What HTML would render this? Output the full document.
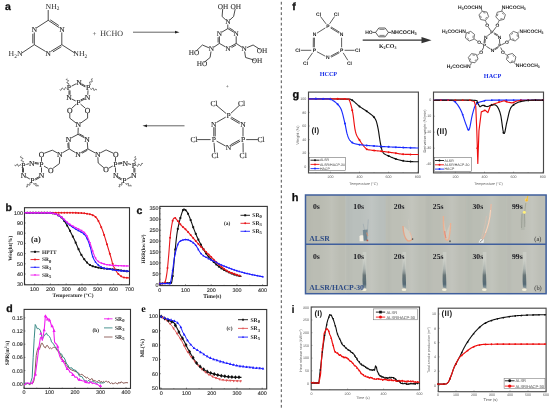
<!DOCTYPE html>
<html><head><meta charset="utf-8"><title>Figure</title><style>html,body{margin:0;padding:0;background:#fff;width:550px;height:410px;overflow:hidden}svg{display:block}text{text-rendering:geometricPrecision}</style></head><body>
<svg width="550" height="410" viewBox="0 0 550 410">
<defs><filter id="gb" x="0" y="0" width="100%" height="100%" filterUnits="userSpaceOnUse"><feGaussianBlur stdDeviation="0.3"/></filter></defs><g filter="url(#gb)">
<rect width="550" height="410" fill="#fff"/>
<text x="5.50" y="211.00" font-family="'Liberation Sans', Arial, sans-serif" font-size="10.5" font-weight="bold" fill="#111" text-anchor="start" stroke="#111" stroke-width="0.3">b</text>
<rect x="24.5" y="207.7" width="105.0" height="77.10000000000002" fill="none" stroke="#333" stroke-width="1.1"/>
<line x1="34.60" y1="284.80" x2="34.60" y2="283.50" stroke="#333" stroke-width="0.6"/>
<text x="34.60" y="290.80" font-family="'Liberation Sans', Arial, sans-serif" font-size="5.4" font-weight="normal" fill="#2a2a2a" text-anchor="middle" stroke="#2a2a2a" stroke-width="0.12">100</text>
<line x1="50.40" y1="284.80" x2="50.40" y2="283.50" stroke="#333" stroke-width="0.6"/>
<text x="50.40" y="290.80" font-family="'Liberation Sans', Arial, sans-serif" font-size="5.4" font-weight="normal" fill="#2a2a2a" text-anchor="middle" stroke="#2a2a2a" stroke-width="0.12">200</text>
<line x1="66.20" y1="284.80" x2="66.20" y2="283.50" stroke="#333" stroke-width="0.6"/>
<text x="66.20" y="290.80" font-family="'Liberation Sans', Arial, sans-serif" font-size="5.4" font-weight="normal" fill="#2a2a2a" text-anchor="middle" stroke="#2a2a2a" stroke-width="0.12">300</text>
<line x1="82.00" y1="284.80" x2="82.00" y2="283.50" stroke="#333" stroke-width="0.6"/>
<text x="82.00" y="290.80" font-family="'Liberation Sans', Arial, sans-serif" font-size="5.4" font-weight="normal" fill="#2a2a2a" text-anchor="middle" stroke="#2a2a2a" stroke-width="0.12">400</text>
<line x1="97.80" y1="284.80" x2="97.80" y2="283.50" stroke="#333" stroke-width="0.6"/>
<text x="97.80" y="290.80" font-family="'Liberation Sans', Arial, sans-serif" font-size="5.4" font-weight="normal" fill="#2a2a2a" text-anchor="middle" stroke="#2a2a2a" stroke-width="0.12">500</text>
<line x1="113.60" y1="284.80" x2="113.60" y2="283.50" stroke="#333" stroke-width="0.6"/>
<text x="113.60" y="290.80" font-family="'Liberation Sans', Arial, sans-serif" font-size="5.4" font-weight="normal" fill="#2a2a2a" text-anchor="middle" stroke="#2a2a2a" stroke-width="0.12">600</text>
<line x1="129.40" y1="284.80" x2="129.40" y2="283.50" stroke="#333" stroke-width="0.6"/>
<text x="129.40" y="290.80" font-family="'Liberation Sans', Arial, sans-serif" font-size="5.4" font-weight="normal" fill="#2a2a2a" text-anchor="middle" stroke="#2a2a2a" stroke-width="0.12">700</text>
<line x1="42.50" y1="284.80" x2="42.50" y2="284.02" stroke="#333" stroke-width="0.5"/>
<line x1="58.30" y1="284.80" x2="58.30" y2="284.02" stroke="#333" stroke-width="0.5"/>
<line x1="74.10" y1="284.80" x2="74.10" y2="284.02" stroke="#333" stroke-width="0.5"/>
<line x1="89.90" y1="284.80" x2="89.90" y2="284.02" stroke="#333" stroke-width="0.5"/>
<line x1="105.70" y1="284.80" x2="105.70" y2="284.02" stroke="#333" stroke-width="0.5"/>
<line x1="121.50" y1="284.80" x2="121.50" y2="284.02" stroke="#333" stroke-width="0.5"/>
<line x1="24.50" y1="284.20" x2="25.80" y2="284.20" stroke="#333" stroke-width="0.6"/>
<text x="23.10" y="286.10" font-family="'Liberation Sans', Arial, sans-serif" font-size="5.4" font-weight="normal" fill="#2a2a2a" text-anchor="end" stroke="#2a2a2a" stroke-width="0.12">30</text>
<line x1="24.50" y1="274.00" x2="25.80" y2="274.00" stroke="#333" stroke-width="0.6"/>
<text x="23.10" y="275.90" font-family="'Liberation Sans', Arial, sans-serif" font-size="5.4" font-weight="normal" fill="#2a2a2a" text-anchor="end" stroke="#2a2a2a" stroke-width="0.12">40</text>
<line x1="24.50" y1="263.80" x2="25.80" y2="263.80" stroke="#333" stroke-width="0.6"/>
<text x="23.10" y="265.70" font-family="'Liberation Sans', Arial, sans-serif" font-size="5.4" font-weight="normal" fill="#2a2a2a" text-anchor="end" stroke="#2a2a2a" stroke-width="0.12">50</text>
<line x1="24.50" y1="253.60" x2="25.80" y2="253.60" stroke="#333" stroke-width="0.6"/>
<text x="23.10" y="255.50" font-family="'Liberation Sans', Arial, sans-serif" font-size="5.4" font-weight="normal" fill="#2a2a2a" text-anchor="end" stroke="#2a2a2a" stroke-width="0.12">60</text>
<line x1="24.50" y1="243.40" x2="25.80" y2="243.40" stroke="#333" stroke-width="0.6"/>
<text x="23.10" y="245.30" font-family="'Liberation Sans', Arial, sans-serif" font-size="5.4" font-weight="normal" fill="#2a2a2a" text-anchor="end" stroke="#2a2a2a" stroke-width="0.12">70</text>
<line x1="24.50" y1="233.20" x2="25.80" y2="233.20" stroke="#333" stroke-width="0.6"/>
<text x="23.10" y="235.10" font-family="'Liberation Sans', Arial, sans-serif" font-size="5.4" font-weight="normal" fill="#2a2a2a" text-anchor="end" stroke="#2a2a2a" stroke-width="0.12">80</text>
<line x1="24.50" y1="223.00" x2="25.80" y2="223.00" stroke="#333" stroke-width="0.6"/>
<text x="23.10" y="224.90" font-family="'Liberation Sans', Arial, sans-serif" font-size="5.4" font-weight="normal" fill="#2a2a2a" text-anchor="end" stroke="#2a2a2a" stroke-width="0.12">90</text>
<line x1="24.50" y1="212.80" x2="25.80" y2="212.80" stroke="#333" stroke-width="0.6"/>
<text x="23.10" y="214.70" font-family="'Liberation Sans', Arial, sans-serif" font-size="5.4" font-weight="normal" fill="#2a2a2a" text-anchor="end" stroke="#2a2a2a" stroke-width="0.12">100</text>
<line x1="24.50" y1="279.10" x2="25.28" y2="279.10" stroke="#333" stroke-width="0.5"/>
<line x1="24.50" y1="268.90" x2="25.28" y2="268.90" stroke="#333" stroke-width="0.5"/>
<line x1="24.50" y1="258.70" x2="25.28" y2="258.70" stroke="#333" stroke-width="0.5"/>
<line x1="24.50" y1="248.50" x2="25.28" y2="248.50" stroke="#333" stroke-width="0.5"/>
<line x1="24.50" y1="238.30" x2="25.28" y2="238.30" stroke="#333" stroke-width="0.5"/>
<line x1="24.50" y1="228.10" x2="25.28" y2="228.10" stroke="#333" stroke-width="0.5"/>
<line x1="24.50" y1="217.90" x2="25.28" y2="217.90" stroke="#333" stroke-width="0.5"/>
<text x="73.00" y="297.40" font-family="'Liberation Serif', 'Times New Roman', serif" font-size="5.4" font-weight="bold" fill="#222" text-anchor="middle">Temperature (°C)</text>
<text x="12.30" y="248.20" font-family="'Liberation Serif', 'Times New Roman', serif" font-size="5.3" font-weight="bold" fill="#222" text-anchor="middle" transform="rotate(-90 12.3 248.2)">Weight(%)</text>
<polyline points="24.50,212.80 24.75,212.80 25.03,212.80 25.35,212.80 25.69,212.80 26.05,212.80 26.44,212.80 26.85,212.80 27.28,212.80 27.72,212.79 28.19,212.79 28.68,212.79 29.18,212.79 29.69,212.79 30.22,212.79 30.76,212.79 31.32,212.78 31.88,212.78 32.45,212.78 33.03,212.78 33.62,212.78 34.21,212.78 34.81,212.78 35.41,212.78 36.01,212.77 36.62,212.77 37.22,212.77 37.82,212.77 38.42,212.77 39.01,212.77 39.60,212.77 40.19,212.77 40.76,212.77 41.33,212.77 41.89,212.77 42.44,212.77 42.97,212.77 43.49,212.77 44.00,212.77 44.49,212.77 44.97,212.78 45.43,212.78 45.86,212.78 46.28,212.78 46.68,212.79 47.05,212.79 47.40,212.79 47.73,212.80 48.03,212.80 49.46,212.83 50.39,212.86 50.93,212.90 51.21,212.94 51.34,212.99 51.43,213.05 51.61,213.12 51.98,213.21 52.44,213.29 52.90,213.37 53.37,213.45 53.85,213.54 54.32,213.64 54.80,213.76 55.28,213.89 55.76,214.05 56.25,214.23 56.74,214.43 57.24,214.65 57.76,214.89 58.27,215.15 58.78,215.43 59.28,215.72 59.77,216.02 60.23,216.34 60.67,216.68 61.19,217.12 61.66,217.59 62.10,218.08 62.53,218.60 62.95,219.15 63.38,219.73 63.83,220.35 64.29,220.99 64.75,221.67 65.22,222.37 65.68,223.10 66.16,223.88 66.65,224.69 67.15,225.55 67.60,226.34 68.06,227.17 68.53,228.04 69.00,228.94 69.49,229.85 69.97,230.79 70.46,231.74 70.94,232.69 71.43,233.66 71.93,234.67 72.44,235.70 72.94,236.74 73.45,237.78 73.94,238.82 74.43,239.85 74.89,240.85 75.40,241.98 75.88,243.10 76.36,244.22 76.82,245.32 77.28,246.40 77.74,247.47 78.21,248.50 78.67,249.51 79.13,250.49 79.58,251.44 80.04,252.38 80.51,253.31 81.00,254.22 81.53,255.13 81.96,255.84 82.41,256.55 82.87,257.26 83.35,257.96 83.83,258.65 84.32,259.32 84.82,259.96 85.31,260.57 85.79,261.15 86.27,261.69 86.74,262.21 87.21,262.70 87.69,263.17 88.17,263.61 88.65,264.03 89.16,264.42 89.68,264.78 90.22,265.13 90.63,265.36 91.05,265.57 91.47,265.77 91.90,265.95 92.34,266.11 92.78,266.26 93.24,266.40 93.71,266.54 94.19,266.67 94.69,266.80 95.21,266.93 95.75,267.06 96.16,267.16 96.57,267.26 96.99,267.35 97.42,267.44 97.85,267.53 98.29,267.62 98.73,267.70 99.19,267.78 99.66,267.86 100.14,267.93 100.63,268.01 101.14,268.09 101.66,268.16 102.20,268.24 102.76,268.31 103.33,268.39 103.74,268.44 104.15,268.49 104.57,268.54 105.00,268.58 105.43,268.63 105.87,268.67 106.31,268.71 106.76,268.76 107.22,268.80 107.69,268.84 108.16,268.88 108.64,268.92 109.12,268.96 109.61,269.01 110.11,269.05 110.62,269.10 111.14,269.15 111.66,269.20 112.19,269.26 112.73,269.32 113.27,269.38 113.83,269.44 114.39,269.51 114.82,269.57 115.28,269.63 115.75,269.69 116.24,269.75 116.75,269.82 117.27,269.89 117.81,269.97 118.35,270.05 118.91,270.12 119.47,270.20 120.03,270.28 120.60,270.37 121.17,270.45 121.74,270.53 122.31,270.61 122.87,270.69 123.42,270.78 123.96,270.86 124.50,270.93 125.02,271.01 125.53,271.09 126.02,271.16 126.49,271.23 126.95,271.30 127.38,271.36 127.79,271.42 128.17,271.48 128.52,271.53 128.85,271.57 129.14,271.62 129.40,271.65" fill="none" stroke="#111" stroke-width="1.1" stroke-linejoin="round"/>
<rect x="26.38" y="211.85" width="1.90" height="1.90" fill="#111"/>
<rect x="29.23" y="211.84" width="1.90" height="1.90" fill="#111"/>
<rect x="32.07" y="211.83" width="1.90" height="1.90" fill="#111"/>
<rect x="34.91" y="211.82" width="1.90" height="1.90" fill="#111"/>
<rect x="37.76" y="211.82" width="1.90" height="1.90" fill="#111"/>
<rect x="40.60" y="211.82" width="1.90" height="1.90" fill="#111"/>
<rect x="43.45" y="211.82" width="1.90" height="1.90" fill="#111"/>
<rect x="46.29" y="211.84" width="1.90" height="1.90" fill="#111"/>
<rect x="49.13" y="211.90" width="1.90" height="1.90" fill="#111"/>
<rect x="51.98" y="212.42" width="1.90" height="1.90" fill="#111"/>
<rect x="54.82" y="213.10" width="1.90" height="1.90" fill="#111"/>
<rect x="57.67" y="214.39" width="1.90" height="1.90" fill="#111"/>
<rect x="60.51" y="216.44" width="1.90" height="1.90" fill="#111"/>
<rect x="63.35" y="220.06" width="1.90" height="1.90" fill="#111"/>
<rect x="66.20" y="224.60" width="1.90" height="1.90" fill="#111"/>
<rect x="69.04" y="229.88" width="1.90" height="1.90" fill="#111"/>
<rect x="71.89" y="235.57" width="1.90" height="1.90" fill="#111"/>
<rect x="74.73" y="241.68" width="1.90" height="1.90" fill="#111"/>
<rect x="77.57" y="248.23" width="1.90" height="1.90" fill="#111"/>
<rect x="80.42" y="253.91" width="1.90" height="1.90" fill="#111"/>
<rect x="83.26" y="258.21" width="1.90" height="1.90" fill="#111"/>
<rect x="86.11" y="261.59" width="1.90" height="1.90" fill="#111"/>
<rect x="88.95" y="263.98" width="1.90" height="1.90" fill="#111"/>
<rect x="91.79" y="265.30" width="1.90" height="1.90" fill="#111"/>
<rect x="94.64" y="266.07" width="1.90" height="1.90" fill="#111"/>
<rect x="97.48" y="266.69" width="1.90" height="1.90" fill="#111"/>
<rect x="100.33" y="267.16" width="1.90" height="1.90" fill="#111"/>
<rect x="103.17" y="267.54" width="1.90" height="1.90" fill="#111"/>
<rect x="106.01" y="267.82" width="1.90" height="1.90" fill="#111"/>
<rect x="108.86" y="268.08" width="1.90" height="1.90" fill="#111"/>
<rect x="111.70" y="268.36" width="1.90" height="1.90" fill="#111"/>
<rect x="114.55" y="268.70" width="1.90" height="1.90" fill="#111"/>
<rect x="117.39" y="269.09" width="1.90" height="1.90" fill="#111"/>
<rect x="120.23" y="269.50" width="1.90" height="1.90" fill="#111"/>
<rect x="123.08" y="269.91" width="1.90" height="1.90" fill="#111"/>
<rect x="125.92" y="270.33" width="1.90" height="1.90" fill="#111"/>
<polyline points="24.50,212.80 24.74,212.80 25.02,212.80 25.30,212.80 25.61,212.80 25.92,212.80 26.26,212.80 26.60,212.80 26.96,212.80 27.33,212.80 27.72,212.80 28.12,212.80 28.53,212.80 28.95,212.80 29.38,212.80 29.83,212.80 30.28,212.80 30.75,212.80 31.22,212.80 31.71,212.80 32.20,212.80 32.71,212.80 33.22,212.80 33.74,212.80 34.26,212.80 34.80,212.80 35.34,212.80 35.89,212.80 36.44,212.80 37.00,212.80 37.57,212.80 38.14,212.80 38.72,212.80 39.30,212.80 39.88,212.80 40.47,212.79 41.06,212.79 41.66,212.79 42.25,212.79 42.85,212.79 43.46,212.79 44.06,212.79 44.66,212.79 45.27,212.79 45.87,212.79 46.48,212.79 47.08,212.79 47.69,212.79 48.29,212.79 48.89,212.79 49.49,212.79 50.09,212.79 50.68,212.79 51.28,212.79 51.87,212.79 52.45,212.79 53.03,212.79 53.61,212.79 54.18,212.79 54.75,212.79 55.31,212.79 55.87,212.79 56.42,212.79 56.96,212.79 57.50,212.79 58.03,212.79 58.55,212.79 59.06,212.79 59.57,212.79 60.06,212.79 60.55,212.79 61.03,212.79 61.49,212.79 61.95,212.79 62.40,212.80 62.83,212.80 63.26,212.80 63.67,212.80 64.07,212.80 64.46,212.80 64.83,212.80 65.20,212.80 65.54,212.80 65.88,212.80 66.20,212.80 67.34,212.80 68.36,212.80 69.27,212.80 70.09,212.81 70.81,212.81 71.46,212.81 72.02,212.81 72.53,212.81 72.97,212.81 73.36,212.81 73.71,212.81 74.03,212.82 74.32,212.82 74.60,212.82 74.86,212.83 75.12,212.83 75.39,212.84 75.67,212.85 75.98,212.86 76.31,212.87 76.68,212.89 77.10,212.90 77.64,212.92 78.18,212.94 78.70,212.96 79.22,212.99 79.73,213.01 80.24,213.03 80.74,213.06 81.23,213.09 81.71,213.12 82.19,213.15 82.66,213.19 83.13,213.22 83.59,213.26 84.04,213.31 84.49,213.35 84.93,213.40 85.36,213.46 85.79,213.51 86.33,213.59 86.87,213.67 87.39,213.75 87.90,213.83 88.40,213.92 88.90,214.01 89.38,214.11 89.85,214.21 90.31,214.32 90.75,214.45 91.19,214.58 91.61,214.72 92.03,214.88 92.43,215.04 93.02,215.31 93.56,215.56 94.07,215.83 94.55,216.12 95.01,216.44 95.46,216.82 95.91,217.26 96.37,217.79 96.85,218.41 97.35,219.15 97.86,220.00 98.37,220.93 98.89,221.94 99.40,222.99 99.89,224.06 100.38,225.13 100.84,226.18 101.28,227.18 101.79,228.42 102.27,229.63 102.71,230.83 103.14,232.04 103.56,233.29 103.99,234.59 104.44,235.95 104.90,237.40 105.37,238.91 105.85,240.48 106.32,242.07 106.80,243.68 107.28,245.28 107.75,246.87 108.24,248.47 108.73,250.11 109.23,251.76 109.73,253.39 110.20,254.98 110.66,256.49 111.07,257.88 111.55,259.63 111.93,261.19 112.29,262.64 112.72,264.06 113.28,265.53 113.67,266.40 114.10,267.30 114.56,268.22 115.05,269.14 115.56,270.04 116.08,270.91 116.62,271.73 117.16,272.50 117.71,273.18 118.16,273.70 118.61,274.17 119.08,274.62 119.55,275.04 120.03,275.42 120.52,275.78 121.02,276.11 121.52,276.41 122.03,276.69 122.55,276.94 123.08,277.16 123.55,277.33 124.06,277.46 124.60,277.56 125.16,277.65 125.73,277.71 126.30,277.75 126.85,277.78 127.39,277.80 127.89,277.82 128.35,277.83 128.77,277.84 129.12,277.85 129.40,277.88" fill="none" stroke="#e8161b" stroke-width="1.1" stroke-linejoin="round"/>
<circle cx="27.33" cy="212.80" r="1.00" fill="#e8161b"/>
<circle cx="30.18" cy="212.80" r="1.00" fill="#e8161b"/>
<circle cx="33.02" cy="212.80" r="1.00" fill="#e8161b"/>
<circle cx="35.86" cy="212.80" r="1.00" fill="#e8161b"/>
<circle cx="38.71" cy="212.80" r="1.00" fill="#e8161b"/>
<circle cx="41.55" cy="212.79" r="1.00" fill="#e8161b"/>
<circle cx="44.40" cy="212.79" r="1.00" fill="#e8161b"/>
<circle cx="47.24" cy="212.79" r="1.00" fill="#e8161b"/>
<circle cx="50.08" cy="212.79" r="1.00" fill="#e8161b"/>
<circle cx="52.93" cy="212.79" r="1.00" fill="#e8161b"/>
<circle cx="55.77" cy="212.79" r="1.00" fill="#e8161b"/>
<circle cx="58.62" cy="212.79" r="1.00" fill="#e8161b"/>
<circle cx="61.46" cy="212.79" r="1.00" fill="#e8161b"/>
<circle cx="64.30" cy="212.80" r="1.00" fill="#e8161b"/>
<circle cx="67.15" cy="212.80" r="1.00" fill="#e8161b"/>
<circle cx="69.99" cy="212.81" r="1.00" fill="#e8161b"/>
<circle cx="72.84" cy="212.81" r="1.00" fill="#e8161b"/>
<circle cx="75.68" cy="212.85" r="1.00" fill="#e8161b"/>
<circle cx="78.52" cy="212.96" r="1.00" fill="#e8161b"/>
<circle cx="81.37" cy="213.10" r="1.00" fill="#e8161b"/>
<circle cx="84.21" cy="213.32" r="1.00" fill="#e8161b"/>
<circle cx="87.06" cy="213.70" r="1.00" fill="#e8161b"/>
<circle cx="89.90" cy="214.22" r="1.00" fill="#e8161b"/>
<circle cx="92.74" cy="215.19" r="1.00" fill="#e8161b"/>
<circle cx="95.59" cy="216.95" r="1.00" fill="#e8161b"/>
<circle cx="98.43" cy="221.05" r="1.00" fill="#e8161b"/>
<circle cx="101.28" cy="227.18" r="1.00" fill="#e8161b"/>
<circle cx="104.12" cy="234.99" r="1.00" fill="#e8161b"/>
<circle cx="106.96" cy="244.23" r="1.00" fill="#e8161b"/>
<circle cx="109.81" cy="253.66" r="1.00" fill="#e8161b"/>
<circle cx="112.65" cy="263.84" r="1.00" fill="#e8161b"/>
<circle cx="115.50" cy="269.93" r="1.00" fill="#e8161b"/>
<circle cx="118.34" cy="273.89" r="1.00" fill="#e8161b"/>
<circle cx="121.18" cy="276.21" r="1.00" fill="#e8161b"/>
<circle cx="124.03" cy="277.45" r="1.00" fill="#e8161b"/>
<circle cx="126.87" cy="277.78" r="1.00" fill="#e8161b"/>
<polyline points="24.50,212.80 24.75,212.80 25.03,212.80 25.35,212.80 25.69,212.80 26.05,212.80 26.44,212.80 26.85,212.80 27.28,212.80 27.72,212.79 28.19,212.79 28.68,212.79 29.18,212.79 29.69,212.79 30.22,212.79 30.76,212.79 31.32,212.78 31.88,212.78 32.45,212.78 33.03,212.78 33.62,212.78 34.21,212.78 34.81,212.78 35.41,212.78 36.01,212.77 36.62,212.77 37.22,212.77 37.82,212.77 38.42,212.77 39.01,212.77 39.60,212.77 40.19,212.77 40.76,212.77 41.33,212.77 41.89,212.77 42.44,212.77 42.97,212.77 43.49,212.77 44.00,212.77 44.49,212.77 44.97,212.78 45.43,212.78 45.86,212.78 46.28,212.78 46.68,212.79 47.05,212.79 47.40,212.79 47.73,212.80 48.03,212.80 49.46,212.83 50.39,212.86 50.93,212.90 51.21,212.94 51.34,212.99 51.43,213.05 51.61,213.12 51.98,213.21 52.43,213.28 52.88,213.35 53.33,213.42 53.78,213.50 54.25,213.59 54.72,213.70 55.21,213.84 55.71,214.01 56.25,214.23 56.66,214.41 57.10,214.62 57.54,214.84 58.00,215.07 58.47,215.33 58.94,215.59 59.42,215.87 59.90,216.17 60.37,216.48 60.85,216.80 61.32,217.14 61.78,217.49 62.27,217.90 62.76,218.34 63.25,218.82 63.73,219.31 64.22,219.82 64.70,220.33 65.19,220.85 65.68,221.36 66.16,221.86 66.65,222.34 67.15,222.80 67.60,223.20 68.06,223.59 68.52,223.98 68.98,224.37 69.44,224.75 69.90,225.12 70.37,225.48 70.83,225.84 71.29,226.19 71.75,226.53 72.22,226.86 72.68,227.18 73.14,227.49 73.60,227.79 74.06,228.08 74.53,228.35 74.99,228.62 75.45,228.88 75.92,229.14 76.38,229.40 76.84,229.66 77.30,229.91 77.75,230.18 78.21,230.45 78.71,230.74 79.22,231.02 79.74,231.31 80.26,231.59 80.78,231.87 81.29,232.15 81.78,232.44 82.27,232.74 82.73,233.05 83.17,233.37 83.58,233.71 84.16,234.24 84.68,234.75 85.15,235.28 85.58,235.85 86.01,236.49 86.44,237.23 86.90,238.10 87.38,239.12 87.88,240.28 88.38,241.55 88.87,242.88 89.35,244.23 89.80,245.58 90.22,246.87 90.71,248.66 91.13,250.48 91.52,252.29 91.93,254.02 92.43,255.64 92.82,256.72 93.23,257.74 93.66,258.73 94.11,259.67 94.60,260.57 95.15,261.44 95.75,262.27 96.13,262.74 96.53,263.21 96.95,263.67 97.39,264.12 97.85,264.55 98.31,264.97 98.79,265.38 99.28,265.76 99.78,266.12 100.27,266.46 100.77,266.78 101.28,267.06 101.73,267.30 102.17,267.50 102.61,267.67 103.05,267.82 103.49,267.95 103.94,268.06 104.40,268.17 104.89,268.26 105.39,268.36 105.93,268.45 106.50,268.56 107.10,268.67 107.75,268.80 108.14,268.88 108.55,268.96 108.97,269.04 109.41,269.13 109.86,269.21 110.32,269.30 110.80,269.39 111.28,269.48 111.77,269.57 112.27,269.66 112.77,269.75 113.28,269.84 113.79,269.92 114.31,270.01 114.82,270.09 115.34,270.17 115.85,270.25 116.36,270.32 116.86,270.39 117.36,270.46 117.85,270.52 118.34,270.58 118.81,270.63 119.32,270.69 119.83,270.73 120.37,270.78 120.91,270.81 121.46,270.85 122.02,270.88 122.58,270.91 123.14,270.94 123.70,270.96 124.25,270.98 124.80,271.00 125.33,271.02 125.85,271.04 126.35,271.05 126.83,271.07 127.29,271.08 127.72,271.09 128.13,271.10 128.50,271.11 128.84,271.12 129.14,271.13 129.40,271.14" fill="none" stroke="#1f1fff" stroke-width="1.1" stroke-linejoin="round"/>
<polygon points="27.33,211.54 26.28,213.53 28.38,213.53" fill="#1f1fff"/>
<polygon points="30.18,211.53 29.13,213.52 31.23,213.52" fill="#1f1fff"/>
<polygon points="33.02,211.52 31.97,213.52 34.07,213.52" fill="#1f1fff"/>
<polygon points="35.86,211.51 34.81,213.51 36.91,213.51" fill="#1f1fff"/>
<polygon points="38.71,211.51 37.66,213.51 39.76,213.51" fill="#1f1fff"/>
<polygon points="41.55,211.51 40.50,213.50 42.60,213.50" fill="#1f1fff"/>
<polygon points="44.40,211.51 43.35,213.51 45.45,213.51" fill="#1f1fff"/>
<polygon points="47.24,211.53 46.19,213.53 48.29,213.53" fill="#1f1fff"/>
<polygon points="50.08,211.59 49.03,213.58 51.13,213.58" fill="#1f1fff"/>
<polygon points="52.93,212.10 51.88,214.09 53.98,214.09" fill="#1f1fff"/>
<polygon points="55.77,212.78 54.72,214.77 56.82,214.77" fill="#1f1fff"/>
<polygon points="58.62,214.15 57.57,216.14 59.67,216.14" fill="#1f1fff"/>
<polygon points="61.46,215.99 60.41,217.99 62.51,217.99" fill="#1f1fff"/>
<polygon points="64.30,218.65 63.25,220.64 65.35,220.64" fill="#1f1fff"/>
<polygon points="67.15,221.54 66.10,223.53 68.20,223.53" fill="#1f1fff"/>
<polygon points="69.99,223.93 68.94,225.92 71.04,225.92" fill="#1f1fff"/>
<polygon points="72.84,226.03 71.79,228.02 73.89,228.02" fill="#1f1fff"/>
<polygon points="75.68,227.75 74.63,229.75 76.73,229.75" fill="#1f1fff"/>
<polygon points="78.52,229.37 77.47,231.37 79.57,231.37" fill="#1f1fff"/>
<polygon points="81.37,230.94 80.32,232.93 82.42,232.93" fill="#1f1fff"/>
<polygon points="84.21,233.03 83.16,235.02 85.26,235.02" fill="#1f1fff"/>
<polygon points="87.06,237.17 86.01,239.17 88.11,239.17" fill="#1f1fff"/>
<polygon points="89.90,244.63 88.85,246.62 90.95,246.62" fill="#1f1fff"/>
<polygon points="92.74,255.24 91.69,257.23 93.79,257.23" fill="#1f1fff"/>
<polygon points="95.59,260.79 94.54,262.79 96.64,262.79" fill="#1f1fff"/>
<polygon points="98.43,263.81 97.38,265.81 99.48,265.81" fill="#1f1fff"/>
<polygon points="101.28,265.80 100.23,267.80 102.33,267.80" fill="#1f1fff"/>
<polygon points="104.12,266.84 103.07,268.84 105.17,268.84" fill="#1f1fff"/>
<polygon points="106.96,267.38 105.91,269.38 108.01,269.38" fill="#1f1fff"/>
<polygon points="109.81,267.94 108.76,269.94 110.86,269.94" fill="#1f1fff"/>
<polygon points="112.65,268.47 111.60,270.46 113.70,270.46" fill="#1f1fff"/>
<polygon points="115.50,268.93 114.45,270.93 116.55,270.93" fill="#1f1fff"/>
<polygon points="118.34,269.32 117.29,271.32 119.39,271.32" fill="#1f1fff"/>
<polygon points="121.18,269.57 120.13,271.57 122.23,271.57" fill="#1f1fff"/>
<polygon points="124.03,269.72 122.98,271.71 125.08,271.71" fill="#1f1fff"/>
<polygon points="126.87,269.81 125.82,271.80 127.92,271.80" fill="#1f1fff"/>
<polyline points="24.50,212.80 24.75,212.80 25.03,212.80 25.35,212.80 25.69,212.80 26.05,212.80 26.44,212.80 26.85,212.80 27.28,212.80 27.72,212.79 28.19,212.79 28.68,212.79 29.18,212.79 29.69,212.79 30.22,212.79 30.76,212.79 31.32,212.78 31.88,212.78 32.45,212.78 33.03,212.78 33.62,212.78 34.21,212.78 34.81,212.78 35.41,212.78 36.01,212.77 36.62,212.77 37.22,212.77 37.82,212.77 38.42,212.77 39.01,212.77 39.60,212.77 40.19,212.77 40.76,212.77 41.33,212.77 41.89,212.77 42.44,212.77 42.97,212.77 43.49,212.77 44.00,212.77 44.49,212.77 44.97,212.78 45.43,212.78 45.86,212.78 46.28,212.78 46.68,212.79 47.05,212.79 47.40,212.79 47.73,212.80 48.03,212.80 49.46,212.83 50.39,212.86 50.93,212.90 51.21,212.94 51.34,212.99 51.43,213.05 51.61,213.12 51.98,213.21 52.43,213.28 52.88,213.35 53.33,213.43 53.78,213.51 54.25,213.60 54.72,213.71 55.21,213.85 55.71,214.02 56.25,214.23 56.66,214.41 57.10,214.60 57.54,214.80 58.00,215.03 58.47,215.26 58.94,215.51 59.42,215.77 59.90,216.05 60.37,216.34 60.85,216.64 61.32,216.96 61.78,217.29 62.27,217.67 62.76,218.10 63.25,218.54 63.73,219.01 64.22,219.50 64.70,219.99 65.19,220.48 65.68,220.96 66.16,221.43 66.65,221.87 67.15,222.29 67.60,222.65 68.06,223.00 68.52,223.34 68.98,223.67 69.44,223.99 69.90,224.31 70.37,224.61 70.83,224.92 71.29,225.21 71.75,225.50 72.22,225.78 72.68,226.06 73.14,226.33 73.60,226.59 74.06,226.83 74.53,227.07 74.99,227.30 75.45,227.53 75.92,227.76 76.38,227.98 76.84,228.21 77.30,228.44 77.75,228.67 78.21,228.92 78.71,229.18 79.22,229.45 79.74,229.71 80.26,229.98 80.78,230.24 81.29,230.51 81.78,230.79 82.27,231.07 82.73,231.36 83.17,231.66 83.58,231.98 84.16,232.46 84.68,232.94 85.15,233.42 85.58,233.94 86.01,234.52 86.44,235.18 86.90,235.95 87.37,236.83 87.85,237.81 88.32,238.86 88.79,239.98 89.27,241.15 89.74,242.36 90.22,243.60 90.69,244.93 91.16,246.37 91.64,247.86 92.11,249.38 92.59,250.85 93.06,252.24 93.53,253.50 93.99,254.63 94.42,255.70 94.85,256.70 95.29,257.63 95.75,258.49 96.27,259.29 96.85,260.03 97.25,260.46 97.64,260.85 98.05,261.21 98.46,261.54 98.90,261.85 99.36,262.14 99.85,262.41 100.37,262.66 100.94,262.91 101.56,263.15 102.22,263.39 102.61,263.52 103.00,263.65 103.40,263.77 103.81,263.89 104.22,264.01 104.64,264.12 105.08,264.22 105.53,264.33 105.99,264.43 106.46,264.53 106.95,264.62 107.45,264.71 107.97,264.80 108.51,264.88 109.07,264.97 109.65,265.04 110.25,265.12 110.87,265.19 111.51,265.26 112.18,265.33 112.58,265.37 113.00,265.40 113.45,265.44 113.92,265.47 114.41,265.50 114.91,265.53 115.43,265.56 115.97,265.59 116.51,265.62 117.07,265.64 117.64,265.67 118.21,265.69 118.79,265.72 119.37,265.74 119.95,265.76 120.54,265.78 121.12,265.80 121.70,265.82 122.27,265.84 122.84,265.85 123.40,265.87 123.95,265.88 124.49,265.90 125.01,265.91 125.52,265.93 126.01,265.94 126.49,265.95 126.94,265.97 127.37,265.98 127.78,265.99 128.16,266.00 128.52,266.01 128.84,266.02 129.14,266.03 129.40,266.04" fill="none" stroke="#f01cf0" stroke-width="1.1" stroke-linejoin="round"/>
<polygon points="27.33,214.06 26.28,212.06 28.38,212.06" fill="#f01cf0"/>
<polygon points="30.18,214.05 29.13,212.05 31.23,212.05" fill="#f01cf0"/>
<polygon points="33.02,214.04 31.97,212.05 34.07,212.05" fill="#f01cf0"/>
<polygon points="35.86,214.03 34.81,212.04 36.91,212.04" fill="#f01cf0"/>
<polygon points="38.71,214.03 37.66,212.04 39.76,212.04" fill="#f01cf0"/>
<polygon points="41.55,214.03 40.50,212.03 42.60,212.03" fill="#f01cf0"/>
<polygon points="44.40,214.03 43.35,212.04 45.45,212.04" fill="#f01cf0"/>
<polygon points="47.24,214.05 46.19,212.06 48.29,212.06" fill="#f01cf0"/>
<polygon points="50.08,214.11 49.03,212.11 51.13,212.11" fill="#f01cf0"/>
<polygon points="52.93,214.62 51.88,212.63 53.98,212.63" fill="#f01cf0"/>
<polygon points="55.77,215.30 54.72,213.31 56.82,213.31" fill="#f01cf0"/>
<polygon points="58.62,216.60 57.57,214.60 59.67,214.60" fill="#f01cf0"/>
<polygon points="61.46,218.32 60.41,216.33 62.51,216.33" fill="#f01cf0"/>
<polygon points="64.30,220.84 63.25,218.85 65.35,218.85" fill="#f01cf0"/>
<polygon points="67.15,223.55 66.10,221.55 68.20,221.55" fill="#f01cf0"/>
<polygon points="69.99,225.63 68.94,223.63 71.04,223.63" fill="#f01cf0"/>
<polygon points="72.84,227.41 71.79,225.42 73.89,225.42" fill="#f01cf0"/>
<polygon points="75.68,228.90 74.63,226.91 76.73,226.91" fill="#f01cf0"/>
<polygon points="78.52,230.34 77.47,228.35 79.57,228.35" fill="#f01cf0"/>
<polygon points="81.37,231.82 80.32,229.82 82.42,229.82" fill="#f01cf0"/>
<polygon points="84.21,233.77 83.16,231.78 85.26,231.78" fill="#f01cf0"/>
<polygon points="87.06,237.51 86.01,235.51 88.11,235.51" fill="#f01cf0"/>
<polygon points="89.90,244.04 88.85,242.04 90.95,242.04" fill="#f01cf0"/>
<polygon points="92.74,252.57 91.69,250.58 93.79,250.58" fill="#f01cf0"/>
<polygon points="95.59,259.44 94.54,257.45 96.64,257.45" fill="#f01cf0"/>
<polygon points="98.43,262.78 97.38,260.78 99.48,260.78" fill="#f01cf0"/>
<polygon points="101.28,264.30 100.23,262.31 102.33,262.31" fill="#f01cf0"/>
<polygon points="104.12,265.24 103.07,263.24 105.17,263.24" fill="#f01cf0"/>
<polygon points="106.96,265.88 105.91,263.89 108.01,263.89" fill="#f01cf0"/>
<polygon points="109.81,266.32 108.76,264.33 110.86,264.33" fill="#f01cf0"/>
<polygon points="112.65,266.63 111.60,264.64 113.70,264.64" fill="#f01cf0"/>
<polygon points="115.50,266.83 114.45,264.83 116.55,264.83" fill="#f01cf0"/>
<polygon points="118.34,266.96 117.29,264.96 119.39,264.96" fill="#f01cf0"/>
<polygon points="121.18,267.06 120.13,265.07 122.23,265.07" fill="#f01cf0"/>
<polygon points="124.03,267.15 122.98,265.15 125.08,265.15" fill="#f01cf0"/>
<polygon points="126.87,267.22 125.82,265.23 127.92,265.23" fill="#f01cf0"/>
<text x="31.00" y="241.60" font-family="'Liberation Serif', 'Times New Roman', serif" font-size="8.4" font-weight="bold" fill="#222" text-anchor="start">(a)</text>
<line x1="30.50" y1="251.80" x2="39.50" y2="251.80" stroke="#111" stroke-width="0.9"/>
<rect x="34.00" y="250.80" width="2.00" height="2.00" fill="#111"/>
<text x="42.00" y="253.70" font-family="'Liberation Serif', 'Times New Roman', serif" font-size="5.4" font-weight="bold" fill="#222" text-anchor="start">HPTT</text>
<line x1="30.50" y1="259.55" x2="39.50" y2="259.55" stroke="#e8161b" stroke-width="0.9"/>
<circle cx="35.00" cy="259.55" r="1.00" fill="#e8161b"/>
<text x="42.00" y="261.45" font-family="'Liberation Serif', 'Times New Roman', serif" font-size="5.4" font-weight="bold" fill="#222" text-anchor="start">SR<tspan font-size="4.6" dy="1.2">0</tspan></text>
<line x1="30.50" y1="267.30" x2="39.50" y2="267.30" stroke="#1f1fff" stroke-width="0.9"/>
<polygon points="35.00,266.10 34.00,268.00 36.00,268.00" fill="#1f1fff"/>
<text x="42.00" y="269.20" font-family="'Liberation Serif', 'Times New Roman', serif" font-size="5.4" font-weight="bold" fill="#222" text-anchor="start">SR<tspan font-size="4.6" dy="1.2">3</tspan></text>
<line x1="30.50" y1="275.05" x2="39.50" y2="275.05" stroke="#f01cf0" stroke-width="0.9"/>
<polygon points="35.00,276.25 34.00,274.35 36.00,274.35" fill="#f01cf0"/>
<text x="42.00" y="276.95" font-family="'Liberation Serif', 'Times New Roman', serif" font-size="5.4" font-weight="bold" fill="#222" text-anchor="start">SR<tspan font-size="4.6" dy="1.2">5</tspan></text>
<text x="136.50" y="214.00" font-family="'Liberation Sans', Arial, sans-serif" font-size="10.5" font-weight="bold" fill="#111" text-anchor="start" stroke="#111" stroke-width="0.3">c</text>
<rect x="159.8" y="206.4" width="107.5" height="79.20000000000002" fill="none" stroke="#333" stroke-width="1.1"/>
<line x1="159.80" y1="285.60" x2="159.80" y2="284.30" stroke="#333" stroke-width="0.6"/>
<text x="159.80" y="291.60" font-family="'Liberation Sans', Arial, sans-serif" font-size="5.4" font-weight="normal" fill="#2a2a2a" text-anchor="middle" stroke="#2a2a2a" stroke-width="0.12">0</text>
<line x1="185.50" y1="285.60" x2="185.50" y2="284.30" stroke="#333" stroke-width="0.6"/>
<text x="185.50" y="291.60" font-family="'Liberation Sans', Arial, sans-serif" font-size="5.4" font-weight="normal" fill="#2a2a2a" text-anchor="middle" stroke="#2a2a2a" stroke-width="0.12">100</text>
<line x1="211.20" y1="285.60" x2="211.20" y2="284.30" stroke="#333" stroke-width="0.6"/>
<text x="211.20" y="291.60" font-family="'Liberation Sans', Arial, sans-serif" font-size="5.4" font-weight="normal" fill="#2a2a2a" text-anchor="middle" stroke="#2a2a2a" stroke-width="0.12">200</text>
<line x1="236.90" y1="285.60" x2="236.90" y2="284.30" stroke="#333" stroke-width="0.6"/>
<text x="236.90" y="291.60" font-family="'Liberation Sans', Arial, sans-serif" font-size="5.4" font-weight="normal" fill="#2a2a2a" text-anchor="middle" stroke="#2a2a2a" stroke-width="0.12">300</text>
<line x1="262.60" y1="285.60" x2="262.60" y2="284.30" stroke="#333" stroke-width="0.6"/>
<text x="262.60" y="291.60" font-family="'Liberation Sans', Arial, sans-serif" font-size="5.4" font-weight="normal" fill="#2a2a2a" text-anchor="middle" stroke="#2a2a2a" stroke-width="0.12">400</text>
<line x1="172.65" y1="285.60" x2="172.65" y2="284.82" stroke="#333" stroke-width="0.5"/>
<line x1="198.35" y1="285.60" x2="198.35" y2="284.82" stroke="#333" stroke-width="0.5"/>
<line x1="224.05" y1="285.60" x2="224.05" y2="284.82" stroke="#333" stroke-width="0.5"/>
<line x1="249.75" y1="285.60" x2="249.75" y2="284.82" stroke="#333" stroke-width="0.5"/>
<line x1="159.80" y1="284.70" x2="161.10" y2="284.70" stroke="#333" stroke-width="0.6"/>
<text x="158.40" y="286.60" font-family="'Liberation Sans', Arial, sans-serif" font-size="5.4" font-weight="normal" fill="#2a2a2a" text-anchor="end" stroke="#2a2a2a" stroke-width="0.12">0</text>
<line x1="159.80" y1="273.80" x2="161.10" y2="273.80" stroke="#333" stroke-width="0.6"/>
<text x="158.40" y="275.70" font-family="'Liberation Sans', Arial, sans-serif" font-size="5.4" font-weight="normal" fill="#2a2a2a" text-anchor="end" stroke="#2a2a2a" stroke-width="0.12">50</text>
<line x1="159.80" y1="262.90" x2="161.10" y2="262.90" stroke="#333" stroke-width="0.6"/>
<text x="158.40" y="264.80" font-family="'Liberation Sans', Arial, sans-serif" font-size="5.4" font-weight="normal" fill="#2a2a2a" text-anchor="end" stroke="#2a2a2a" stroke-width="0.12">100</text>
<line x1="159.80" y1="252.00" x2="161.10" y2="252.00" stroke="#333" stroke-width="0.6"/>
<text x="158.40" y="253.90" font-family="'Liberation Sans', Arial, sans-serif" font-size="5.4" font-weight="normal" fill="#2a2a2a" text-anchor="end" stroke="#2a2a2a" stroke-width="0.12">150</text>
<line x1="159.80" y1="241.10" x2="161.10" y2="241.10" stroke="#333" stroke-width="0.6"/>
<text x="158.40" y="243.00" font-family="'Liberation Sans', Arial, sans-serif" font-size="5.4" font-weight="normal" fill="#2a2a2a" text-anchor="end" stroke="#2a2a2a" stroke-width="0.12">200</text>
<line x1="159.80" y1="230.20" x2="161.10" y2="230.20" stroke="#333" stroke-width="0.6"/>
<text x="158.40" y="232.10" font-family="'Liberation Sans', Arial, sans-serif" font-size="5.4" font-weight="normal" fill="#2a2a2a" text-anchor="end" stroke="#2a2a2a" stroke-width="0.12">250</text>
<line x1="159.80" y1="219.30" x2="161.10" y2="219.30" stroke="#333" stroke-width="0.6"/>
<text x="158.40" y="221.20" font-family="'Liberation Sans', Arial, sans-serif" font-size="5.4" font-weight="normal" fill="#2a2a2a" text-anchor="end" stroke="#2a2a2a" stroke-width="0.12">300</text>
<line x1="159.80" y1="208.40" x2="161.10" y2="208.40" stroke="#333" stroke-width="0.6"/>
<text x="158.40" y="210.30" font-family="'Liberation Sans', Arial, sans-serif" font-size="5.4" font-weight="normal" fill="#2a2a2a" text-anchor="end" stroke="#2a2a2a" stroke-width="0.12">350</text>
<line x1="159.80" y1="279.25" x2="160.58" y2="279.25" stroke="#333" stroke-width="0.5"/>
<line x1="159.80" y1="268.35" x2="160.58" y2="268.35" stroke="#333" stroke-width="0.5"/>
<line x1="159.80" y1="257.45" x2="160.58" y2="257.45" stroke="#333" stroke-width="0.5"/>
<line x1="159.80" y1="246.55" x2="160.58" y2="246.55" stroke="#333" stroke-width="0.5"/>
<line x1="159.80" y1="235.65" x2="160.58" y2="235.65" stroke="#333" stroke-width="0.5"/>
<line x1="159.80" y1="224.75" x2="160.58" y2="224.75" stroke="#333" stroke-width="0.5"/>
<line x1="159.80" y1="213.85" x2="160.58" y2="213.85" stroke="#333" stroke-width="0.5"/>
<text x="212.30" y="297.50" font-family="'Liberation Serif', 'Times New Roman', serif" font-size="5.6" font-weight="bold" fill="#222" text-anchor="middle">Time(s)</text>
<text x="145.30" y="249.00" font-family="'Liberation Serif', 'Times New Roman', serif" font-size="5.2" font-weight="bold" fill="#222" text-anchor="middle" transform="rotate(-90 145.3 249)">HRR(kw/m<tspan font-size="3.6" dy="-1.5">2</tspan><tspan dy="1.5">)</tspan></text>
<polyline points="159.80,283.61 160.07,283.59 160.42,283.55 160.83,283.52 161.29,283.47 161.79,283.43 162.31,283.38 162.85,283.33 163.40,283.29 163.94,283.25 164.45,283.21 164.94,283.17 165.42,283.15 165.92,283.12 166.44,283.10 166.96,283.09 167.48,283.07 167.99,283.06 168.48,283.04 168.94,283.03 169.36,283.01 169.75,282.98 170.08,282.96 170.72,283.11 171.08,283.41 171.32,283.37 171.62,282.52 172.01,280.67 172.39,278.09 172.78,275.00 173.16,271.62 173.54,267.90 173.90,263.77 174.28,259.37 174.71,254.83 175.08,250.96 175.49,246.78 175.91,242.59 176.34,238.64 176.76,235.21 177.17,232.41 177.57,230.04 177.98,227.96 178.39,226.03 178.82,224.10 179.26,222.16 179.72,220.31 180.19,218.56 180.66,216.91 181.13,215.38 181.60,213.88 182.07,212.41 182.54,211.09 183.00,210.00 183.44,209.27 183.87,208.97 184.28,209.03 184.69,209.33 185.09,209.75 185.50,210.14 185.90,210.50 186.30,210.91 186.70,211.39 187.11,212.00 187.56,212.76 187.93,213.48 188.31,214.25 188.70,215.12 189.12,216.11 189.59,217.27 190.13,218.65 190.53,219.72 190.98,220.94 191.45,222.26 191.94,223.66 192.45,225.11 192.97,226.56 193.49,227.99 194.00,229.36 194.50,230.64 194.97,231.83 195.42,232.96 195.87,234.05 196.31,235.12 196.76,236.18 197.24,237.25 197.74,238.34 198.28,239.47 198.86,240.66 199.27,241.47 199.70,242.31 200.15,243.18 200.61,244.07 201.09,244.98 201.58,245.89 202.08,246.81 202.58,247.72 203.08,248.61 203.59,249.49 204.09,250.34 204.58,251.15 205.07,251.93 205.55,252.65 206.04,253.38 206.53,254.07 207.00,254.71 207.47,255.32 207.93,255.91 208.40,256.47 208.87,257.01 209.34,257.55 209.83,258.08 210.34,258.61 210.86,259.15 211.40,259.71 211.97,260.28 212.40,260.71 212.83,261.14 213.27,261.58 213.71,262.02 214.17,262.46 214.63,262.90 215.09,263.34 215.57,263.78 216.05,264.22 216.54,264.66 217.04,265.09 217.54,265.52 218.05,265.94 218.57,266.35 219.09,266.76 219.62,267.15 220.16,267.54 220.71,267.91 221.15,268.20 221.60,268.49 222.07,268.78 222.55,269.06 223.04,269.34 223.54,269.62 224.04,269.90 224.55,270.17 225.07,270.44 225.59,270.70 226.10,270.96 226.62,271.22 227.14,271.46 227.64,271.71 228.15,271.95 228.64,272.18 229.13,272.40 229.61,272.62 230.07,272.83 230.52,273.03 230.95,273.22 231.36,273.41 231.76,273.58 232.38,273.85 232.98,274.09 233.55,274.31 234.09,274.50 234.62,274.68 235.12,274.84 235.60,274.99 236.06,275.12 236.50,275.24 236.92,275.35 237.33,275.46 237.71,275.56 238.09,275.66 238.44,275.76 239.10,275.94 239.68,276.08 240.18,276.18 240.61,276.26 240.97,276.32 241.28,276.37 241.53,276.42" fill="none" stroke="#111" stroke-width="1.1" stroke-linejoin="round"/>
<rect x="158.85" y="282.66" width="1.90" height="1.90" fill="#111"/>
<rect x="161.42" y="282.43" width="1.90" height="1.90" fill="#111"/>
<rect x="163.99" y="282.22" width="1.90" height="1.90" fill="#111"/>
<rect x="166.56" y="282.12" width="1.90" height="1.90" fill="#111"/>
<rect x="169.13" y="282.01" width="1.90" height="1.90" fill="#111"/>
<rect x="171.70" y="275.08" width="1.90" height="1.90" fill="#111"/>
<rect x="174.27" y="248.61" width="1.90" height="1.90" fill="#111"/>
<rect x="176.84" y="227.97" width="1.90" height="1.90" fill="#111"/>
<rect x="179.41" y="217.03" width="1.90" height="1.90" fill="#111"/>
<rect x="181.98" y="209.21" width="1.90" height="1.90" fill="#111"/>
<rect x="184.55" y="209.19" width="1.90" height="1.90" fill="#111"/>
<rect x="187.12" y="212.81" width="1.90" height="1.90" fill="#111"/>
<rect x="189.69" y="219.07" width="1.90" height="1.90" fill="#111"/>
<rect x="192.26" y="226.27" width="1.90" height="1.90" fill="#111"/>
<rect x="194.83" y="232.89" width="1.90" height="1.90" fill="#111"/>
<rect x="197.40" y="238.67" width="1.90" height="1.90" fill="#111"/>
<rect x="199.97" y="243.71" width="1.90" height="1.90" fill="#111"/>
<rect x="202.54" y="248.37" width="1.90" height="1.90" fill="#111"/>
<rect x="205.11" y="252.46" width="1.90" height="1.90" fill="#111"/>
<rect x="207.68" y="255.79" width="1.90" height="1.90" fill="#111"/>
<rect x="210.25" y="258.55" width="1.90" height="1.90" fill="#111"/>
<rect x="212.82" y="261.12" width="1.90" height="1.90" fill="#111"/>
<rect x="215.39" y="263.53" width="1.90" height="1.90" fill="#111"/>
<rect x="217.96" y="265.67" width="1.90" height="1.90" fill="#111"/>
<rect x="220.53" y="267.46" width="1.90" height="1.90" fill="#111"/>
<rect x="223.10" y="268.95" width="1.90" height="1.90" fill="#111"/>
<rect x="225.67" y="270.26" width="1.90" height="1.90" fill="#111"/>
<rect x="228.24" y="271.48" width="1.90" height="1.90" fill="#111"/>
<rect x="230.81" y="272.63" width="1.90" height="1.90" fill="#111"/>
<rect x="233.38" y="273.63" width="1.90" height="1.90" fill="#111"/>
<rect x="235.95" y="274.40" width="1.90" height="1.90" fill="#111"/>
<rect x="238.52" y="275.08" width="1.90" height="1.90" fill="#111"/>
<polyline points="159.80,283.61 160.09,283.60 160.49,283.58 160.96,283.57 161.47,283.54 161.99,283.51 162.47,283.46 162.88,283.39 163.36,283.41 163.78,283.53 164.17,283.56 164.55,283.29 164.94,282.52 165.36,281.23 165.77,279.57 166.19,277.54 166.60,275.17 167.00,272.49 167.47,268.51 167.93,263.89 168.37,259.00 168.80,254.18 169.18,249.38 169.53,244.45 169.90,239.65 170.34,235.21 170.75,231.86 171.22,228.57 171.71,225.53 172.19,222.89 172.65,220.83 173.08,219.45 173.49,218.64 173.90,218.24 174.30,218.08 174.71,217.99 175.08,217.99 175.42,218.18 175.77,218.55 176.20,219.08 176.76,219.74 177.14,220.18 177.55,220.70 178.00,221.28 178.47,221.90 178.97,222.56 179.49,223.23 180.03,223.90 180.58,224.56 181.13,225.19 181.55,225.63 181.99,226.07 182.43,226.50 182.88,226.92 183.34,227.35 183.81,227.77 184.29,228.21 184.78,228.66 185.27,229.12 185.77,229.60 186.27,230.11 186.79,230.64 187.23,231.11 187.68,231.60 188.13,232.11 188.59,232.63 189.05,233.16 189.52,233.70 190.00,234.25 190.48,234.81 190.96,235.37 191.45,235.94 191.95,236.52 192.45,237.10 192.96,237.68 193.47,238.27 193.92,238.78 194.37,239.30 194.83,239.83 195.30,240.37 195.77,240.91 196.24,241.46 196.71,242.01 197.19,242.56 197.68,243.11 198.17,243.67 198.66,244.22 199.15,244.78 199.65,245.34 200.16,245.89 200.67,246.44 201.18,246.99 201.64,247.47 202.10,247.95 202.57,248.44 203.05,248.92 203.53,249.41 204.01,249.89 204.50,250.38 204.99,250.86 205.48,251.35 205.98,251.83 206.47,252.31 206.96,252.80 207.46,253.28 207.95,253.77 208.45,254.25 208.94,254.74 209.43,255.22 209.92,255.71 210.40,256.19 210.89,256.69 211.37,257.18 211.86,257.69 212.34,258.19 212.83,258.69 213.31,259.20 213.80,259.70 214.28,260.20 214.77,260.70 215.25,261.19 215.74,261.68 216.23,262.16 216.71,262.63 217.20,263.10 217.68,263.55 218.17,264.00 218.65,264.43 219.14,264.85 219.63,265.27 220.13,265.69 220.63,266.10 221.13,266.50 221.63,266.90 222.13,267.30 222.64,267.69 223.13,268.06 223.63,268.43 224.12,268.79 224.61,269.14 225.09,269.48 225.57,269.80 226.04,270.12 226.50,270.41 226.95,270.70 227.39,270.97 227.94,271.28 228.48,271.57 229.01,271.83 229.53,272.06 230.03,272.28 230.53,272.47 231.02,272.66 231.50,272.83 231.98,272.99 232.46,273.15 232.93,273.30 233.39,273.46 233.86,273.63 234.33,273.80 234.85,274.00 235.38,274.19 235.93,274.39 236.49,274.59 237.04,274.79 237.58,274.97 238.11,275.16 238.61,275.33 239.08,275.49 239.51,275.64 239.90,275.77 240.23,275.89 240.50,275.98" fill="none" stroke="#e8161b" stroke-width="1.1" stroke-linejoin="round"/>
<circle cx="159.80" cy="283.61" r="1.00" fill="#e8161b"/>
<circle cx="162.37" cy="283.47" r="1.00" fill="#e8161b"/>
<circle cx="164.94" cy="282.52" r="1.00" fill="#e8161b"/>
<circle cx="167.51" cy="268.11" r="1.00" fill="#e8161b"/>
<circle cx="170.08" cy="237.84" r="1.00" fill="#e8161b"/>
<circle cx="172.65" cy="220.83" r="1.00" fill="#e8161b"/>
<circle cx="175.22" cy="218.07" r="1.00" fill="#e8161b"/>
<circle cx="177.79" cy="221.01" r="1.00" fill="#e8161b"/>
<circle cx="180.36" cy="224.30" r="1.00" fill="#e8161b"/>
<circle cx="182.93" cy="226.97" r="1.00" fill="#e8161b"/>
<circle cx="185.50" cy="229.34" r="1.00" fill="#e8161b"/>
<circle cx="188.07" cy="232.04" r="1.00" fill="#e8161b"/>
<circle cx="190.64" cy="234.99" r="1.00" fill="#e8161b"/>
<circle cx="193.21" cy="237.97" r="1.00" fill="#e8161b"/>
<circle cx="195.78" cy="240.93" r="1.00" fill="#e8161b"/>
<circle cx="198.35" cy="243.88" r="1.00" fill="#e8161b"/>
<circle cx="200.92" cy="246.71" r="1.00" fill="#e8161b"/>
<circle cx="203.49" cy="249.37" r="1.00" fill="#e8161b"/>
<circle cx="206.06" cy="251.91" r="1.00" fill="#e8161b"/>
<circle cx="208.63" cy="254.43" r="1.00" fill="#e8161b"/>
<circle cx="211.20" cy="257.01" r="1.00" fill="#e8161b"/>
<circle cx="213.77" cy="259.67" r="1.00" fill="#e8161b"/>
<circle cx="216.34" cy="262.27" r="1.00" fill="#e8161b"/>
<circle cx="218.91" cy="264.65" r="1.00" fill="#e8161b"/>
<circle cx="221.48" cy="266.78" r="1.00" fill="#e8161b"/>
<circle cx="224.05" cy="268.74" r="1.00" fill="#e8161b"/>
<circle cx="226.62" cy="270.49" r="1.00" fill="#e8161b"/>
<circle cx="229.19" cy="271.91" r="1.00" fill="#e8161b"/>
<circle cx="231.76" cy="272.91" r="1.00" fill="#e8161b"/>
<circle cx="234.33" cy="273.80" r="1.00" fill="#e8161b"/>
<circle cx="236.90" cy="274.74" r="1.00" fill="#e8161b"/>
<circle cx="239.47" cy="275.62" r="1.00" fill="#e8161b"/>
<polyline points="159.80,283.61 160.08,283.60 160.43,283.59 160.84,283.59 161.30,283.58 161.80,283.57 162.34,283.55 162.90,283.54 163.48,283.53 164.06,283.51 164.64,283.50 165.20,283.48 165.75,283.47 166.26,283.45 166.73,283.43 167.15,283.41 167.51,283.39 168.27,283.47 168.83,283.71 169.26,283.95 169.61,284.01 169.95,283.74 170.34,282.96 170.84,281.24 171.31,278.86 171.77,276.08 172.21,273.15 172.65,270.31 173.06,267.51 173.43,264.57 173.80,261.59 174.22,258.68 174.71,255.92 175.12,254.01 175.57,252.07 176.06,250.16 176.57,248.34 177.07,246.65 177.57,245.17 178.05,243.93 178.49,242.99 178.91,242.30 179.32,241.81 179.73,241.46 180.16,241.19 180.63,240.94 181.13,240.66 181.56,240.44 182.01,240.23 182.48,240.06 182.97,239.91 183.47,239.79 183.98,239.70 184.49,239.63 185.00,239.59 185.50,239.57 185.95,239.58 186.40,239.60 186.84,239.64 187.29,239.70 187.75,239.78 188.21,239.89 188.67,240.03 189.15,240.20 189.63,240.41 190.13,240.66 190.59,240.92 191.06,241.20 191.54,241.50 192.02,241.83 192.51,242.18 193.01,242.56 193.51,242.98 194.01,243.43 194.52,243.92 195.02,244.45 195.52,245.02 195.98,245.61 196.44,246.28 196.90,247.00 197.36,247.77 197.82,248.57 198.29,249.38 198.75,250.20 199.23,251.00 199.70,251.77 200.19,252.49 200.68,253.16 201.18,253.74 201.65,254.23 202.12,254.67 202.60,255.07 203.09,255.44 203.58,255.79 204.08,256.11 204.58,256.41 205.08,256.70 205.58,256.99 206.09,257.26 206.59,257.54 207.10,257.82 207.60,258.10 208.07,258.37 208.55,258.63 209.02,258.88 209.50,259.12 209.98,259.35 210.46,259.58 210.94,259.81 211.42,260.03 211.91,260.25 212.39,260.47 212.86,260.69 213.34,260.92 213.81,261.14 214.28,261.37 214.77,261.62 215.24,261.87 215.69,262.11 216.13,262.34 216.56,262.58 217.00,262.82 217.45,263.06 217.91,263.31 218.40,263.56 218.92,263.81 219.47,264.08 220.06,264.36 220.71,264.64 221.10,264.81 221.50,264.99 221.92,265.17 222.36,265.35 222.80,265.54 223.26,265.73 223.73,265.92 224.21,266.11 224.70,266.31 225.19,266.51 225.69,266.71 226.20,266.91 226.71,267.11 227.22,267.31 227.73,267.51 228.25,267.71 228.76,267.90 229.27,268.09 229.78,268.28 230.28,268.47 230.78,268.65 231.28,268.83 231.76,269.00 232.24,269.17 232.72,269.34 233.20,269.51 233.68,269.67 234.16,269.84 234.64,270.00 235.12,270.16 235.60,270.32 236.08,270.48 236.56,270.63 237.05,270.79 237.53,270.94 238.01,271.09 238.49,271.24 238.97,271.39 239.45,271.53 239.93,271.67 240.41,271.82 240.89,271.95 241.37,272.09 241.85,272.23 242.33,272.36 242.81,272.49 243.29,272.62 243.78,272.75 244.26,272.87 244.75,272.99 245.24,273.11 245.73,273.23 246.22,273.35 246.71,273.46 247.20,273.57 247.68,273.69 248.17,273.79 248.66,273.90 249.15,274.01 249.63,274.11 250.11,274.21 250.59,274.32 251.07,274.42 251.55,274.52 252.02,274.61 252.48,274.71 252.95,274.81 253.41,274.90 253.86,275.00 254.39,275.11 254.93,275.22 255.49,275.33 256.05,275.44 256.62,275.55 257.19,275.66 257.76,275.77 258.33,275.88 258.89,275.98 259.44,276.08 259.97,276.18 260.49,276.28 260.98,276.37 261.46,276.45 261.90,276.53 262.32,276.61 262.70,276.68 263.05,276.74 263.36,276.80 263.63,276.85" fill="none" stroke="#1f1fff" stroke-width="1.1" stroke-linejoin="round"/>
<polygon points="159.80,282.35 158.75,284.35 160.85,284.35" fill="#1f1fff"/>
<polygon points="162.37,282.29 161.32,284.29 163.42,284.29" fill="#1f1fff"/>
<polygon points="164.94,282.23 163.89,284.23 165.99,284.23" fill="#1f1fff"/>
<polygon points="167.51,282.13 166.46,284.13 168.56,284.13" fill="#1f1fff"/>
<polygon points="170.08,282.22 169.03,284.21 171.13,284.21" fill="#1f1fff"/>
<polygon points="172.65,269.05 171.60,271.05 173.70,271.05" fill="#1f1fff"/>
<polygon points="175.22,252.32 174.17,254.31 176.27,254.31" fill="#1f1fff"/>
<polygon points="177.79,243.34 176.74,245.34 178.84,245.34" fill="#1f1fff"/>
<polygon points="180.36,239.82 179.31,241.82 181.41,241.82" fill="#1f1fff"/>
<polygon points="182.93,238.66 181.88,240.66 183.98,240.66" fill="#1f1fff"/>
<polygon points="185.50,238.31 184.45,240.31 186.55,240.31" fill="#1f1fff"/>
<polygon points="188.07,238.60 187.02,240.59 189.12,240.59" fill="#1f1fff"/>
<polygon points="190.64,239.69 189.59,241.69 191.69,241.69" fill="#1f1fff"/>
<polygon points="193.21,241.47 192.16,243.47 194.26,243.47" fill="#1f1fff"/>
<polygon points="195.78,244.09 194.73,246.09 196.83,246.09" fill="#1f1fff"/>
<polygon points="198.35,248.24 197.30,250.23 199.40,250.23" fill="#1f1fff"/>
<polygon points="200.92,252.18 199.87,254.18 201.97,254.18" fill="#1f1fff"/>
<polygon points="203.49,254.46 202.44,256.46 204.54,256.46" fill="#1f1fff"/>
<polygon points="206.06,255.99 205.01,257.98 207.11,257.98" fill="#1f1fff"/>
<polygon points="208.63,257.41 207.58,259.41 209.68,259.41" fill="#1f1fff"/>
<polygon points="211.20,258.67 210.15,260.66 212.25,260.66" fill="#1f1fff"/>
<polygon points="213.77,259.86 212.72,261.86 214.82,261.86" fill="#1f1fff"/>
<polygon points="216.34,261.20 215.29,263.20 217.39,263.20" fill="#1f1fff"/>
<polygon points="218.91,262.55 217.86,264.55 219.96,264.55" fill="#1f1fff"/>
<polygon points="221.48,263.72 220.43,265.71 222.53,265.71" fill="#1f1fff"/>
<polygon points="224.05,264.79 223.00,266.78 225.10,266.78" fill="#1f1fff"/>
<polygon points="226.62,265.82 225.57,267.81 227.67,267.81" fill="#1f1fff"/>
<polygon points="229.19,266.80 228.14,268.80 230.24,268.80" fill="#1f1fff"/>
<polygon points="231.76,267.74 230.71,269.74 232.81,269.74" fill="#1f1fff"/>
<polygon points="234.33,268.64 233.28,270.63 235.38,270.63" fill="#1f1fff"/>
<polygon points="236.90,269.48 235.85,271.48 237.95,271.48" fill="#1f1fff"/>
<polygon points="239.47,270.28 238.42,272.27 240.52,272.27" fill="#1f1fff"/>
<polygon points="242.04,271.02 240.99,273.01 243.09,273.01" fill="#1f1fff"/>
<polygon points="244.61,271.70 243.56,273.69 245.66,273.69" fill="#1f1fff"/>
<polygon points="247.18,272.31 246.13,274.31 248.23,274.31" fill="#1f1fff"/>
<polygon points="249.75,272.88 248.70,274.87 250.80,274.87" fill="#1f1fff"/>
<polygon points="252.32,273.42 251.27,275.41 253.37,275.41" fill="#1f1fff"/>
<polygon points="254.89,273.95 253.84,275.95 255.94,275.95" fill="#1f1fff"/>
<polygon points="257.46,274.45 256.41,276.45 258.51,276.45" fill="#1f1fff"/>
<polygon points="260.03,274.93 258.98,276.93 261.08,276.93" fill="#1f1fff"/>
<polygon points="262.60,275.40 261.55,277.40 263.65,277.40" fill="#1f1fff"/>
<text x="224.00" y="225.30" font-family="'Liberation Serif', 'Times New Roman', serif" font-size="5.4" font-weight="bold" fill="#222" text-anchor="start">(a)</text>
<line x1="240.50" y1="215.30" x2="250.00" y2="215.30" stroke="#111" stroke-width="0.9"/>
<rect x="244.20" y="214.30" width="2.00" height="2.00" fill="#111"/>
<text x="252.30" y="217.20" font-family="'Liberation Serif', 'Times New Roman', serif" font-size="5.6" font-weight="bold" fill="#222" text-anchor="start">SR<tspan font-size="4.6" dy="1.2">0</tspan></text>
<line x1="240.50" y1="223.30" x2="250.00" y2="223.30" stroke="#e8161b" stroke-width="0.9"/>
<circle cx="245.20" cy="223.30" r="1.00" fill="#e8161b"/>
<text x="252.30" y="225.20" font-family="'Liberation Serif', 'Times New Roman', serif" font-size="5.6" font-weight="bold" fill="#222" text-anchor="start">SR<tspan font-size="4.6" dy="1.2">3</tspan></text>
<line x1="240.50" y1="231.30" x2="250.00" y2="231.30" stroke="#1f1fff" stroke-width="0.9"/>
<polygon points="245.20,230.10 244.20,232.00 246.20,232.00" fill="#1f1fff"/>
<text x="252.30" y="233.20" font-family="'Liberation Serif', 'Times New Roman', serif" font-size="5.6" font-weight="bold" fill="#222" text-anchor="start">SR<tspan font-size="4.6" dy="1.2">5</tspan></text>
<text x="6.20" y="311.70" font-family="'Liberation Sans', Arial, sans-serif" font-size="10.5" font-weight="bold" fill="#111" text-anchor="start" stroke="#111" stroke-width="0.3">d</text>
<rect x="24.1" y="309.4" width="106.4" height="79.0" fill="none" stroke="#333" stroke-width="1.1"/>
<line x1="24.00" y1="388.40" x2="24.00" y2="387.10" stroke="#333" stroke-width="0.6"/>
<text x="24.00" y="394.40" font-family="'Liberation Sans', Arial, sans-serif" font-size="5.4" font-weight="normal" fill="#2a2a2a" text-anchor="middle" stroke="#2a2a2a" stroke-width="0.12">0</text>
<line x1="49.50" y1="388.40" x2="49.50" y2="387.10" stroke="#333" stroke-width="0.6"/>
<text x="49.50" y="394.40" font-family="'Liberation Sans', Arial, sans-serif" font-size="5.4" font-weight="normal" fill="#2a2a2a" text-anchor="middle" stroke="#2a2a2a" stroke-width="0.12">100</text>
<line x1="75.00" y1="388.40" x2="75.00" y2="387.10" stroke="#333" stroke-width="0.6"/>
<text x="75.00" y="394.40" font-family="'Liberation Sans', Arial, sans-serif" font-size="5.4" font-weight="normal" fill="#2a2a2a" text-anchor="middle" stroke="#2a2a2a" stroke-width="0.12">200</text>
<line x1="100.50" y1="388.40" x2="100.50" y2="387.10" stroke="#333" stroke-width="0.6"/>
<text x="100.50" y="394.40" font-family="'Liberation Sans', Arial, sans-serif" font-size="5.4" font-weight="normal" fill="#2a2a2a" text-anchor="middle" stroke="#2a2a2a" stroke-width="0.12">300</text>
<line x1="126.00" y1="388.40" x2="126.00" y2="387.10" stroke="#333" stroke-width="0.6"/>
<text x="126.00" y="394.40" font-family="'Liberation Sans', Arial, sans-serif" font-size="5.4" font-weight="normal" fill="#2a2a2a" text-anchor="middle" stroke="#2a2a2a" stroke-width="0.12">400</text>
<line x1="36.75" y1="388.40" x2="36.75" y2="387.62" stroke="#333" stroke-width="0.5"/>
<line x1="62.25" y1="388.40" x2="62.25" y2="387.62" stroke="#333" stroke-width="0.5"/>
<line x1="87.75" y1="388.40" x2="87.75" y2="387.62" stroke="#333" stroke-width="0.5"/>
<line x1="113.25" y1="388.40" x2="113.25" y2="387.62" stroke="#333" stroke-width="0.5"/>
<line x1="24.10" y1="383.80" x2="25.40" y2="383.80" stroke="#333" stroke-width="0.6"/>
<text x="22.70" y="385.70" font-family="'Liberation Sans', Arial, sans-serif" font-size="5.4" font-weight="normal" fill="#2a2a2a" text-anchor="end" stroke="#2a2a2a" stroke-width="0.12">0.00</text>
<line x1="24.10" y1="370.60" x2="25.40" y2="370.60" stroke="#333" stroke-width="0.6"/>
<text x="22.70" y="372.50" font-family="'Liberation Sans', Arial, sans-serif" font-size="5.4" font-weight="normal" fill="#2a2a2a" text-anchor="end" stroke="#2a2a2a" stroke-width="0.12">0.03</text>
<line x1="24.10" y1="357.40" x2="25.40" y2="357.40" stroke="#333" stroke-width="0.6"/>
<text x="22.70" y="359.30" font-family="'Liberation Sans', Arial, sans-serif" font-size="5.4" font-weight="normal" fill="#2a2a2a" text-anchor="end" stroke="#2a2a2a" stroke-width="0.12">0.06</text>
<line x1="24.10" y1="344.20" x2="25.40" y2="344.20" stroke="#333" stroke-width="0.6"/>
<text x="22.70" y="346.10" font-family="'Liberation Sans', Arial, sans-serif" font-size="5.4" font-weight="normal" fill="#2a2a2a" text-anchor="end" stroke="#2a2a2a" stroke-width="0.12">0.09</text>
<line x1="24.10" y1="331.00" x2="25.40" y2="331.00" stroke="#333" stroke-width="0.6"/>
<text x="22.70" y="332.90" font-family="'Liberation Sans', Arial, sans-serif" font-size="5.4" font-weight="normal" fill="#2a2a2a" text-anchor="end" stroke="#2a2a2a" stroke-width="0.12">0.12</text>
<line x1="24.10" y1="317.80" x2="25.40" y2="317.80" stroke="#333" stroke-width="0.6"/>
<text x="22.70" y="319.70" font-family="'Liberation Sans', Arial, sans-serif" font-size="5.4" font-weight="normal" fill="#2a2a2a" text-anchor="end" stroke="#2a2a2a" stroke-width="0.12">0.15</text>
<text x="8.90" y="353.00" font-family="'Liberation Serif', 'Times New Roman', serif" font-size="5.6" font-weight="bold" fill="#222" text-anchor="middle" transform="rotate(-90 8.9 353)">SPR(m<tspan font-size="3.6" dy="-1.5">2</tspan><tspan dy="1.5">/s)</tspan></text>
<polyline points="24.10,384.38 25.02,383.67 26.04,384.03 27.06,383.49 28.08,383.41 29.10,384.62 30.12,384.70 31.14,382.86 32.16,383.98 33.18,382.72 34.20,379.73 35.22,368.97 36.24,355.40 37.26,350.50 38.28,347.68 39.30,349.39 40.32,346.92 41.34,343.34 42.36,343.28 43.38,345.36 44.40,347.26 45.42,347.91 46.44,345.71 47.46,345.43 48.48,347.09 49.50,348.71 50.52,347.90 51.54,348.76 52.56,347.97 53.58,347.36 54.60,347.46 55.62,347.56 56.64,350.07 57.66,350.52 58.68,352.71 59.70,353.16 60.72,354.84 61.74,358.27 62.76,359.89 63.78,361.42 64.80,361.46 65.82,364.32 66.84,365.59 67.86,367.43 68.88,367.79 69.90,368.86 70.92,369.75 71.94,370.05 72.96,370.78 73.98,370.58 75.00,371.58 76.02,371.55 77.04,372.22 78.06,372.44 79.08,373.65 80.10,375.28 81.12,374.26 82.14,374.54 83.16,375.19 84.18,376.44 85.20,376.63 86.22,378.20 87.24,377.22 88.26,378.17 89.28,379.19 90.30,380.06 91.32,378.70 92.34,378.79 93.36,381.16 94.38,379.97 95.40,381.02 96.42,381.71 97.44,381.53 98.46,380.61 99.48,380.51 100.50,382.46 101.52,381.33 102.54,382.71 103.56,381.36 104.58,382.34 105.60,381.26 106.62,381.17 107.64,382.34 108.66,381.38 109.68,383.03 110.70,383.67 111.72,382.64 112.74,383.95 113.76,383.59 114.78,383.12 115.80,382.68 116.82,383.68 117.84,383.93 118.86,382.11 119.88,383.33 120.90,381.91 121.92,382.05 122.94,383.19 123.96,383.01 124.98,382.88 126.00,382.60 127.02,382.71 128.04,382.79" fill="none" stroke="#8a5a55" stroke-width="1.0" stroke-linejoin="round"/>
<polyline points="24.10,383.54 25.02,382.80 26.04,383.72 27.06,383.85 28.08,383.18 29.10,384.21 30.12,384.03 31.14,380.94 32.16,377.56 33.18,357.36 34.20,338.59 35.22,324.49 36.24,326.29 37.26,328.80 38.28,328.51 39.30,328.99 40.32,330.45 41.34,333.96 42.36,339.36 43.38,336.85 44.40,335.78 45.42,334.00 46.44,333.08 47.46,335.14 48.48,335.55 49.50,336.65 50.52,338.58 51.54,341.88 52.56,342.97 53.58,344.09 54.60,346.06 55.62,347.32 56.64,348.76 57.66,349.90 58.68,350.67 59.70,352.59 60.72,353.70 61.74,354.20 62.76,357.20 63.78,357.38 64.80,358.98 65.82,361.95 66.84,364.17 67.86,364.93 68.88,367.33 69.90,367.96 70.92,367.92 71.94,367.86 72.96,369.68 73.98,369.71 75.00,370.29 76.02,370.46 77.04,372.60 78.06,372.95 79.08,375.73 80.10,376.28 81.12,376.45 82.14,376.78 83.16,378.59 84.18,379.94 85.20,381.02 86.22,380.73 87.24,381.66 88.26,380.49 89.28,380.61 90.30,382.24 91.32,382.22 92.34,381.24 93.36,381.79 94.38,381.62 95.40,382.82 96.42,383.34 97.44,383.03 98.46,381.97 99.48,383.17 100.50,383.05 101.52,382.94 102.54,382.98 103.56,383.05 104.58,381.97" fill="none" stroke="#3a8a86" stroke-width="1.0" stroke-linejoin="round"/>
<polyline points="24.10,384.41 25.02,384.64 26.04,382.96 27.06,383.05 28.08,382.83 29.10,383.78 30.12,382.84 31.14,382.85 32.16,383.81 33.18,380.32 34.20,377.59 35.22,375.32 36.24,368.25 37.26,360.50 38.28,352.25 39.30,344.92 40.32,338.06 41.34,336.78 42.36,340.33 43.38,335.22 44.40,327.73 45.42,315.51 46.44,317.41 47.46,318.52 48.48,319.08 49.50,319.58 50.52,322.45 51.54,326.01 52.56,326.53 53.58,329.08 54.60,342.12 55.62,343.52 56.64,344.19 57.66,346.88 58.68,352.31 59.70,356.21 60.72,358.19 61.74,359.86 62.76,360.29 63.78,362.74 64.80,363.98 65.82,366.52 66.84,368.57 67.86,369.34 68.88,369.98 69.90,372.26 70.92,372.30 71.94,373.21 72.96,374.45 73.98,375.17 75.00,377.35 76.02,377.01 77.04,377.35 78.06,379.53 79.08,379.89 80.10,380.31 81.12,380.19 82.14,380.72 83.16,380.97 84.18,380.78 85.20,382.48 86.22,382.67 87.24,382.70 88.26,382.87 89.28,383.13 90.30,381.70 91.32,382.08 92.34,383.60 93.36,383.03 94.38,383.52 95.40,383.69 96.42,384.25 97.44,384.35 98.46,385.08 99.48,385.95 100.50,386.54" fill="none" stroke="#f01cf0" stroke-width="1.1" stroke-linejoin="round"/>
<polygon points="35.48,372.48 33.88,375.52 37.08,375.52" fill="#f01cf0"/>
<polygon points="38.79,346.10 37.19,349.14 40.39,349.14" fill="#f01cf0"/>
<polygon points="40.83,331.81 39.23,334.85 42.43,334.85" fill="#f01cf0"/>
<polygon points="44.14,328.33 42.54,331.37 45.74,331.37" fill="#f01cf0"/>
<polygon points="45.42,314.30 43.82,317.34 47.02,317.34" fill="#f01cf0"/>
<polygon points="47.46,317.34 45.86,320.38 49.06,320.38" fill="#f01cf0"/>
<polygon points="49.50,318.37 47.90,321.41 51.10,321.41" fill="#f01cf0"/>
<polygon points="52.05,324.28 50.45,327.32 53.65,327.32" fill="#f01cf0"/>
<polygon points="54.09,328.88 52.49,331.92 55.69,331.92" fill="#f01cf0"/>
<polygon points="57.66,344.81 56.06,347.85 59.26,347.85" fill="#f01cf0"/>
<polygon points="62.76,359.01 61.16,362.05 64.36,362.05" fill="#f01cf0"/>
<polygon points="67.35,366.91 65.75,369.95 68.95,369.95" fill="#f01cf0"/>
<polygon points="72.70,372.88 71.11,375.92 74.30,375.92" fill="#f01cf0"/>
<polygon points="79.34,377.73 77.74,380.77 80.94,380.77" fill="#f01cf0"/>
<polygon points="85.97,379.92 84.37,382.96 87.56,382.96" fill="#f01cf0"/>
<polygon points="100.50,384.08 98.90,387.12 102.10,387.12" fill="#f01cf0"/>
<text x="92.50" y="332.00" font-family="'Liberation Serif', 'Times New Roman', serif" font-size="5.4" font-weight="bold" fill="#222" text-anchor="start">(b)</text>
<line x1="104.00" y1="318.80" x2="112.50" y2="318.80" stroke="#f01cf0" stroke-width="0.9"/>
<polygon points="108.20,317.48 107.10,319.57 109.30,319.57" fill="#f01cf0"/>
<text x="115.00" y="320.70" font-family="'Liberation Serif', 'Times New Roman', serif" font-size="5.6" font-weight="bold" fill="#222" text-anchor="start">SR<tspan font-size="4.6" dy="1.2">0</tspan></text>
<line x1="104.00" y1="327.90" x2="112.50" y2="327.90" stroke="#3a8a86" stroke-width="0.9"/>
<text x="115.00" y="329.80" font-family="'Liberation Serif', 'Times New Roman', serif" font-size="5.6" font-weight="bold" fill="#222" text-anchor="start">SR<tspan font-size="4.6" dy="1.2">3</tspan></text>
<line x1="104.00" y1="337.00" x2="112.50" y2="337.00" stroke="#8a5a55" stroke-width="0.9"/>
<text x="115.00" y="338.90" font-family="'Liberation Serif', 'Times New Roman', serif" font-size="5.6" font-weight="bold" fill="#222" text-anchor="start">SR<tspan font-size="4.6" dy="1.2">5</tspan></text>
<text x="141.20" y="311.80" font-family="'Liberation Serif', 'Times New Roman', serif" font-size="10.2" font-weight="bold" fill="#111" text-anchor="start">e</text>
<rect x="159.5" y="309.5" width="107.19999999999999" height="79.5" fill="none" stroke="#333" stroke-width="1.1"/>
<line x1="161.20" y1="389.00" x2="161.20" y2="387.70" stroke="#333" stroke-width="0.6"/>
<text x="161.20" y="395.00" font-family="'Liberation Sans', Arial, sans-serif" font-size="5.4" font-weight="normal" fill="#2a2a2a" text-anchor="middle" stroke="#2a2a2a" stroke-width="0.12">0</text>
<line x1="186.45" y1="389.00" x2="186.45" y2="387.70" stroke="#333" stroke-width="0.6"/>
<text x="186.45" y="395.00" font-family="'Liberation Sans', Arial, sans-serif" font-size="5.4" font-weight="normal" fill="#2a2a2a" text-anchor="middle" stroke="#2a2a2a" stroke-width="0.12">100</text>
<line x1="211.70" y1="389.00" x2="211.70" y2="387.70" stroke="#333" stroke-width="0.6"/>
<text x="211.70" y="395.00" font-family="'Liberation Sans', Arial, sans-serif" font-size="5.4" font-weight="normal" fill="#2a2a2a" text-anchor="middle" stroke="#2a2a2a" stroke-width="0.12">200</text>
<line x1="236.95" y1="389.00" x2="236.95" y2="387.70" stroke="#333" stroke-width="0.6"/>
<text x="236.95" y="395.00" font-family="'Liberation Sans', Arial, sans-serif" font-size="5.4" font-weight="normal" fill="#2a2a2a" text-anchor="middle" stroke="#2a2a2a" stroke-width="0.12">300</text>
<line x1="262.20" y1="389.00" x2="262.20" y2="387.70" stroke="#333" stroke-width="0.6"/>
<text x="262.20" y="395.00" font-family="'Liberation Sans', Arial, sans-serif" font-size="5.4" font-weight="normal" fill="#2a2a2a" text-anchor="middle" stroke="#2a2a2a" stroke-width="0.12">400</text>
<line x1="173.82" y1="389.00" x2="173.82" y2="388.22" stroke="#333" stroke-width="0.5"/>
<line x1="199.07" y1="389.00" x2="199.07" y2="388.22" stroke="#333" stroke-width="0.5"/>
<line x1="224.32" y1="389.00" x2="224.32" y2="388.22" stroke="#333" stroke-width="0.5"/>
<line x1="249.57" y1="389.00" x2="249.57" y2="388.22" stroke="#333" stroke-width="0.5"/>
<line x1="159.50" y1="388.00" x2="160.80" y2="388.00" stroke="#333" stroke-width="0.6"/>
<text x="158.10" y="389.90" font-family="'Liberation Sans', Arial, sans-serif" font-size="5.4" font-weight="normal" fill="#2a2a2a" text-anchor="end" stroke="#2a2a2a" stroke-width="0.12">50</text>
<line x1="159.50" y1="373.70" x2="160.80" y2="373.70" stroke="#333" stroke-width="0.6"/>
<text x="158.10" y="375.60" font-family="'Liberation Sans', Arial, sans-serif" font-size="5.4" font-weight="normal" fill="#2a2a2a" text-anchor="end" stroke="#2a2a2a" stroke-width="0.12">60</text>
<line x1="159.50" y1="359.40" x2="160.80" y2="359.40" stroke="#333" stroke-width="0.6"/>
<text x="158.10" y="361.30" font-family="'Liberation Sans', Arial, sans-serif" font-size="5.4" font-weight="normal" fill="#2a2a2a" text-anchor="end" stroke="#2a2a2a" stroke-width="0.12">70</text>
<line x1="159.50" y1="345.10" x2="160.80" y2="345.10" stroke="#333" stroke-width="0.6"/>
<text x="158.10" y="347.00" font-family="'Liberation Sans', Arial, sans-serif" font-size="5.4" font-weight="normal" fill="#2a2a2a" text-anchor="end" stroke="#2a2a2a" stroke-width="0.12">80</text>
<line x1="159.50" y1="330.80" x2="160.80" y2="330.80" stroke="#333" stroke-width="0.6"/>
<text x="158.10" y="332.70" font-family="'Liberation Sans', Arial, sans-serif" font-size="5.4" font-weight="normal" fill="#2a2a2a" text-anchor="end" stroke="#2a2a2a" stroke-width="0.12">90</text>
<line x1="159.50" y1="316.50" x2="160.80" y2="316.50" stroke="#333" stroke-width="0.6"/>
<text x="158.10" y="318.40" font-family="'Liberation Sans', Arial, sans-serif" font-size="5.4" font-weight="normal" fill="#2a2a2a" text-anchor="end" stroke="#2a2a2a" stroke-width="0.12">100</text>
<line x1="159.50" y1="380.85" x2="160.28" y2="380.85" stroke="#333" stroke-width="0.5"/>
<line x1="159.50" y1="366.55" x2="160.28" y2="366.55" stroke="#333" stroke-width="0.5"/>
<line x1="159.50" y1="352.25" x2="160.28" y2="352.25" stroke="#333" stroke-width="0.5"/>
<line x1="159.50" y1="337.95" x2="160.28" y2="337.95" stroke="#333" stroke-width="0.5"/>
<line x1="159.50" y1="323.65" x2="160.28" y2="323.65" stroke="#333" stroke-width="0.5"/>
<text x="144.20" y="348.00" font-family="'Liberation Serif', 'Times New Roman', serif" font-size="5.6" font-weight="bold" fill="#222" text-anchor="middle" transform="rotate(-90 144.2 348)">ML(%)</text>
<polyline points="161.20,316.62 162.46,317.67 163.72,318.26 164.99,319.04 166.25,320.18 167.51,321.30 168.77,322.45 170.04,323.89 171.30,325.30 172.56,326.75 173.82,328.93 175.09,330.52 176.35,332.54 177.61,334.57 178.88,336.51 180.14,338.32 181.40,340.12 182.66,342.84 183.92,345.17 185.19,347.86 186.45,350.17 187.71,351.86 188.97,353.64 190.24,355.95 191.50,357.32 192.76,358.93 194.02,360.23 195.29,361.80 196.55,363.66 197.81,364.70 199.07,366.19 200.34,367.98 201.60,369.10 202.86,370.40 204.12,370.96 205.39,372.12 206.65,373.01 207.91,374.05 209.17,374.77 210.44,375.35 211.70,376.10 212.96,377.06 214.22,377.34 215.49,378.19 216.75,378.51 218.01,378.48 219.27,379.42 220.54,379.81 221.80,380.03 223.06,379.63 224.32,380.29 225.59,380.56 226.85,380.13 228.11,380.80 229.38,380.44 230.64,380.63 231.90,380.56 233.16,380.52 234.42,380.84 235.69,380.72 236.95,381.31 238.21,380.84 239.47,381.06 240.74,380.96" fill="none" stroke="#e05555" stroke-width="1.0" stroke-linejoin="round"/>
<polyline points="161.20,316.84 162.46,316.84 163.72,317.24 164.99,318.54 166.25,318.83 167.51,318.96 168.77,319.07 170.04,319.91 171.30,320.30 172.56,320.58 173.82,320.77 175.09,321.15 176.35,321.97 177.61,322.98 178.88,324.39 180.14,325.87 181.40,328.64 182.66,331.88 183.92,334.24 185.19,336.04 186.45,338.73 187.71,340.65 188.97,342.77 190.24,343.83 191.50,345.28 192.76,346.87 194.02,348.15 195.29,348.94 196.55,349.56 197.81,350.10 199.07,351.51 200.34,352.40 201.60,352.68 202.86,353.38 204.12,354.56 205.39,355.46 206.65,355.88 207.91,356.97 209.17,357.53 210.44,358.22 211.70,358.52 212.96,359.22 214.22,359.70 215.49,359.72 216.75,359.90 218.01,360.88 219.27,360.93 220.54,361.59 221.80,361.55 223.06,362.10 224.32,362.69 225.59,363.05 226.85,363.53 228.11,363.46 229.38,363.86 230.64,364.35 231.90,364.51 233.16,364.85 234.42,364.78 235.69,365.64 236.95,365.23 238.21,365.98 239.47,366.06 240.74,366.33 242.00,366.17 243.26,366.34 244.52,366.73 245.79,366.95 247.05,366.90 248.31,366.91 249.57,367.43 250.84,367.26 252.10,367.19 253.36,367.74 254.62,368.07 255.89,368.18 257.15,367.89 258.41,368.05 259.67,367.93 260.94,368.15 262.20,368.79 263.46,368.96" fill="none" stroke="#1f1fff" stroke-width="1.0" stroke-linejoin="round"/>
<polyline points="161.20,316.50 161.49,316.66 161.84,316.86 162.26,317.10 162.73,317.37 163.24,317.66 163.78,317.97 164.34,318.29 164.92,318.62 165.50,318.95 166.08,319.27 166.65,319.57 167.19,319.86 167.70,320.13 168.17,320.36 168.73,320.61 169.29,320.82 169.83,320.99 170.36,321.15 170.88,321.29 171.39,321.43 171.88,321.59 172.35,321.77 172.80,321.99 173.24,322.25 173.65,322.56 174.23,323.16 174.75,323.86 175.22,324.62 175.65,325.44 176.08,326.30 176.50,327.17 176.96,328.04 177.43,328.93 177.90,329.87 178.36,330.85 178.83,331.83 179.30,332.80 179.77,333.74 180.24,334.63 180.70,335.44 181.14,336.18 181.59,336.88 182.04,337.59 182.50,338.34 182.99,339.16 183.52,340.11 183.96,340.95 184.42,341.86 184.90,342.83 185.40,343.85 185.90,344.88 186.41,345.92 186.92,346.95 187.42,347.94 187.91,348.89 188.40,349.80 188.89,350.69 189.38,351.57 189.87,352.44 190.36,353.29 190.84,354.13 191.33,354.96 191.82,355.77 192.31,356.57 192.80,357.36 193.28,358.15 193.77,358.93 194.26,359.69 194.75,360.44 195.24,361.17 195.73,361.86 196.21,362.53 196.70,363.16 197.18,363.75 197.64,364.28 198.09,364.79 198.54,365.26 198.99,365.72 199.47,366.17 199.97,366.62 200.51,367.08 201.09,367.55 201.50,367.87 201.92,368.20 202.36,368.53 202.81,368.87 203.28,369.21 203.76,369.55 204.24,369.88 204.73,370.21 205.22,370.54 205.72,370.85 206.21,371.15 206.70,371.43 207.19,371.70 207.66,371.94 208.13,372.17 208.60,372.37 209.07,372.57 209.54,372.75 210.01,372.91 210.48,373.07 210.95,373.21 211.42,373.35 211.90,373.49 212.37,373.61 212.84,373.74 213.31,373.87 213.78,374.00 214.25,374.13 214.72,374.26 215.17,374.39 215.62,374.51 216.07,374.62 216.51,374.74 216.96,374.85 217.41,374.96 217.86,375.06 218.32,375.17 218.80,375.27 219.28,375.37 219.78,375.47 220.30,375.57 220.84,375.67 221.27,375.75 221.70,375.83 222.14,375.92 222.59,376.00 223.04,376.08 223.49,376.16 223.96,376.24 224.43,376.32 224.90,376.40 225.39,376.48 225.89,376.55 226.39,376.62 226.90,376.69 227.43,376.76 227.96,376.82 228.50,376.88 229.06,376.94 229.63,376.99 230.07,377.02 230.55,377.06 231.04,377.09 231.56,377.12 232.10,377.14 232.66,377.17 233.22,377.19 233.79,377.21 234.37,377.23 234.95,377.25 235.53,377.27 236.11,377.29 236.68,377.30 237.24,377.31 237.78,377.33 238.30,377.34 238.81,377.35 239.29,377.36 239.74,377.37 240.17,377.38 240.56,377.39 240.91,377.40 241.23,377.41 241.50,377.42" fill="none" stroke="#111" stroke-width="1.1" stroke-linejoin="round"/>
<polygon points="161.20,314.49 162.75,316.50 161.20,318.51 159.65,316.50" fill="#111"/>
<polygon points="164.73,316.44 166.28,318.46 164.73,320.47 163.18,318.46" fill="#111"/>
<polygon points="168.27,318.39 169.82,320.40 168.27,322.42 166.72,320.40" fill="#111"/>
<polygon points="171.80,319.81 173.35,321.82 171.80,323.84 170.25,321.82" fill="#111"/>
<polygon points="175.34,323.35 176.89,325.36 175.34,327.38 173.79,325.36" fill="#111"/>
<polygon points="178.88,329.88 180.43,331.89 178.88,333.91 177.32,331.89" fill="#111"/>
<polygon points="182.41,336.24 183.96,338.26 182.41,340.27 180.86,338.26" fill="#111"/>
<polygon points="185.94,342.94 187.50,344.95 185.94,346.97 184.39,344.95" fill="#111"/>
<polygon points="189.48,349.61 191.03,351.63 189.48,353.64 187.93,351.63" fill="#111"/>
<polygon points="193.01,355.61 194.56,357.63 193.01,359.64 191.46,357.63" fill="#111"/>
<polygon points="196.55,360.92 198.10,362.93 196.55,364.95 195.00,362.93" fill="#111"/>
<polygon points="200.08,364.53 201.63,366.54 200.08,368.56 198.53,366.54" fill="#111"/>
<polygon points="203.62,367.22 205.17,369.24 203.62,371.25 202.07,369.24" fill="#111"/>
<polygon points="207.15,369.59 208.70,371.60 207.15,373.62 205.60,371.60" fill="#111"/>
<polygon points="210.69,370.93 212.24,372.95 210.69,374.96 209.14,372.95" fill="#111"/>
<polygon points="214.22,372.11 215.78,374.12 214.22,376.14 212.67,374.12" fill="#111"/>
<polygon points="217.76,372.94 219.31,374.95 217.76,376.97 216.21,374.95" fill="#111"/>
<polygon points="221.29,373.73 222.84,375.74 221.29,377.76 219.74,375.74" fill="#111"/>
<polygon points="224.83,374.26 226.38,376.27 224.83,378.29 223.28,376.27" fill="#111"/>
<polygon points="228.37,374.78 229.92,376.80 228.37,378.81 226.81,376.80" fill="#111"/>
<polygon points="231.90,375.06 233.45,377.07 231.90,379.09 230.35,377.07" fill="#111"/>
<polygon points="235.44,375.18 236.99,377.20 235.44,379.21 233.88,377.20" fill="#111"/>
<polygon points="238.97,375.31 240.52,377.33 238.97,379.34 237.42,377.33" fill="#111"/>
<polygon points="162.97,319.32 161.67,316.85 164.27,316.85" fill="#e05555"/>
<polygon points="166.50,321.84 165.20,319.37 167.80,319.37" fill="#e05555"/>
<polygon points="170.04,325.36 168.74,322.89 171.34,322.89" fill="#e05555"/>
<polygon points="173.57,330.03 172.27,327.56 174.87,327.56" fill="#e05555"/>
<polygon points="177.11,335.32 175.81,332.85 178.41,332.85" fill="#e05555"/>
<polygon points="180.64,340.64 179.34,338.17 181.94,338.17" fill="#e05555"/>
<polygon points="184.18,347.37 182.88,344.90 185.48,344.90" fill="#e05555"/>
<polygon points="187.71,353.44 186.41,350.97 189.01,350.97" fill="#e05555"/>
<polygon points="191.25,358.50 189.95,356.03 192.55,356.03" fill="#e05555"/>
<polygon points="194.78,363.03 193.48,360.56 196.08,360.56" fill="#e05555"/>
<polygon points="198.32,367.11 197.02,364.64 199.62,364.64" fill="#e05555"/>
<polygon points="201.85,370.84 200.55,368.37 203.15,368.37" fill="#e05555"/>
<polygon points="205.39,373.79 204.09,371.32 206.69,371.32" fill="#e05555"/>
<polygon points="208.92,376.32 207.62,373.85 210.22,373.85" fill="#e05555"/>
<polygon points="212.46,378.08 211.16,375.61 213.76,375.61" fill="#e05555"/>
<polygon points="215.99,379.56 214.69,377.09 217.29,377.09" fill="#e05555"/>
<polygon points="219.53,380.74 218.23,378.27 220.83,378.27" fill="#e05555"/>
<polygon points="223.06,381.46 221.76,378.99 224.36,378.99" fill="#e05555"/>
<polygon points="226.60,381.90 225.30,379.43 227.90,379.43" fill="#e05555"/>
<polygon points="230.13,382.30 228.83,379.83 231.43,379.83" fill="#e05555"/>
<polygon points="233.67,382.42 232.37,379.95 234.97,379.95" fill="#e05555"/>
<polygon points="237.20,382.55 235.90,380.08 238.50,380.08" fill="#e05555"/>
<polygon points="240.74,382.68 239.44,380.21 242.04,380.21" fill="#e05555"/>
<polygon points="161.20,314.88 159.85,317.44 162.55,317.44" fill="#1f1fff"/>
<polygon points="164.48,316.33 163.13,318.89 165.83,318.89" fill="#1f1fff"/>
<polygon points="167.76,317.46 166.41,320.03 169.11,320.03" fill="#1f1fff"/>
<polygon points="171.05,318.34 169.70,320.90 172.40,320.90" fill="#1f1fff"/>
<polygon points="174.33,319.45 172.98,322.01 175.68,322.01" fill="#1f1fff"/>
<polygon points="177.61,321.25 176.26,323.81 178.96,323.81" fill="#1f1fff"/>
<polygon points="180.89,325.77 179.54,328.33 182.24,328.33" fill="#1f1fff"/>
<polygon points="184.18,333.06 182.83,335.62 185.53,335.62" fill="#1f1fff"/>
<polygon points="187.46,338.80 186.11,341.36 188.81,341.36" fill="#1f1fff"/>
<polygon points="190.74,342.98 189.39,345.54 192.09,345.54" fill="#1f1fff"/>
<polygon points="194.02,346.55 192.67,349.11 195.37,349.11" fill="#1f1fff"/>
<polygon points="197.31,348.52 195.96,351.08 198.66,351.08" fill="#1f1fff"/>
<polygon points="200.59,350.60 199.24,353.16 201.94,353.16" fill="#1f1fff"/>
<polygon points="203.87,352.79 202.52,355.35 205.22,355.35" fill="#1f1fff"/>
<polygon points="207.15,354.70 205.80,357.26 208.50,357.26" fill="#1f1fff"/>
<polygon points="210.44,356.34 209.09,358.91 211.79,358.91" fill="#1f1fff"/>
<polygon points="213.72,357.69 212.37,360.26 215.07,360.26" fill="#1f1fff"/>
<polygon points="217.00,358.75 215.65,361.32 218.35,361.32" fill="#1f1fff"/>
<polygon points="220.28,359.82 218.94,362.38 221.63,362.38" fill="#1f1fff"/>
<polygon points="223.57,360.68 222.22,363.24 224.92,363.24" fill="#1f1fff"/>
<polygon points="226.85,361.50 225.50,364.07 228.20,364.07" fill="#1f1fff"/>
<polygon points="230.13,362.32 228.78,364.89 231.48,364.89" fill="#1f1fff"/>
<polygon points="233.41,363.14 232.06,365.71 234.76,365.71" fill="#1f1fff"/>
<polygon points="236.70,363.96 235.35,366.53 238.05,366.53" fill="#1f1fff"/>
<polygon points="239.98,364.59 238.63,367.15 241.33,367.15" fill="#1f1fff"/>
<polygon points="243.26,365.00 241.91,367.56 244.61,367.56" fill="#1f1fff"/>
<polygon points="246.54,365.41 245.19,367.97 247.89,367.97" fill="#1f1fff"/>
<polygon points="249.83,365.75 248.48,368.31 251.18,368.31" fill="#1f1fff"/>
<polygon points="253.11,366.07 251.76,368.63 254.46,368.63" fill="#1f1fff"/>
<polygon points="256.39,366.39 255.04,368.95 257.74,368.95" fill="#1f1fff"/>
<polygon points="259.67,366.71 258.32,369.27 261.02,369.27" fill="#1f1fff"/>
<polygon points="262.96,367.03 261.61,369.59 264.31,369.59" fill="#1f1fff"/>
<text x="226.50" y="330.00" font-family="'Liberation Serif', 'Times New Roman', serif" font-size="5.4" font-weight="bold" fill="#222" text-anchor="start">(c)</text>
<line x1="238.00" y1="319.70" x2="248.00" y2="319.70" stroke="#111" stroke-width="0.9"/>
<polygon points="243.00,318.27 244.10,319.70 243.00,321.13 241.90,319.70" fill="#111"/>
<text x="250.50" y="321.60" font-family="'Liberation Serif', 'Times New Roman', serif" font-size="5.6" font-weight="bold" fill="#222" text-anchor="start">SR<tspan font-size="4.6" dy="1.2">0</tspan></text>
<line x1="238.00" y1="328.40" x2="248.00" y2="328.40" stroke="#e05555" stroke-width="0.9"/>
<polygon points="243.00,329.72 241.90,327.63 244.10,327.63" fill="#e05555"/>
<text x="250.50" y="330.30" font-family="'Liberation Serif', 'Times New Roman', serif" font-size="5.6" font-weight="bold" fill="#222" text-anchor="start">SR<tspan font-size="4.6" dy="1.2">3</tspan></text>
<line x1="238.00" y1="337.10" x2="248.00" y2="337.10" stroke="#1f1fff" stroke-width="0.9"/>
<polygon points="243.00,335.78 241.90,337.87 244.10,337.87" fill="#1f1fff"/>
<text x="250.50" y="339.00" font-family="'Liberation Serif', 'Times New Roman', serif" font-size="5.6" font-weight="bold" fill="#222" text-anchor="start">SR<tspan font-size="4.6" dy="1.2">5</tspan></text>
<text x="292.50" y="98.00" font-family="'Liberation Sans', Arial, sans-serif" font-size="11" font-weight="bold" fill="#111" text-anchor="start" stroke="#111" stroke-width="0.3">g</text>
<rect x="308.5" y="92.1" width="109.89999999999998" height="80.80000000000001" fill="none" stroke="#4a4a4a" stroke-width="1.15"/>
<line x1="330.40" y1="172.90" x2="330.40" y2="171.70" stroke="#555" stroke-width="0.6"/>
<text x="330.40" y="177.70" font-family="'Liberation Sans', Arial, sans-serif" font-size="3.6" font-weight="normal" fill="#555" text-anchor="middle">200</text>
<line x1="359.50" y1="172.90" x2="359.50" y2="171.70" stroke="#555" stroke-width="0.6"/>
<text x="359.50" y="177.70" font-family="'Liberation Sans', Arial, sans-serif" font-size="3.6" font-weight="normal" fill="#555" text-anchor="middle">400</text>
<line x1="388.60" y1="172.90" x2="388.60" y2="171.70" stroke="#555" stroke-width="0.6"/>
<text x="388.60" y="177.70" font-family="'Liberation Sans', Arial, sans-serif" font-size="3.6" font-weight="normal" fill="#555" text-anchor="middle">600</text>
<line x1="417.70" y1="172.90" x2="417.70" y2="171.70" stroke="#555" stroke-width="0.6"/>
<text x="417.70" y="177.70" font-family="'Liberation Sans', Arial, sans-serif" font-size="3.6" font-weight="normal" fill="#555" text-anchor="middle">800</text>
<line x1="315.85" y1="172.90" x2="315.85" y2="172.18" stroke="#555" stroke-width="0.5"/>
<line x1="344.95" y1="172.90" x2="344.95" y2="172.18" stroke="#555" stroke-width="0.5"/>
<line x1="374.05" y1="172.90" x2="374.05" y2="172.18" stroke="#555" stroke-width="0.5"/>
<line x1="403.15" y1="172.90" x2="403.15" y2="172.18" stroke="#555" stroke-width="0.5"/>
<line x1="308.50" y1="166.80" x2="309.70" y2="166.80" stroke="#555" stroke-width="0.6"/>
<text x="306.30" y="168.00" font-family="'Liberation Sans', Arial, sans-serif" font-size="3.6" font-weight="normal" fill="#555" text-anchor="end">0</text>
<line x1="308.50" y1="153.20" x2="309.70" y2="153.20" stroke="#555" stroke-width="0.6"/>
<text x="306.30" y="154.40" font-family="'Liberation Sans', Arial, sans-serif" font-size="3.6" font-weight="normal" fill="#555" text-anchor="end">20</text>
<line x1="308.50" y1="139.60" x2="309.70" y2="139.60" stroke="#555" stroke-width="0.6"/>
<text x="306.30" y="140.80" font-family="'Liberation Sans', Arial, sans-serif" font-size="3.6" font-weight="normal" fill="#555" text-anchor="end">40</text>
<line x1="308.50" y1="126.00" x2="309.70" y2="126.00" stroke="#555" stroke-width="0.6"/>
<text x="306.30" y="127.20" font-family="'Liberation Sans', Arial, sans-serif" font-size="3.6" font-weight="normal" fill="#555" text-anchor="end">60</text>
<line x1="308.50" y1="112.40" x2="309.70" y2="112.40" stroke="#555" stroke-width="0.6"/>
<text x="306.30" y="113.60" font-family="'Liberation Sans', Arial, sans-serif" font-size="3.6" font-weight="normal" fill="#555" text-anchor="end">80</text>
<line x1="308.50" y1="98.80" x2="309.70" y2="98.80" stroke="#555" stroke-width="0.6"/>
<text x="306.30" y="100.00" font-family="'Liberation Sans', Arial, sans-serif" font-size="3.6" font-weight="normal" fill="#555" text-anchor="end">100</text>
<text x="363.50" y="185.00" font-family="'Liberation Sans', Arial, sans-serif" font-size="3.7" font-weight="normal" fill="#666" text-anchor="middle">Temperature (°C)</text>
<text x="299.30" y="135.00" font-family="'Liberation Sans', Arial, sans-serif" font-size="3.9" font-weight="normal" fill="#666" text-anchor="middle" transform="rotate(-90 299.3 135)">Weight (%)</text>
<polyline points="308.57,98.80 308.83,98.80 309.11,98.80 309.41,98.81 309.72,98.81 310.05,98.81 310.40,98.82 310.76,98.82 311.14,98.82 311.53,98.82 311.94,98.83 312.37,98.83 312.80,98.83 313.25,98.84 313.72,98.84 314.19,98.84 314.68,98.85 315.17,98.85 315.68,98.85 316.20,98.86 316.73,98.86 317.26,98.86 317.81,98.87 318.36,98.87 318.92,98.87 319.49,98.88 320.06,98.88 320.64,98.89 321.23,98.89 321.82,98.89 322.41,98.90 323.01,98.90 323.61,98.91 324.22,98.91 324.83,98.92 325.44,98.92 326.05,98.93 326.66,98.93 327.27,98.93 327.88,98.94 328.49,98.94 329.10,98.95 329.71,98.95 330.32,98.96 330.92,98.96 331.52,98.97 332.12,98.97 332.71,98.98 333.30,98.99 333.88,98.99 334.46,99.00 335.03,99.00 335.59,99.01 336.15,99.01 336.70,99.02 337.24,99.02 337.77,99.03 338.29,99.04 338.80,99.04 339.30,99.05 339.79,99.05 340.27,99.06 340.74,99.07 341.19,99.07 341.64,99.08 342.06,99.09 342.48,99.09 342.88,99.10 343.27,99.11 343.64,99.11 343.99,99.12 344.33,99.13 344.65,99.13 344.95,99.14 346.33,99.16 347.44,99.17 348.30,99.16 348.95,99.14 349.43,99.12 349.77,99.10 350.00,99.09 350.15,99.10 350.27,99.13 350.39,99.18 350.54,99.28 350.75,99.41 351.06,99.59 351.50,99.82 351.93,100.06 352.37,100.33 352.82,100.65 353.28,100.99 353.75,101.37 354.22,101.76 354.70,102.18 355.18,102.61 355.66,103.05 356.14,103.50 356.63,103.95 357.11,104.39 357.60,104.83 358.08,105.25 358.56,105.66 359.03,106.05 359.50,106.42 360.00,106.78 360.49,107.13 360.99,107.47 361.48,107.81 361.98,108.13 362.48,108.45 362.97,108.76 363.46,109.08 363.96,109.39 364.45,109.70 364.94,110.02 365.43,110.34 365.91,110.67 366.40,111.01 366.88,111.36 367.36,111.72 367.87,112.11 368.40,112.50 368.94,112.89 369.48,113.29 370.02,113.69 370.57,114.09 371.10,114.50 371.63,114.92 372.14,115.34 372.64,115.78 373.12,116.23 373.58,116.70 374.01,117.17 374.41,117.67 374.78,118.18 375.45,119.29 375.98,120.41 376.42,121.57 376.78,122.81 377.12,124.16 377.46,125.67 377.83,127.36 378.29,129.71 378.74,132.43 379.17,135.35 379.60,138.27 380.02,140.99 380.45,143.34 380.85,145.33 381.22,147.12 381.58,148.72 381.98,150.14 382.47,151.40 383.07,152.52 383.42,153.01 383.80,153.42 384.20,153.78 384.62,154.09 385.06,154.36 385.52,154.59 385.99,154.81 386.49,155.02 387.00,155.22 387.52,155.43 388.05,155.66 388.60,155.92 389.02,156.13 389.46,156.34 389.91,156.55 390.37,156.76 390.84,156.98 391.32,157.19 391.81,157.40 392.30,157.61 392.80,157.82 393.30,158.02 393.81,158.22 394.31,158.41 394.82,158.60 395.32,158.78 395.82,158.95 396.31,159.12 396.78,159.26 397.24,159.41 397.71,159.55 398.18,159.68 398.66,159.81 399.13,159.94 399.61,160.06 400.08,160.17 400.56,160.28 401.04,160.39 401.51,160.50 401.98,160.59 402.45,160.69 402.92,160.78 403.39,160.86 403.85,160.94 404.31,161.02 404.80,161.09 405.28,161.16 405.77,161.22 406.25,161.28 406.73,161.32 407.21,161.37 407.69,161.40 408.16,161.44 408.63,161.47 409.10,161.49 409.57,161.52 410.04,161.54 410.50,161.57 410.97,161.59 411.42,161.61 411.88,161.63 412.41,161.66 412.97,161.68 413.54,161.70 414.12,161.71 414.70,161.72 415.28,161.73 415.84,161.74 416.39,161.74 416.91,161.75 417.39,161.75 417.84,161.76 418.24,161.76 418.40,161.76 418.40,161.77" fill="none" stroke="#111" stroke-width="1.15" stroke-linejoin="round"/>
<circle cx="315.85" cy="98.85" r="1.00" fill="#111"/>
<circle cx="323.12" cy="98.90" r="1.00" fill="#111"/>
<circle cx="330.40" cy="98.96" r="1.00" fill="#111"/>
<circle cx="337.68" cy="99.03" r="1.00" fill="#111"/>
<circle cx="352.23" cy="100.24" r="1.00" fill="#111"/>
<circle cx="359.50" cy="106.42" r="1.00" fill="#111"/>
<circle cx="366.77" cy="111.28" r="1.00" fill="#111"/>
<circle cx="374.05" cy="117.22" r="1.00" fill="#111"/>
<circle cx="381.32" cy="147.59" r="1.00" fill="#111"/>
<circle cx="388.60" cy="155.92" r="1.00" fill="#111"/>
<circle cx="395.88" cy="158.97" r="1.00" fill="#111"/>
<circle cx="403.15" cy="160.82" r="1.00" fill="#111"/>
<circle cx="410.43" cy="161.56" r="1.00" fill="#111"/>
<polyline points="308.57,98.80 308.83,98.80 309.11,98.80 309.41,98.80 309.72,98.80 310.06,98.80 310.41,98.81 310.77,98.81 311.16,98.81 311.55,98.81 311.97,98.81 312.39,98.81 312.84,98.81 313.29,98.81 313.76,98.81 314.24,98.81 314.73,98.81 315.23,98.81 315.75,98.81 316.27,98.82 316.81,98.82 317.35,98.82 317.90,98.82 318.46,98.82 319.03,98.82 319.60,98.82 320.18,98.82 320.77,98.82 321.36,98.82 321.96,98.82 322.56,98.83 323.16,98.83 323.77,98.83 324.38,98.83 325.00,98.83 325.61,98.83 326.23,98.83 326.84,98.83 327.46,98.84 328.08,98.84 328.69,98.84 329.31,98.84 329.92,98.84 330.53,98.84 331.13,98.85 331.73,98.85 332.33,98.85 332.93,98.85 333.51,98.85 334.10,98.86 334.67,98.86 335.24,98.86 335.80,98.86 336.36,98.87 336.90,98.87 337.44,98.87 337.97,98.87 338.48,98.88 338.99,98.88 339.48,98.88 339.97,98.89 340.44,98.89 340.90,98.89 341.34,98.90 341.77,98.90 342.19,98.90 342.59,98.91 342.98,98.91 343.35,98.91 343.71,98.92 344.04,98.92 344.36,98.93 344.67,98.93 344.95,98.94 346.99,98.97 348.21,98.99 348.80,99.01 348.94,99.03 348.81,99.08 348.59,99.17 348.45,99.30 348.59,99.48 349.11,99.86 349.45,100.31 349.76,101.07 350.19,102.40 350.57,103.65 350.99,105.10 351.43,106.78 351.90,108.67 352.36,110.77 352.81,113.08 353.23,115.81 353.63,118.99 354.03,122.39 354.45,125.76 354.91,128.85 355.43,131.44 355.80,132.83 356.19,134.02 356.58,135.04 357.00,135.95 357.44,136.78 357.90,137.57 358.40,138.35 358.93,139.18 359.50,140.08 359.89,140.70 360.32,141.36 360.77,142.03 361.23,142.72 361.72,143.41 362.21,144.09 362.71,144.77 363.21,145.43 363.72,146.06 364.21,146.66 364.70,147.22 365.17,147.73 365.62,148.18 366.05,148.58 366.55,148.98 367.00,149.29 367.42,149.52 367.82,149.68 368.21,149.79 368.61,149.86 369.03,149.90 369.48,149.94 369.97,149.98 370.52,150.04 371.14,150.14 371.53,150.21 371.93,150.27 372.35,150.32 372.78,150.38 373.22,150.43 373.68,150.48 374.15,150.53 374.63,150.57 375.12,150.62 375.62,150.66 376.13,150.71 376.66,150.76 377.19,150.81 377.74,150.86 378.29,150.91 378.85,150.97 379.43,151.03 380.01,151.09 380.60,151.16 381.02,151.21 381.46,151.27 381.91,151.32 382.38,151.38 382.85,151.44 383.33,151.50 383.82,151.56 384.32,151.62 384.83,151.69 385.34,151.75 385.85,151.82 386.37,151.89 386.89,151.95 387.40,152.02 387.92,152.09 388.44,152.16 388.95,152.23 389.46,152.29 389.97,152.36 390.47,152.43 390.96,152.49 391.44,152.56 391.91,152.62 392.38,152.68 392.83,152.74 393.27,152.80 393.69,152.86 394.27,152.94 394.81,153.02 395.32,153.10 395.81,153.19 396.28,153.27 396.73,153.35 397.18,153.43 397.61,153.51 398.04,153.59 398.47,153.66 398.91,153.74 399.36,153.81 399.83,153.88 400.31,153.94 400.81,154.01 401.34,154.07 401.91,154.12 402.51,154.17 403.15,154.22 403.56,154.25 403.99,154.27 404.44,154.29 404.92,154.31 405.42,154.33 405.93,154.35 406.46,154.37 407.01,154.38 407.56,154.40 408.13,154.41 408.70,154.43 409.28,154.44 409.86,154.45 410.44,154.46 411.02,154.47 411.60,154.47 412.17,154.48 412.74,154.49 413.30,154.50 413.85,154.50 414.38,154.51 414.90,154.51 415.41,154.52 415.89,154.52 416.36,154.53 416.80,154.53 417.22,154.54 417.61,154.54 417.97,154.55 418.30,154.55 418.40,154.55 418.40,154.56" fill="none" stroke="#ee1111" stroke-width="1.15" stroke-linejoin="round"/>
<circle cx="315.85" cy="98.81" r="1.00" fill="#ee1111"/>
<circle cx="323.12" cy="98.83" r="1.00" fill="#ee1111"/>
<circle cx="330.40" cy="98.84" r="1.00" fill="#ee1111"/>
<circle cx="337.68" cy="98.87" r="1.00" fill="#ee1111"/>
<circle cx="344.95" cy="98.94" r="1.00" fill="#ee1111"/>
<circle cx="352.23" cy="110.16" r="1.00" fill="#ee1111"/>
<circle cx="359.50" cy="140.08" r="1.00" fill="#ee1111"/>
<circle cx="366.77" cy="149.13" r="1.00" fill="#ee1111"/>
<circle cx="374.05" cy="150.52" r="1.00" fill="#ee1111"/>
<circle cx="381.32" cy="151.25" r="1.00" fill="#ee1111"/>
<circle cx="388.60" cy="152.18" r="1.00" fill="#ee1111"/>
<circle cx="395.88" cy="153.20" r="1.00" fill="#ee1111"/>
<circle cx="403.15" cy="154.22" r="1.00" fill="#ee1111"/>
<circle cx="410.43" cy="154.46" r="1.00" fill="#ee1111"/>
<polyline points="308.57,98.80 308.84,98.80 309.14,98.80 309.48,98.81 309.85,98.81 310.25,98.81 310.67,98.81 311.12,98.82 311.60,98.82 312.09,98.82 312.61,98.82 313.14,98.83 313.70,98.83 314.26,98.83 314.84,98.84 315.43,98.84 316.03,98.84 316.63,98.85 317.24,98.85 317.85,98.86 318.46,98.86 319.08,98.86 319.68,98.87 320.29,98.87 320.89,98.88 321.48,98.88 322.05,98.88 322.62,98.89 323.17,98.89 323.71,98.90 324.23,98.90 324.72,98.90 325.20,98.91 325.65,98.91 326.08,98.92 326.48,98.92 326.85,98.93 327.19,98.93 327.49,98.94 328.87,98.93 329.56,98.89 329.80,98.84 329.85,98.84 329.97,98.93 330.40,99.14 330.79,99.32 331.22,99.53 331.69,99.77 332.18,100.05 332.68,100.34 333.19,100.66 333.71,100.99 334.22,101.34 334.72,101.69 335.19,102.05 335.64,102.40 336.16,102.85 336.68,103.31 337.19,103.79 337.69,104.29 338.17,104.80 338.63,105.33 339.07,105.86 339.48,106.41 339.86,106.96 340.44,107.90 340.90,108.80 341.31,109.78 341.72,110.94 342.19,112.40 342.62,113.91 343.08,115.65 343.55,117.54 344.02,119.52 344.49,121.52 344.95,123.48 345.38,125.48 345.79,127.59 346.19,129.71 346.60,131.78 347.06,133.70 347.57,135.38 347.97,136.49 348.36,137.50 348.77,138.42 349.20,139.26 349.67,140.03 350.20,140.73 350.80,141.38 351.50,141.98 351.84,142.24 352.17,142.48 352.50,142.70 352.82,142.89 353.15,143.08 353.49,143.24 353.85,143.40 354.23,143.54 354.63,143.67 355.07,143.80 355.54,143.92 356.06,144.04 356.63,144.15 357.25,144.27 357.93,144.38 358.68,144.51 359.50,144.63 359.84,144.68 360.20,144.73 360.57,144.78 360.96,144.83 361.35,144.88 361.76,144.93 362.17,144.98 362.60,145.02 363.03,145.07 363.48,145.12 363.93,145.16 364.40,145.21 364.87,145.25 365.35,145.29 365.83,145.34 366.33,145.38 366.83,145.42 367.33,145.47 367.84,145.51 368.36,145.55 368.88,145.59 369.40,145.63 369.93,145.67 370.46,145.71 371.00,145.75 371.53,145.79 372.07,145.83 372.61,145.86 373.15,145.90 373.69,145.94 374.24,145.98 374.78,146.01 375.32,146.05 375.86,146.09 376.40,146.12 376.93,146.16 377.47,146.19 378.00,146.23 378.53,146.26 379.05,146.30 379.57,146.33 380.09,146.37 380.60,146.40 381.07,146.43 381.56,146.46 382.04,146.49 382.53,146.53 383.02,146.56 383.52,146.59 384.02,146.62 384.52,146.65 385.02,146.68 385.53,146.70 386.04,146.73 386.55,146.76 387.06,146.79 387.57,146.82 388.09,146.85 388.60,146.87 389.12,146.90 389.64,146.93 390.15,146.96 390.67,146.98 391.18,147.01 391.70,147.03 392.21,147.06 392.72,147.08 393.23,147.11 393.74,147.13 394.25,147.16 394.75,147.18 395.25,147.21 395.75,147.23 396.25,147.25 396.74,147.27 397.23,147.30 397.72,147.32 398.20,147.34 398.68,147.36 399.15,147.38 399.62,147.40 400.08,147.42 400.53,147.44 400.99,147.46 401.43,147.48 401.87,147.50 402.30,147.52 402.73,147.54 403.15,147.56 403.75,147.58 404.35,147.61 404.95,147.63 405.55,147.65 406.15,147.67 406.74,147.69 407.34,147.71 407.93,147.73 408.51,147.75 409.09,147.77 409.67,147.79 410.23,147.81 410.79,147.82 411.34,147.84 411.89,147.85 412.42,147.87 412.94,147.88 413.44,147.89 413.94,147.91 414.42,147.92 414.89,147.93 415.34,147.94 415.78,147.95 416.20,147.96 416.60,147.97 416.99,147.98 417.35,147.99 417.70,148.00 418.02,148.01 418.33,148.02 418.40,148.02 418.40,148.03" fill="none" stroke="#1a2cff" stroke-width="1.15" stroke-linejoin="round"/>
<circle cx="315.85" cy="98.84" r="1.00" fill="#1a2cff"/>
<circle cx="323.12" cy="98.89" r="1.00" fill="#1a2cff"/>
<circle cx="330.40" cy="99.14" r="1.00" fill="#1a2cff"/>
<circle cx="337.68" cy="104.28" r="1.00" fill="#1a2cff"/>
<circle cx="344.95" cy="123.48" r="1.00" fill="#1a2cff"/>
<circle cx="352.23" cy="142.51" r="1.00" fill="#1a2cff"/>
<circle cx="359.50" cy="144.63" r="1.00" fill="#1a2cff"/>
<circle cx="366.77" cy="145.42" r="1.00" fill="#1a2cff"/>
<circle cx="374.05" cy="145.96" r="1.00" fill="#1a2cff"/>
<circle cx="381.32" cy="146.45" r="1.00" fill="#1a2cff"/>
<circle cx="388.60" cy="146.87" r="1.00" fill="#1a2cff"/>
<circle cx="395.88" cy="147.23" r="1.00" fill="#1a2cff"/>
<circle cx="403.15" cy="147.56" r="1.00" fill="#1a2cff"/>
<circle cx="410.43" cy="147.81" r="1.00" fill="#1a2cff"/>
<text x="311.60" y="133.30" font-family="'Liberation Sans', Arial, sans-serif" font-size="8.0" font-weight="bold" fill="#222" text-anchor="start">(I)</text>
<rect x="309.5" y="157.3" width="36" height="13.2" fill="#fff" stroke="#555" stroke-width="0.5"/>
<line x1="310.50" y1="160.20" x2="319.50" y2="160.20" stroke="#111" stroke-width="0.9"/>
<circle cx="315.00" cy="160.20" r="1.00" fill="#111"/>
<text x="320.00" y="161.40" font-family="'Liberation Sans', Arial, sans-serif" font-size="3.5" font-weight="normal" fill="#444" text-anchor="start">ALSR</text>
<line x1="310.50" y1="164.40" x2="319.50" y2="164.40" stroke="#ee1111" stroke-width="0.9"/>
<circle cx="315.00" cy="164.40" r="1.00" fill="#ee1111"/>
<text x="320.00" y="165.60" font-family="'Liberation Sans', Arial, sans-serif" font-size="3.5" font-weight="normal" fill="#444" text-anchor="start">ALSR/HACP-30</text>
<line x1="310.50" y1="168.60" x2="319.50" y2="168.60" stroke="#1a2cff" stroke-width="0.9"/>
<circle cx="315.00" cy="168.60" r="1.00" fill="#1a2cff"/>
<text x="320.00" y="169.80" font-family="'Liberation Sans', Arial, sans-serif" font-size="3.5" font-weight="normal" fill="#444" text-anchor="start">HACP</text>
<rect x="433.5" y="92.1" width="110.0" height="80.80000000000001" fill="none" stroke="#4a4a4a" stroke-width="1.15"/>
<line x1="455.40" y1="172.90" x2="455.40" y2="171.70" stroke="#555" stroke-width="0.6"/>
<text x="455.40" y="177.70" font-family="'Liberation Sans', Arial, sans-serif" font-size="3.6" font-weight="normal" fill="#555" text-anchor="middle">200</text>
<line x1="484.50" y1="172.90" x2="484.50" y2="171.70" stroke="#555" stroke-width="0.6"/>
<text x="484.50" y="177.70" font-family="'Liberation Sans', Arial, sans-serif" font-size="3.6" font-weight="normal" fill="#555" text-anchor="middle">400</text>
<line x1="513.60" y1="172.90" x2="513.60" y2="171.70" stroke="#555" stroke-width="0.6"/>
<text x="513.60" y="177.70" font-family="'Liberation Sans', Arial, sans-serif" font-size="3.6" font-weight="normal" fill="#555" text-anchor="middle">600</text>
<line x1="542.70" y1="172.90" x2="542.70" y2="171.70" stroke="#555" stroke-width="0.6"/>
<text x="542.70" y="177.70" font-family="'Liberation Sans', Arial, sans-serif" font-size="3.6" font-weight="normal" fill="#555" text-anchor="middle">800</text>
<line x1="440.85" y1="172.90" x2="440.85" y2="172.18" stroke="#555" stroke-width="0.5"/>
<line x1="469.95" y1="172.90" x2="469.95" y2="172.18" stroke="#555" stroke-width="0.5"/>
<line x1="499.05" y1="172.90" x2="499.05" y2="172.18" stroke="#555" stroke-width="0.5"/>
<line x1="528.15" y1="172.90" x2="528.15" y2="172.18" stroke="#555" stroke-width="0.5"/>
<line x1="433.50" y1="100.20" x2="434.70" y2="100.20" stroke="#555" stroke-width="0.6"/>
<text x="431.30" y="101.40" font-family="'Liberation Sans', Arial, sans-serif" font-size="3.6" font-weight="normal" fill="#555" text-anchor="end">0</text>
<line x1="433.50" y1="116.20" x2="434.70" y2="116.20" stroke="#555" stroke-width="0.6"/>
<text x="431.30" y="117.40" font-family="'Liberation Sans', Arial, sans-serif" font-size="3.6" font-weight="normal" fill="#555" text-anchor="end">-10</text>
<line x1="433.50" y1="132.20" x2="434.70" y2="132.20" stroke="#555" stroke-width="0.6"/>
<text x="431.30" y="133.40" font-family="'Liberation Sans', Arial, sans-serif" font-size="3.6" font-weight="normal" fill="#555" text-anchor="end">-20</text>
<line x1="433.50" y1="148.20" x2="434.70" y2="148.20" stroke="#555" stroke-width="0.6"/>
<text x="431.30" y="149.40" font-family="'Liberation Sans', Arial, sans-serif" font-size="3.6" font-weight="normal" fill="#555" text-anchor="end">-30</text>
<line x1="433.50" y1="164.20" x2="434.70" y2="164.20" stroke="#555" stroke-width="0.6"/>
<text x="431.30" y="165.40" font-family="'Liberation Sans', Arial, sans-serif" font-size="3.6" font-weight="normal" fill="#555" text-anchor="end">-40</text>
<text x="488.50" y="185.00" font-family="'Liberation Sans', Arial, sans-serif" font-size="3.7" font-weight="normal" fill="#666" text-anchor="middle">Temperature (°C)</text>
<text x="426.40" y="131.00" font-family="'Liberation Sans', Arial, sans-serif" font-size="3.8" font-weight="normal" fill="#555" text-anchor="middle" transform="rotate(-90 426.4 131)">Derivative weight (%/min)</text>
<polyline points="433.57,100.20 433.84,100.20 434.14,100.20 434.48,100.19 434.85,100.19 435.25,100.18 435.68,100.18 436.14,100.17 436.62,100.16 437.12,100.15 437.64,100.15 438.18,100.14 438.73,100.13 439.29,100.12 439.86,100.12 440.44,100.11 441.02,100.10 441.60,100.10 442.18,100.10 442.76,100.09 443.33,100.09 443.89,100.09 444.44,100.10 444.98,100.10 445.49,100.11 445.99,100.12 446.47,100.13 446.93,100.14 447.36,100.16 447.76,100.18 448.12,100.20 448.84,100.24 449.48,100.27 450.06,100.28 450.59,100.29 451.07,100.31 451.51,100.33 451.92,100.37 452.31,100.43 452.68,100.52 453.06,100.65 453.43,100.82 453.82,101.04 454.23,101.31 454.67,101.64 455.17,102.06 455.66,102.54 456.16,103.06 456.66,103.63 457.15,104.25 457.65,104.91 458.14,105.60 458.62,106.34 459.10,107.10 459.57,107.90 460.03,108.72 460.49,109.57 460.93,110.44 461.44,111.56 461.95,112.80 462.46,114.14 462.95,115.55 463.44,116.99 463.91,118.43 464.37,119.84 464.81,121.18 465.24,122.43 465.64,123.56 466.02,124.52 466.56,125.90 467.03,127.23 467.46,128.41 467.85,129.34 468.24,129.92 468.64,130.05 469.08,129.64 469.54,128.49 470.00,126.63 470.47,124.29 470.94,121.67 471.43,119.01 471.92,116.53 472.42,114.44 472.85,112.87 473.25,111.37 473.64,109.93 474.05,108.57 474.49,107.31 474.98,106.15 475.55,105.11 476.21,104.20 476.57,103.80 476.97,103.45 477.38,103.13 477.82,102.85 478.28,102.60 478.75,102.38 479.23,102.18 479.73,102.01 480.23,101.85 480.74,101.71 481.25,101.59 481.76,101.47 482.27,101.35 482.78,101.24 483.28,101.12 483.77,101.00 484.16,100.89 484.42,100.79 484.59,100.70 484.69,100.63 484.75,100.56 484.79,100.51 484.84,100.46 484.93,100.42 485.08,100.38 485.32,100.35 485.68,100.33 486.18,100.30 486.85,100.28 487.72,100.26 488.81,100.24 490.15,100.22 491.77,100.20 492.07,100.20 492.37,100.19 492.69,100.19 493.02,100.19 493.36,100.18 493.71,100.18 494.08,100.18 494.45,100.17 494.84,100.17 495.23,100.17 495.64,100.17 496.05,100.16 496.48,100.16 496.91,100.16 497.36,100.16 497.81,100.16 498.27,100.15 498.74,100.15 499.22,100.15 499.71,100.15 500.20,100.15 500.71,100.15 501.22,100.15 501.73,100.15 502.26,100.14 502.78,100.14 503.32,100.14 503.86,100.14 504.41,100.14 504.96,100.14 505.52,100.14 506.08,100.14 506.65,100.14 507.22,100.14 507.80,100.14 508.38,100.14 508.97,100.14 509.55,100.14 510.15,100.14 510.74,100.14 511.34,100.14 511.94,100.14 512.54,100.14 513.14,100.14 513.75,100.14 514.35,100.14 514.96,100.15 515.57,100.15 516.18,100.15 516.79,100.15 517.40,100.15 518.01,100.15 518.62,100.15 519.23,100.15 519.84,100.15 520.45,100.15 521.06,100.15 521.67,100.16 522.27,100.16 522.87,100.16 523.47,100.16 524.07,100.16 524.66,100.16 525.25,100.16 525.84,100.16 526.43,100.17 527.01,100.17 527.59,100.17 528.16,100.17 528.73,100.17 529.29,100.17 529.85,100.17 530.40,100.17 530.95,100.18 531.49,100.18 532.03,100.18 532.56,100.18 533.08,100.18 533.60,100.18 534.11,100.18 534.61,100.18 535.11,100.19 535.59,100.19 536.07,100.19 536.55,100.19 537.01,100.19 537.46,100.19 537.91,100.19 538.34,100.19 538.77,100.19 539.19,100.19 539.59,100.19 539.99,100.20 540.38,100.20 540.75,100.20 541.12,100.20 541.47,100.20 541.81,100.20 542.14,100.20 542.46,100.20 542.77,100.20 543.06,100.20 543.34,100.20 543.50,100.20 543.50,100.20" fill="none" stroke="#1a2cff" stroke-width="1.15" stroke-linejoin="round"/>
<polyline points="433.57,100.20 469.95,100.20 474.31,101.48 475.77,106.60 476.79,130.60 477.81,163.40 478.97,130.60 481.30,111.88 485.23,110.28 487.85,112.68 490.47,105.48 494.39,103.72 504.14,100.68 507.78,102.12 511.85,102.92 516.80,101.00 520.88,100.20 543.50,100.20" fill="none" stroke="#ee1111" stroke-width="1.15" stroke-linejoin="round"/>
<polyline points="433.57,100.20 433.83,100.20 434.11,100.20 434.40,100.20 434.71,100.20 435.04,100.20 435.38,100.19 435.74,100.19 436.11,100.19 436.49,100.19 436.90,100.18 437.31,100.18 437.74,100.18 438.18,100.17 438.63,100.17 439.10,100.16 439.57,100.16 440.06,100.16 440.56,100.15 441.07,100.15 441.58,100.14 442.11,100.14 442.64,100.13 443.19,100.13 443.74,100.12 444.30,100.12 444.86,100.11 445.44,100.11 446.01,100.10 446.60,100.10 447.19,100.09 447.78,100.09 448.38,100.08 448.98,100.08 449.58,100.07 450.19,100.07 450.80,100.06 451.41,100.06 452.02,100.06 452.64,100.05 453.25,100.05 453.87,100.04 454.48,100.04 455.10,100.04 455.71,100.04 456.32,100.03 456.93,100.03 457.53,100.03 458.14,100.03 458.74,100.02 459.33,100.02 459.92,100.02 460.51,100.02 461.09,100.02 461.67,100.02 462.23,100.02 462.80,100.02 463.35,100.03 463.90,100.03 464.44,100.03 464.97,100.03 465.49,100.04 466.01,100.04 466.51,100.05 467.00,100.05 467.49,100.06 467.96,100.06 468.42,100.07 468.86,100.08 469.30,100.08 469.72,100.09 470.13,100.10 470.52,100.11 470.90,100.12 471.27,100.13 471.62,100.15 471.95,100.16 472.27,100.17 472.58,100.19 472.86,100.20 474.89,100.35 476.21,100.54 476.97,100.76 477.29,101.01 477.32,101.29 477.19,101.59 477.04,101.91 477.01,102.25 477.23,102.60 477.77,103.23 478.26,103.99 478.70,104.80 479.10,105.56 479.48,106.19 479.84,106.60 480.34,106.73 480.75,106.48 481.15,106.09 481.59,105.80 481.96,105.66 482.31,105.50 482.69,105.37 483.12,105.30 483.63,105.32 484.04,105.44 484.48,105.64 484.95,105.90 485.44,106.16 485.97,106.39 486.53,106.55 487.12,106.60 487.56,106.55 488.02,106.43 488.51,106.26 489.01,106.05 489.53,105.83 490.05,105.61 490.57,105.39 491.08,105.21 491.58,105.08 492.07,105.00 492.54,104.95 493.01,104.88 493.47,104.82 493.93,104.78 494.38,104.77 494.84,104.81 495.28,104.92 495.72,105.11 496.15,105.40 496.58,105.80 497.10,106.42 497.61,107.13 498.12,107.95 498.61,108.89 499.10,109.98 499.58,111.23 500.05,112.65 500.50,114.28 501.02,116.73 501.51,119.88 502.00,123.37 502.47,126.84 502.93,129.92 503.39,132.26 503.85,133.48 504.30,133.47 504.72,132.50 505.14,130.82 505.56,128.68 505.99,126.32 506.43,124.00 506.91,121.96 507.33,120.28 507.74,118.45 508.15,116.54 508.58,114.61 509.04,112.73 509.53,110.97 510.08,109.38 510.69,108.04 511.07,107.39 511.48,106.80 511.91,106.27 512.36,105.80 512.82,105.37 513.30,104.99 513.79,104.64 514.29,104.32 514.79,104.03 515.29,103.76 515.78,103.50 516.28,103.25 516.76,103.01 517.24,102.76 517.70,102.52 518.17,102.32 518.63,102.13 519.09,101.97 519.55,101.83 520.01,101.71 520.47,101.60 520.93,101.50 521.39,101.41 521.86,101.33 522.33,101.25 522.81,101.17 523.29,101.09 523.78,101.00 524.24,100.92 524.68,100.84 525.10,100.77 525.53,100.70 525.95,100.63 526.38,100.57 526.81,100.52 527.26,100.46 527.72,100.42 528.20,100.37 528.70,100.33 529.24,100.29 529.81,100.26 530.41,100.23 531.06,100.20 531.46,100.19 531.90,100.17 532.36,100.16 532.85,100.16 533.37,100.15 533.90,100.15 534.45,100.14 535.01,100.14 535.58,100.14 536.16,100.14 536.75,100.14 537.33,100.15 537.92,100.15 538.49,100.15 539.06,100.16 539.62,100.16 540.16,100.17 540.69,100.17 541.19,100.18 541.67,100.18 542.12,100.19 542.54,100.19 542.93,100.20 543.28,100.20 543.50,100.20 543.50,100.20" fill="none" stroke="#111" stroke-width="1.15" stroke-linejoin="round"/>
<circle cx="440.85" cy="100.20" r="0.90" fill="#1a2cff"/>
<circle cx="448.12" cy="100.20" r="0.90" fill="#1a2cff"/>
<circle cx="455.40" cy="101.80" r="0.90" fill="#1a2cff"/>
<circle cx="462.68" cy="114.60" r="0.90" fill="#1a2cff"/>
<circle cx="468.50" cy="129.64" r="0.90" fill="#1a2cff"/>
<circle cx="477.23" cy="103.40" r="0.90" fill="#1a2cff"/>
<circle cx="484.50" cy="100.84" r="0.90" fill="#1a2cff"/>
<circle cx="491.77" cy="100.20" r="0.90" fill="#1a2cff"/>
<circle cx="499.05" cy="100.20" r="0.90" fill="#1a2cff"/>
<circle cx="506.32" cy="100.20" r="0.90" fill="#1a2cff"/>
<circle cx="513.60" cy="100.20" r="0.90" fill="#1a2cff"/>
<circle cx="520.88" cy="100.20" r="0.90" fill="#1a2cff"/>
<circle cx="528.15" cy="100.20" r="0.90" fill="#1a2cff"/>
<circle cx="535.42" cy="100.20" r="0.90" fill="#1a2cff"/>
<circle cx="542.70" cy="100.20" r="0.90" fill="#1a2cff"/>
<circle cx="440.85" cy="100.20" r="0.90" fill="#ee1111"/>
<circle cx="448.12" cy="100.20" r="0.90" fill="#ee1111"/>
<circle cx="455.40" cy="100.20" r="0.90" fill="#ee1111"/>
<circle cx="462.68" cy="100.20" r="0.90" fill="#ee1111"/>
<circle cx="469.95" cy="100.20" r="0.90" fill="#ee1111"/>
<circle cx="477.23" cy="148.20" r="0.90" fill="#ee1111"/>
<circle cx="484.50" cy="110.28" r="0.90" fill="#ee1111"/>
<circle cx="491.77" cy="104.68" r="0.90" fill="#ee1111"/>
<circle cx="499.05" cy="101.80" r="0.90" fill="#ee1111"/>
<circle cx="506.32" cy="101.48" r="0.90" fill="#ee1111"/>
<circle cx="513.60" cy="102.60" r="0.90" fill="#ee1111"/>
<circle cx="520.88" cy="100.20" r="0.90" fill="#ee1111"/>
<circle cx="528.15" cy="100.20" r="0.90" fill="#ee1111"/>
<circle cx="535.42" cy="100.20" r="0.90" fill="#ee1111"/>
<circle cx="542.70" cy="100.20" r="0.90" fill="#ee1111"/>
<circle cx="477.23" cy="102.60" r="0.90" fill="#111"/>
<circle cx="484.50" cy="105.64" r="0.90" fill="#111"/>
<circle cx="491.77" cy="105.00" r="0.90" fill="#111"/>
<circle cx="503.42" cy="132.68" r="0.90" fill="#111"/>
<circle cx="513.60" cy="105.00" r="0.90" fill="#111"/>
<circle cx="520.88" cy="101.32" r="0.90" fill="#111"/>
<circle cx="528.15" cy="100.52" r="0.90" fill="#111"/>
<circle cx="535.42" cy="100.20" r="0.90" fill="#111"/>
<circle cx="542.70" cy="100.20" r="0.90" fill="#111"/>
<text x="436.60" y="133.70" font-family="'Liberation Sans', Arial, sans-serif" font-size="8.2" font-weight="bold" fill="#222" text-anchor="start" letter-spacing="0.25">(II)</text>
<rect x="434.2" y="157.3" width="37.5" height="14" fill="#fff" stroke="#555" stroke-width="0.5"/>
<line x1="435.00" y1="160.50" x2="444.00" y2="160.50" stroke="#111" stroke-width="0.9"/>
<circle cx="439.50" cy="160.50" r="1.00" fill="#111"/>
<text x="444.60" y="161.70" font-family="'Liberation Sans', Arial, sans-serif" font-size="3.5" font-weight="normal" fill="#444" text-anchor="start">ALSR</text>
<line x1="435.00" y1="164.80" x2="444.00" y2="164.80" stroke="#ee1111" stroke-width="0.9"/>
<circle cx="439.50" cy="164.80" r="1.00" fill="#ee1111"/>
<text x="444.60" y="166.00" font-family="'Liberation Sans', Arial, sans-serif" font-size="3.5" font-weight="normal" fill="#444" text-anchor="start">ALSR/HACP-30</text>
<line x1="435.00" y1="169.10" x2="444.00" y2="169.10" stroke="#1a2cff" stroke-width="0.9"/>
<circle cx="439.50" cy="169.10" r="1.00" fill="#1a2cff"/>
<text x="444.60" y="170.30" font-family="'Liberation Sans', Arial, sans-serif" font-size="3.5" font-weight="normal" fill="#444" text-anchor="start">HACP</text>
<text x="291.40" y="312.60" font-family="'Liberation Sans', Arial, sans-serif" font-size="11" font-weight="bold" fill="#111" text-anchor="start">i</text>
<rect x="311.2" y="307" width="108.30000000000001" height="82.80000000000001" fill="none" stroke="#4a4a4a" stroke-width="1.15"/>
<line x1="311.60" y1="389.80" x2="311.60" y2="388.60" stroke="#555" stroke-width="0.6"/>
<text x="311.60" y="394.60" font-family="'Liberation Sans', Arial, sans-serif" font-size="3.6" font-weight="normal" fill="#555" text-anchor="middle">0</text>
<line x1="347.60" y1="389.80" x2="347.60" y2="388.60" stroke="#555" stroke-width="0.6"/>
<text x="347.60" y="394.60" font-family="'Liberation Sans', Arial, sans-serif" font-size="3.6" font-weight="normal" fill="#555" text-anchor="middle">200</text>
<line x1="383.60" y1="389.80" x2="383.60" y2="388.60" stroke="#555" stroke-width="0.6"/>
<text x="383.60" y="394.60" font-family="'Liberation Sans', Arial, sans-serif" font-size="3.6" font-weight="normal" fill="#555" text-anchor="middle">400</text>
<line x1="419.60" y1="389.80" x2="419.60" y2="388.60" stroke="#555" stroke-width="0.6"/>
<text x="419.60" y="394.60" font-family="'Liberation Sans', Arial, sans-serif" font-size="3.6" font-weight="normal" fill="#555" text-anchor="middle">600</text>
<line x1="329.60" y1="389.80" x2="329.60" y2="389.08" stroke="#555" stroke-width="0.5"/>
<line x1="365.60" y1="389.80" x2="365.60" y2="389.08" stroke="#555" stroke-width="0.5"/>
<line x1="401.60" y1="389.80" x2="401.60" y2="389.08" stroke="#555" stroke-width="0.5"/>
<line x1="311.20" y1="383.50" x2="312.40" y2="383.50" stroke="#555" stroke-width="0.6"/>
<text x="309.00" y="384.70" font-family="'Liberation Sans', Arial, sans-serif" font-size="3.6" font-weight="normal" fill="#555" text-anchor="end">0</text>
<line x1="311.20" y1="370.80" x2="312.40" y2="370.80" stroke="#555" stroke-width="0.6"/>
<text x="309.00" y="372.00" font-family="'Liberation Sans', Arial, sans-serif" font-size="3.6" font-weight="normal" fill="#555" text-anchor="end">50</text>
<line x1="311.20" y1="358.10" x2="312.40" y2="358.10" stroke="#555" stroke-width="0.6"/>
<text x="309.00" y="359.30" font-family="'Liberation Sans', Arial, sans-serif" font-size="3.6" font-weight="normal" fill="#555" text-anchor="end">100</text>
<line x1="311.20" y1="345.40" x2="312.40" y2="345.40" stroke="#555" stroke-width="0.6"/>
<text x="309.00" y="346.60" font-family="'Liberation Sans', Arial, sans-serif" font-size="3.6" font-weight="normal" fill="#555" text-anchor="end">150</text>
<line x1="311.20" y1="332.70" x2="312.40" y2="332.70" stroke="#555" stroke-width="0.6"/>
<text x="309.00" y="333.90" font-family="'Liberation Sans', Arial, sans-serif" font-size="3.6" font-weight="normal" fill="#555" text-anchor="end">200</text>
<line x1="311.20" y1="320.00" x2="312.40" y2="320.00" stroke="#555" stroke-width="0.6"/>
<text x="309.00" y="321.20" font-family="'Liberation Sans', Arial, sans-serif" font-size="3.6" font-weight="normal" fill="#555" text-anchor="end">250</text>
<line x1="311.20" y1="307.30" x2="312.40" y2="307.30" stroke="#555" stroke-width="0.6"/>
<text x="309.00" y="308.50" font-family="'Liberation Sans', Arial, sans-serif" font-size="3.6" font-weight="normal" fill="#555" text-anchor="end">300</text>
<text x="363.00" y="398.50" font-family="'Liberation Sans', Arial, sans-serif" font-size="3.7" font-weight="normal" fill="#666" text-anchor="middle">Time (s)</text>
<text x="302.30" y="350.50" font-family="'Liberation Sans', Arial, sans-serif" font-size="3.7" font-weight="normal" fill="#666" text-anchor="middle" transform="rotate(-90 302.3 350.5)">Heat release rate (kW/m<tspan font-size="2.6" dy="-1">2</tspan><tspan dy="1">)</tspan></text>
<polyline points="311.60,383.01 312.50,383.27 313.40,382.51 314.30,383.39 315.20,382.68 316.10,382.94 317.00,383.41 317.90,382.73 318.80,383.44 319.70,374.86 320.60,367.43 321.50,359.62 322.40,352.16 323.30,344.59 324.20,338.71 325.10,332.75 326.00,328.02 326.90,323.43 327.80,319.88 328.70,317.81 329.60,314.58 330.50,315.16 331.40,315.32 332.30,317.59 333.20,319.22 334.10,321.85 335.00,324.95 335.90,327.56 336.80,331.92 337.70,334.69 338.60,336.66 339.50,338.80 340.40,340.26 341.30,342.72 342.20,344.46 343.10,345.34 344.00,345.57 344.90,346.91 345.80,348.03 346.70,348.57 347.60,349.43 348.50,350.32 349.40,350.22 350.30,351.02 351.20,352.36 352.10,352.51 353.00,353.48 353.90,354.18 354.80,355.64 355.70,357.56 356.60,357.74 357.50,360.29 358.40,361.07 359.30,361.80 360.20,363.85 361.10,364.01 362.00,365.37 362.90,365.08 363.80,365.61 364.70,366.58 365.60,366.79 366.50,368.16 367.40,368.06 368.30,368.69 369.20,369.19 370.10,369.85 371.00,369.74 371.90,369.75 372.80,370.17 373.70,369.58 374.60,370.20 375.50,365.78 376.40,367.24 377.30,371.32 378.20,372.85 379.10,374.94 380.00,376.05 380.90,375.91 381.80,377.19 382.70,376.81 383.60,377.55 384.50,377.91 385.40,378.29 386.30,377.50 387.20,378.40 388.10,378.14 389.00,377.85 389.90,377.04 390.80,378.17 391.70,377.53 392.60,377.54 393.50,377.55 394.40,378.16 395.30,378.62 396.20,380.03 397.10,380.43 398.00,381.13 398.90,380.94 399.80,381.44 400.70,383.28 401.60,383.56 402.50,383.59 403.40,383.71 404.30,383.44 405.20,383.40 406.10,384.02 407.00,384.53 407.90,384.01 408.80,384.21 409.70,383.86 410.60,383.22 411.50,383.58 412.40,383.80 413.30,383.59 414.20,383.46 415.10,384.36 416.00,383.02 416.90,383.16 417.80,382.97 418.70,383.05 419.50,383.66" fill="none" stroke="#111" stroke-width="1.1" stroke-linejoin="round"/>
<polyline points="311.60,382.64 312.50,383.12 313.40,382.34 314.30,383.25 315.20,383.27 316.10,383.09 317.00,383.19 317.90,382.95 318.80,383.42 319.70,378.80 320.60,373.87 321.50,359.43 322.40,348.83 323.30,342.02 324.20,333.40 325.10,331.36 326.00,329.64 326.90,328.92 327.80,329.47 328.70,330.99 329.60,334.19 330.50,335.92 331.40,338.68 332.30,342.50 333.20,345.49 334.10,349.11 335.00,352.10 335.90,352.39 336.80,353.16 337.70,352.96 338.60,354.63 339.50,355.49 340.40,354.73 341.30,355.92 342.20,356.89 343.10,356.66 344.00,357.83 344.90,357.45 345.80,357.14 346.70,357.70 347.60,358.33 348.50,359.58 349.40,360.30 350.30,361.49 351.20,361.46 352.10,362.71 353.00,363.22 353.90,364.79 354.80,365.99 355.70,366.18 356.60,367.00 357.50,368.29 358.40,369.44 359.30,370.51 360.20,371.71 361.10,373.58 362.00,373.89 362.90,374.68 363.80,375.72 364.70,376.26 365.60,376.41 366.50,376.98 367.40,376.86 368.30,377.00 369.20,378.06 370.10,377.43 371.00,377.47 371.90,377.64 372.80,378.66 373.70,378.99 374.60,379.10 375.50,379.27 376.40,379.37 377.30,378.85 378.20,378.54 379.10,378.75 380.00,379.42 380.90,379.25 381.80,379.10 382.70,380.27 383.60,379.47 384.50,379.17 385.40,379.44 386.30,379.57 387.20,380.06 388.10,380.59 389.00,379.74 389.90,380.52 390.80,379.88 391.70,379.70 392.60,380.65 393.50,380.72 394.40,379.97 395.30,380.38 396.20,381.31 397.10,381.45 398.00,381.49 398.90,380.39 399.80,380.58 400.70,381.63 401.60,380.63 402.50,380.44 403.40,380.97 404.30,381.48 405.20,381.22 406.10,381.90 407.00,382.12 407.90,380.71 408.80,381.24 409.70,381.47 410.60,380.89 411.50,381.70 412.40,381.07 413.30,381.18 414.20,382.16 415.10,382.14 416.00,382.12 416.90,382.24 417.80,381.76 418.70,382.30 419.50,382.10" fill="none" stroke="#ee1111" stroke-width="1.2" stroke-linejoin="round"/>
<rect x="310.95" y="382.09" width="1.30" height="1.30" fill="#111"/>
<rect x="313.11" y="382.09" width="1.30" height="1.30" fill="#111"/>
<rect x="315.27" y="382.09" width="1.30" height="1.30" fill="#111"/>
<rect x="317.43" y="382.09" width="1.30" height="1.30" fill="#111"/>
<rect x="319.59" y="369.32" width="1.30" height="1.30" fill="#111"/>
<rect x="321.75" y="351.39" width="1.30" height="1.30" fill="#111"/>
<rect x="323.91" y="334.71" width="1.30" height="1.30" fill="#111"/>
<rect x="326.07" y="324.28" width="1.30" height="1.30" fill="#111"/>
<rect x="328.23" y="316.54" width="1.30" height="1.30" fill="#111"/>
<rect x="330.39" y="314.66" width="1.30" height="1.30" fill="#111"/>
<rect x="332.55" y="318.03" width="1.30" height="1.30" fill="#111"/>
<rect x="334.71" y="325.36" width="1.30" height="1.30" fill="#111"/>
<rect x="336.87" y="333.49" width="1.30" height="1.30" fill="#111"/>
<rect x="339.03" y="338.30" width="1.30" height="1.30" fill="#111"/>
<rect x="341.19" y="342.44" width="1.30" height="1.30" fill="#111"/>
<rect x="343.35" y="345.19" width="1.30" height="1.30" fill="#111"/>
<rect x="345.51" y="347.48" width="1.30" height="1.30" fill="#111"/>
<rect x="347.67" y="349.23" width="1.30" height="1.30" fill="#111"/>
<rect x="349.83" y="350.80" width="1.30" height="1.30" fill="#111"/>
<rect x="351.99" y="352.37" width="1.30" height="1.30" fill="#111"/>
<rect x="354.15" y="355.34" width="1.30" height="1.30" fill="#111"/>
<rect x="356.31" y="358.32" width="1.30" height="1.30" fill="#111"/>
<rect x="358.47" y="361.29" width="1.30" height="1.30" fill="#111"/>
<rect x="360.63" y="363.47" width="1.30" height="1.30" fill="#111"/>
<rect x="362.79" y="365.09" width="1.30" height="1.30" fill="#111"/>
<rect x="364.95" y="366.71" width="1.30" height="1.30" fill="#111"/>
<rect x="367.11" y="367.90" width="1.30" height="1.30" fill="#111"/>
<rect x="369.27" y="369.04" width="1.30" height="1.30" fill="#111"/>
<rect x="371.43" y="369.72" width="1.30" height="1.30" fill="#111"/>
<rect x="373.59" y="369.00" width="1.30" height="1.30" fill="#111"/>
<rect x="375.75" y="366.82" width="1.30" height="1.30" fill="#111"/>
<rect x="377.91" y="373.20" width="1.30" height="1.30" fill="#111"/>
<rect x="380.07" y="375.46" width="1.30" height="1.30" fill="#111"/>
<rect x="382.23" y="376.16" width="1.30" height="1.30" fill="#111"/>
<rect x="384.39" y="376.86" width="1.30" height="1.30" fill="#111"/>
<rect x="386.55" y="377.19" width="1.30" height="1.30" fill="#111"/>
<rect x="388.71" y="377.00" width="1.30" height="1.30" fill="#111"/>
<rect x="390.87" y="376.82" width="1.30" height="1.30" fill="#111"/>
<rect x="393.03" y="377.59" width="1.30" height="1.30" fill="#111"/>
<rect x="395.19" y="378.83" width="1.30" height="1.30" fill="#111"/>
<rect x="397.35" y="380.26" width="1.30" height="1.30" fill="#111"/>
<rect x="399.51" y="381.73" width="1.30" height="1.30" fill="#111"/>
<rect x="401.67" y="382.51" width="1.30" height="1.30" fill="#111"/>
<rect x="403.83" y="382.79" width="1.30" height="1.30" fill="#111"/>
<rect x="405.99" y="383.07" width="1.30" height="1.30" fill="#111"/>
<rect x="408.15" y="383.36" width="1.30" height="1.30" fill="#111"/>
<rect x="410.31" y="383.25" width="1.30" height="1.30" fill="#111"/>
<rect x="412.47" y="383.13" width="1.30" height="1.30" fill="#111"/>
<rect x="414.63" y="383.02" width="1.30" height="1.30" fill="#111"/>
<rect x="416.79" y="382.91" width="1.30" height="1.30" fill="#111"/>
<circle cx="311.60" cy="382.48" r="0.75" fill="#ee1111"/>
<circle cx="313.76" cy="382.56" r="0.75" fill="#ee1111"/>
<circle cx="315.92" cy="382.64" r="0.75" fill="#ee1111"/>
<circle cx="318.08" cy="382.71" r="0.75" fill="#ee1111"/>
<circle cx="320.24" cy="375.22" r="0.75" fill="#ee1111"/>
<circle cx="322.40" cy="348.62" r="0.75" fill="#ee1111"/>
<circle cx="324.56" cy="333.00" r="0.75" fill="#ee1111"/>
<circle cx="326.72" cy="328.41" r="0.75" fill="#ee1111"/>
<circle cx="328.88" cy="331.35" r="0.75" fill="#ee1111"/>
<circle cx="331.04" cy="338.22" r="0.75" fill="#ee1111"/>
<circle cx="333.20" cy="345.46" r="0.75" fill="#ee1111"/>
<circle cx="335.36" cy="351.76" r="0.75" fill="#ee1111"/>
<circle cx="337.52" cy="353.33" r="0.75" fill="#ee1111"/>
<circle cx="339.68" cy="354.90" r="0.75" fill="#ee1111"/>
<circle cx="341.84" cy="356.19" r="0.75" fill="#ee1111"/>
<circle cx="344.00" cy="357.11" r="0.75" fill="#ee1111"/>
<circle cx="346.16" cy="358.02" r="0.75" fill="#ee1111"/>
<circle cx="348.32" cy="359.04" r="0.75" fill="#ee1111"/>
<circle cx="350.48" cy="361.16" r="0.75" fill="#ee1111"/>
<circle cx="352.64" cy="363.29" r="0.75" fill="#ee1111"/>
<circle cx="354.80" cy="365.57" r="0.75" fill="#ee1111"/>
<circle cx="356.96" cy="368.17" r="0.75" fill="#ee1111"/>
<circle cx="359.12" cy="370.78" r="0.75" fill="#ee1111"/>
<circle cx="361.28" cy="373.38" r="0.75" fill="#ee1111"/>
<circle cx="363.44" cy="374.78" r="0.75" fill="#ee1111"/>
<circle cx="365.60" cy="376.08" r="0.75" fill="#ee1111"/>
<circle cx="367.76" cy="377.37" r="0.75" fill="#ee1111"/>
<circle cx="369.92" cy="378.08" r="0.75" fill="#ee1111"/>
<circle cx="372.08" cy="378.36" r="0.75" fill="#ee1111"/>
<circle cx="374.24" cy="378.64" r="0.75" fill="#ee1111"/>
<circle cx="376.40" cy="378.92" r="0.75" fill="#ee1111"/>
<circle cx="378.56" cy="379.20" r="0.75" fill="#ee1111"/>
<circle cx="380.72" cy="379.47" r="0.75" fill="#ee1111"/>
<circle cx="382.88" cy="379.65" r="0.75" fill="#ee1111"/>
<circle cx="385.04" cy="379.84" r="0.75" fill="#ee1111"/>
<circle cx="387.20" cy="380.03" r="0.75" fill="#ee1111"/>
<circle cx="389.36" cy="380.21" r="0.75" fill="#ee1111"/>
<circle cx="391.52" cy="380.40" r="0.75" fill="#ee1111"/>
<circle cx="393.68" cy="380.59" r="0.75" fill="#ee1111"/>
<circle cx="395.84" cy="380.77" r="0.75" fill="#ee1111"/>
<circle cx="398.00" cy="380.96" r="0.75" fill="#ee1111"/>
<circle cx="400.16" cy="381.06" r="0.75" fill="#ee1111"/>
<circle cx="402.32" cy="381.16" r="0.75" fill="#ee1111"/>
<circle cx="404.48" cy="381.26" r="0.75" fill="#ee1111"/>
<circle cx="406.64" cy="381.37" r="0.75" fill="#ee1111"/>
<circle cx="408.80" cy="381.47" r="0.75" fill="#ee1111"/>
<circle cx="410.96" cy="381.57" r="0.75" fill="#ee1111"/>
<circle cx="413.12" cy="381.67" r="0.75" fill="#ee1111"/>
<circle cx="415.28" cy="381.77" r="0.75" fill="#ee1111"/>
<circle cx="417.44" cy="381.87" r="0.75" fill="#ee1111"/>
<text x="314.60" y="315.90" font-family="'Liberation Sans', Arial, sans-serif" font-size="8.0" font-weight="bold" fill="#222" text-anchor="start">(I)</text>
<rect x="373.6" y="308.9" width="43.7" height="10.9" fill="#fff" stroke="#666" stroke-width="0.5"/>
<line x1="375.90" y1="312.10" x2="385.20" y2="312.10" stroke="#111" stroke-width="0.9"/>
<rect x="379.15" y="310.75" width="2.70" height="2.70" fill="#111"/>
<text x="386.60" y="313.50" font-family="'Liberation Sans', Arial, sans-serif" font-size="4.0" font-weight="normal" fill="#444" text-anchor="start">ALSR</text>
<line x1="375.90" y1="317.10" x2="385.20" y2="317.10" stroke="#ee1111" stroke-width="0.9"/>
<circle cx="380.50" cy="317.10" r="1.50" fill="#ee1111"/>
<text x="386.60" y="318.50" font-family="'Liberation Sans', Arial, sans-serif" font-size="4.0" font-weight="normal" fill="#444" text-anchor="start">ALSR/HACP-30</text>
<rect x="438.3" y="308.2" width="107.80000000000001" height="83.5" fill="none" stroke="#4a4a4a" stroke-width="1.15"/>
<line x1="438.00" y1="391.70" x2="438.00" y2="390.50" stroke="#555" stroke-width="0.6"/>
<text x="438.00" y="396.10" font-family="'Liberation Sans', Arial, sans-serif" font-size="3.6" font-weight="normal" fill="#555" text-anchor="middle">0</text>
<line x1="456.00" y1="391.70" x2="456.00" y2="390.50" stroke="#555" stroke-width="0.6"/>
<text x="456.00" y="396.10" font-family="'Liberation Sans', Arial, sans-serif" font-size="3.6" font-weight="normal" fill="#555" text-anchor="middle">100</text>
<line x1="474.00" y1="391.70" x2="474.00" y2="390.50" stroke="#555" stroke-width="0.6"/>
<text x="474.00" y="396.10" font-family="'Liberation Sans', Arial, sans-serif" font-size="3.6" font-weight="normal" fill="#555" text-anchor="middle">200</text>
<line x1="492.00" y1="391.70" x2="492.00" y2="390.50" stroke="#555" stroke-width="0.6"/>
<text x="492.00" y="396.10" font-family="'Liberation Sans', Arial, sans-serif" font-size="3.6" font-weight="normal" fill="#555" text-anchor="middle">300</text>
<line x1="510.00" y1="391.70" x2="510.00" y2="390.50" stroke="#555" stroke-width="0.6"/>
<text x="510.00" y="396.10" font-family="'Liberation Sans', Arial, sans-serif" font-size="3.6" font-weight="normal" fill="#555" text-anchor="middle">400</text>
<line x1="528.00" y1="391.70" x2="528.00" y2="390.50" stroke="#555" stroke-width="0.6"/>
<text x="528.00" y="396.10" font-family="'Liberation Sans', Arial, sans-serif" font-size="3.6" font-weight="normal" fill="#555" text-anchor="middle">500</text>
<line x1="546.00" y1="391.70" x2="546.00" y2="390.50" stroke="#555" stroke-width="0.6"/>
<text x="546.00" y="396.10" font-family="'Liberation Sans', Arial, sans-serif" font-size="3.6" font-weight="normal" fill="#555" text-anchor="middle">600</text>
<line x1="438.30" y1="385.50" x2="439.50" y2="385.50" stroke="#555" stroke-width="0.6"/>
<text x="436.10" y="386.70" font-family="'Liberation Sans', Arial, sans-serif" font-size="3.6" font-weight="normal" fill="#555" text-anchor="end">0</text>
<line x1="438.30" y1="371.20" x2="439.50" y2="371.20" stroke="#555" stroke-width="0.6"/>
<text x="436.10" y="372.40" font-family="'Liberation Sans', Arial, sans-serif" font-size="3.6" font-weight="normal" fill="#555" text-anchor="end">2</text>
<line x1="438.30" y1="356.90" x2="439.50" y2="356.90" stroke="#555" stroke-width="0.6"/>
<text x="436.10" y="358.10" font-family="'Liberation Sans', Arial, sans-serif" font-size="3.6" font-weight="normal" fill="#555" text-anchor="end">4</text>
<line x1="438.30" y1="342.60" x2="439.50" y2="342.60" stroke="#555" stroke-width="0.6"/>
<text x="436.10" y="343.80" font-family="'Liberation Sans', Arial, sans-serif" font-size="3.6" font-weight="normal" fill="#555" text-anchor="end">6</text>
<line x1="438.30" y1="328.30" x2="439.50" y2="328.30" stroke="#555" stroke-width="0.6"/>
<text x="436.10" y="329.50" font-family="'Liberation Sans', Arial, sans-serif" font-size="3.6" font-weight="normal" fill="#555" text-anchor="end">8</text>
<line x1="438.30" y1="314.00" x2="439.50" y2="314.00" stroke="#555" stroke-width="0.6"/>
<text x="436.10" y="315.20" font-family="'Liberation Sans', Arial, sans-serif" font-size="3.6" font-weight="normal" fill="#555" text-anchor="end">10</text>
<text x="490.50" y="400.60" font-family="'Liberation Sans', Arial, sans-serif" font-size="3.9" font-weight="normal" fill="#555" text-anchor="middle">Time (s)</text>
<text x="429.50" y="350.00" font-family="'Liberation Sans', Arial, sans-serif" font-size="3.7" font-weight="normal" fill="#666" text-anchor="middle" transform="rotate(-90 429.5 350)">Total smoke production (m<tspan font-size="2.6" dy="-1">2</tspan><tspan dy="1">)</tspan></text>
<polyline points="438.30,384.07 438.30,384.07 438.64,384.08 439.07,384.08 439.54,384.09 440.07,384.10 440.62,384.10 441.20,384.11 441.78,384.12 442.36,384.12 442.93,384.12 443.48,384.12 443.99,384.12 444.45,384.11 444.86,384.09 445.20,384.07 446.03,383.98 446.44,383.85 446.68,383.65 447.00,383.36 447.43,383.02 447.84,382.64 448.29,382.08 448.80,381.21 449.20,380.39 449.64,379.41 450.11,378.31 450.58,377.13 451.05,375.94 451.50,374.77 451.93,373.61 452.34,372.39 452.75,371.16 453.16,369.93 453.58,368.74 454.02,367.62 454.48,366.58 454.96,365.59 455.45,364.63 455.94,363.71 456.43,362.80 456.90,361.90 457.33,361.10 457.71,360.40 458.09,359.72 458.51,358.97 459.00,358.06 459.60,356.90 459.99,356.13 460.42,355.26 460.89,354.31 461.38,353.30 461.89,352.25 462.42,351.18 462.95,350.11 463.48,349.05 464.00,348.03 464.51,347.06 465.00,346.18 465.47,345.35 465.93,344.57 466.38,343.81 466.82,343.09 467.26,342.39 467.71,341.70 468.16,341.02 468.61,340.35 469.07,339.68 469.55,339.00 470.04,338.31 470.50,337.67 470.98,337.01 471.47,336.36 471.96,335.70 472.46,335.05 472.97,334.40 473.47,333.76 473.98,333.13 474.49,332.52 474.99,331.93 475.49,331.35 475.98,330.80 476.47,330.27 476.95,329.76 477.43,329.27 477.91,328.79 478.38,328.33 478.86,327.88 479.34,327.44 479.81,327.02 480.29,326.60 480.77,326.21 481.25,325.82 481.74,325.44 482.21,325.08 482.67,324.74 483.11,324.41 483.55,324.10 483.98,323.81 484.43,323.52 484.89,323.24 485.37,322.96 485.89,322.69 486.44,322.42 487.03,322.14 487.68,321.87 488.07,321.70 488.47,321.54 488.88,321.38 489.30,321.22 489.73,321.06 490.17,320.90 490.62,320.74 491.08,320.58 491.55,320.42 492.03,320.27 492.52,320.11 493.01,319.96 493.52,319.80 494.04,319.65 494.57,319.50 495.11,319.36 495.65,319.21 496.21,319.07 496.78,318.92 497.35,318.78 497.94,318.65 498.36,318.55 498.78,318.46 499.22,318.36 499.66,318.27 500.11,318.17 500.57,318.08 501.03,317.98 501.49,317.89 501.97,317.80 502.45,317.71 502.93,317.62 503.42,317.53 503.91,317.44 504.41,317.35 504.90,317.26 505.41,317.18 505.91,317.09 506.42,317.01 506.92,316.93 507.43,316.85 507.94,316.77 508.45,316.69 508.97,316.62 509.48,316.54 509.99,316.47 510.50,316.40 511.01,316.33 511.51,316.27 512.02,316.21 512.52,316.14 513.00,316.09 513.49,316.03 513.97,315.98 514.45,315.93 514.94,315.88 515.42,315.84 515.90,315.79 516.38,315.75 516.87,315.71 517.35,315.67 517.84,315.63 518.32,315.59 518.81,315.56 519.30,315.52 519.79,315.49 520.28,315.46 520.78,315.43 521.27,315.40 521.77,315.37 522.27,315.34 522.77,315.32 523.28,315.29 523.79,315.26 524.30,315.24 524.82,315.21 525.34,315.19 525.86,315.17 526.39,315.14 526.92,315.12 527.46,315.10 528.00,315.07 528.46,315.05 528.94,315.04 529.44,315.02 529.94,315.00 530.46,314.99 530.99,314.97 531.54,314.96 532.08,314.94 532.64,314.93 533.20,314.91 533.77,314.90 534.34,314.89 534.92,314.88 535.49,314.87 536.07,314.86 536.64,314.85 537.21,314.84 537.78,314.83 538.34,314.82 538.89,314.81 539.44,314.81 539.98,314.80 540.51,314.79 541.03,314.79 541.53,314.78 542.03,314.77 542.50,314.77 542.96,314.76 543.41,314.76 543.83,314.75 544.24,314.74 544.62,314.74 544.98,314.73 545.32,314.73 545.63,314.72 545.92,314.72 546.10,314.71" fill="none" stroke="#111" stroke-width="1.1" stroke-linejoin="round"/>
<polyline points="438.30,384.07 438.30,384.07 438.64,384.08 439.07,384.08 439.54,384.09 440.07,384.10 440.62,384.10 441.20,384.11 441.78,384.12 442.36,384.12 442.93,384.12 443.48,384.12 443.99,384.12 444.45,384.11 444.86,384.09 445.20,384.07 446.03,383.98 446.44,383.85 446.68,383.65 447.00,383.36 447.43,383.02 447.84,382.64 448.29,382.08 448.80,381.21 449.20,380.39 449.64,379.41 450.11,378.31 450.58,377.13 451.05,375.94 451.50,374.77 451.93,373.61 452.34,372.39 452.75,371.16 453.16,369.93 453.58,368.74 454.02,367.62 454.48,366.58 454.96,365.57 455.45,364.61 455.94,363.68 456.43,362.78 456.90,361.90 457.33,361.07 457.71,360.28 458.09,359.51 458.51,358.77 459.00,358.02 459.60,357.26 459.99,356.83 460.41,356.41 460.87,355.98 461.35,355.55 461.85,355.12 462.37,354.70 462.90,354.27 463.43,353.85 463.96,353.43 464.49,353.02 465.00,352.61 465.47,352.23 465.95,351.85 466.43,351.47 466.91,351.09 467.40,350.71 467.89,350.33 468.38,349.96 468.87,349.60 469.35,349.26 469.83,348.93 470.30,348.61 470.76,348.32 471.25,348.02 471.73,347.74 472.21,347.47 472.68,347.22 473.14,346.99 473.60,346.77 474.06,346.56 474.53,346.36 475.01,346.17 475.49,345.99 475.98,345.82 476.43,345.67 476.86,345.53 477.28,345.40 477.69,345.29 478.11,345.18 478.55,345.08 478.99,344.98 479.47,344.90 479.97,344.82 480.51,344.74 481.10,344.67 481.74,344.60 482.08,344.57 482.36,344.53 482.59,344.50 482.77,344.48 482.92,344.45 483.06,344.43 483.20,344.41 483.35,344.40 483.52,344.38 483.72,344.37 483.98,344.35 484.29,344.34 484.68,344.33 485.16,344.32 485.74,344.31 486.42,344.30 487.24,344.29 488.19,344.28 489.29,344.27 490.56,344.26 492.00,344.24 492.30,344.24 492.61,344.24 492.94,344.24 493.28,344.23 493.62,344.23 493.98,344.23 494.35,344.23 494.73,344.22 495.12,344.22 495.52,344.22 495.92,344.22 496.34,344.21 496.77,344.21 497.21,344.21 497.65,344.21 498.10,344.20 498.57,344.20 499.04,344.20 499.51,344.20 500.00,344.19 500.49,344.19 500.99,344.19 501.50,344.19 502.01,344.18 502.53,344.18 503.06,344.18 503.59,344.18 504.13,344.17 504.68,344.17 505.22,344.17 505.78,344.17 506.34,344.16 506.90,344.16 507.47,344.16 508.04,344.16 508.62,344.16 509.20,344.15 509.78,344.15 510.37,344.15 510.96,344.15 511.56,344.14 512.15,344.14 512.75,344.14 513.35,344.14 513.95,344.14 514.56,344.13 515.16,344.13 515.77,344.13 516.38,344.13 516.99,344.12 517.60,344.12 518.21,344.12 518.82,344.12 519.43,344.12 520.04,344.11 520.64,344.11 521.25,344.11 521.86,344.11 522.47,344.11 523.07,344.10 523.67,344.10 524.27,344.10 524.87,344.10 525.47,344.10 526.06,344.09 526.66,344.09 527.24,344.09 527.83,344.09 528.41,344.09 528.99,344.09 529.56,344.08 530.13,344.08 530.69,344.08 531.25,344.08 531.81,344.08 532.36,344.07 532.91,344.07 533.45,344.07 533.98,344.07 534.51,344.07 535.03,344.07 535.54,344.06 536.05,344.06 536.55,344.06 537.05,344.06 537.53,344.06 538.01,344.06 538.49,344.06 538.95,344.05 539.40,344.05 539.85,344.05 540.29,344.05 540.72,344.05 541.14,344.05 541.55,344.05 541.95,344.04 542.34,344.04 542.72,344.04 543.09,344.04 543.45,344.04 543.80,344.04 544.14,344.04 544.47,344.04 544.78,344.04 545.09,344.03 545.38,344.03 545.66,344.03 545.93,344.03 546.10,344.03" fill="none" stroke="#ee1111" stroke-width="1.2" stroke-linejoin="round"/>
<circle cx="438.00" cy="384.07" r="0.85" fill="#111"/>
<circle cx="443.94" cy="384.07" r="0.85" fill="#111"/>
<circle cx="449.88" cy="378.64" r="0.85" fill="#111"/>
<circle cx="455.82" cy="364.05" r="0.85" fill="#111"/>
<circle cx="461.76" cy="352.61" r="0.85" fill="#111"/>
<circle cx="467.70" cy="341.96" r="0.85" fill="#111"/>
<circle cx="473.64" cy="333.76" r="0.85" fill="#111"/>
<circle cx="479.58" cy="327.45" r="0.85" fill="#111"/>
<circle cx="485.52" cy="323.16" r="0.85" fill="#111"/>
<circle cx="491.46" cy="320.68" r="0.85" fill="#111"/>
<circle cx="497.40" cy="318.82" r="0.85" fill="#111"/>
<circle cx="503.34" cy="317.72" r="0.85" fill="#111"/>
<circle cx="509.28" cy="316.70" r="0.85" fill="#111"/>
<circle cx="515.22" cy="315.96" r="0.85" fill="#111"/>
<circle cx="521.16" cy="315.55" r="0.85" fill="#111"/>
<circle cx="527.10" cy="315.13" r="0.85" fill="#111"/>
<circle cx="533.04" cy="314.97" r="0.85" fill="#111"/>
<circle cx="538.98" cy="314.86" r="0.85" fill="#111"/>
<circle cx="544.92" cy="314.74" r="0.85" fill="#111"/>
<circle cx="438.00" cy="384.07" r="0.90" fill="#ee1111"/>
<circle cx="443.94" cy="384.07" r="0.90" fill="#ee1111"/>
<circle cx="449.88" cy="378.64" r="0.90" fill="#ee1111"/>
<circle cx="455.82" cy="364.05" r="0.90" fill="#ee1111"/>
<circle cx="461.76" cy="355.40" r="0.90" fill="#ee1111"/>
<circle cx="467.70" cy="350.60" r="0.90" fill="#ee1111"/>
<circle cx="473.64" cy="346.94" r="0.90" fill="#ee1111"/>
<circle cx="479.58" cy="345.06" r="0.90" fill="#ee1111"/>
<circle cx="485.52" cy="344.47" r="0.90" fill="#ee1111"/>
<circle cx="491.46" cy="344.26" r="0.90" fill="#ee1111"/>
<circle cx="497.40" cy="344.22" r="0.90" fill="#ee1111"/>
<circle cx="503.34" cy="344.20" r="0.90" fill="#ee1111"/>
<circle cx="509.28" cy="344.18" r="0.90" fill="#ee1111"/>
<circle cx="515.22" cy="344.15" r="0.90" fill="#ee1111"/>
<circle cx="521.16" cy="344.13" r="0.90" fill="#ee1111"/>
<circle cx="527.10" cy="344.11" r="0.90" fill="#ee1111"/>
<circle cx="533.04" cy="344.08" r="0.90" fill="#ee1111"/>
<circle cx="538.98" cy="344.06" r="0.90" fill="#ee1111"/>
<circle cx="544.92" cy="344.03" r="0.90" fill="#ee1111"/>
<text x="441.60" y="315.90" font-family="'Liberation Sans', Arial, sans-serif" font-size="8.0" font-weight="bold" fill="#222" text-anchor="start" letter-spacing="0.25">(II)</text>
<rect x="504.1" y="378.4" width="40.9" height="10" fill="#fff" stroke="#666" stroke-width="0.5"/>
<line x1="504.80" y1="380.80" x2="514.60" y2="380.80" stroke="#111" stroke-width="0.9"/>
<circle cx="509.70" cy="380.80" r="1.45" fill="#111"/>
<text x="515.50" y="382.20" font-family="'Liberation Sans', Arial, sans-serif" font-size="4.0" font-weight="normal" fill="#444" text-anchor="start">ALSR</text>
<line x1="504.80" y1="386.10" x2="514.60" y2="386.10" stroke="#ee1111" stroke-width="0.9"/>
<circle cx="509.70" cy="386.10" r="1.70" fill="#ee1111"/>
<text x="515.50" y="387.50" font-family="'Liberation Sans', Arial, sans-serif" font-size="4.0" font-weight="normal" fill="#444" text-anchor="start">ALSR/HACP-30</text>
<text x="291.80" y="200.80" font-family="'Liberation Sans', Arial, sans-serif" font-size="11" font-weight="bold" fill="#111" text-anchor="start" stroke="#111" stroke-width="0.3">h</text>
<defs><filter id="bl" x="-50%" y="-50%" width="200%" height="200%"><feGaussianBlur stdDeviation="0.7"/></filter><filter id="bl2" x="-50%" y="-50%" width="200%" height="200%"><feGaussianBlur stdDeviation="1.4"/></filter><linearGradient id="cellg" x1="0" x2="1" y1="0" y2="0"><stop offset="0" stop-color="#fff" stop-opacity="0"/><stop offset="0.45" stop-color="#fff" stop-opacity="0.06"/><stop offset="0.6" stop-color="#fff" stop-opacity="0.10"/><stop offset="1" stop-color="#fff" stop-opacity="0"/></linearGradient><linearGradient id="flame" x1="0" x2="0" y1="0" y2="1"><stop offset="0" stop-color="#f3c9a0" stop-opacity="0.3"/><stop offset="1" stop-color="#f08a40"/></linearGradient></defs>
<rect x="305.50" y="195.0" width="40.40" height="49.30000000000001" fill="#b9bbb1"/>
<rect x="305.50" y="244.3" width="40.40" height="49.39999999999998" fill="#bbbdb4"/>
<rect x="319.54" y="195.0" width="20.05" height="98.69999999999999" fill="url(#cellg)"/>
<rect x="345.60" y="195.0" width="40.40" height="49.30000000000001" fill="#b9bfbc"/>
<rect x="345.60" y="244.3" width="40.40" height="49.39999999999998" fill="#bcbfb7"/>
<rect x="359.64" y="195.0" width="20.05" height="98.69999999999999" fill="url(#cellg)"/>
<rect x="385.70" y="195.0" width="40.40" height="49.30000000000001" fill="#bdbfb6"/>
<rect x="385.70" y="244.3" width="40.40" height="49.39999999999998" fill="#bbbeb6"/>
<rect x="399.74" y="195.0" width="20.05" height="98.69999999999999" fill="url(#cellg)"/>
<rect x="425.80" y="195.0" width="40.40" height="49.30000000000001" fill="#bbbdb4"/>
<rect x="425.80" y="244.3" width="40.40" height="49.39999999999998" fill="#bcbeb6"/>
<rect x="439.84" y="195.0" width="20.05" height="98.69999999999999" fill="url(#cellg)"/>
<rect x="465.90" y="195.0" width="40.40" height="49.30000000000001" fill="#babdb4"/>
<rect x="465.90" y="244.3" width="40.40" height="49.39999999999998" fill="#bbbeb5"/>
<rect x="479.94" y="195.0" width="20.05" height="98.69999999999999" fill="url(#cellg)"/>
<rect x="506.00" y="195.0" width="40.40" height="49.30000000000001" fill="#bdbfb6"/>
<rect x="506.00" y="244.3" width="40.40" height="49.39999999999998" fill="#bdbfb7"/>
<rect x="520.03" y="195.0" width="20.05" height="98.69999999999999" fill="url(#cellg)"/>
<rect x="306.50" y="195.0" width="4.00" height="98.69999999999999" fill="#9aa09a" opacity="0.12" filter="url(#bl2)"/>
<rect x="346.60" y="195.0" width="4.00" height="98.69999999999999" fill="#9aa09a" opacity="0.12" filter="url(#bl2)"/>
<rect x="386.70" y="195.0" width="4.00" height="98.69999999999999" fill="#9aa09a" opacity="0.12" filter="url(#bl2)"/>
<rect x="426.80" y="195.0" width="4.00" height="98.69999999999999" fill="#9aa09a" opacity="0.12" filter="url(#bl2)"/>
<rect x="466.90" y="195.0" width="4.00" height="98.69999999999999" fill="#9aa09a" opacity="0.12" filter="url(#bl2)"/>
<rect x="507.00" y="195.0" width="4.00" height="98.69999999999999" fill="#9aa09a" opacity="0.12" filter="url(#bl2)"/>
<g filter="url(#bl)"><path d="M363.2,223.8 L366.5,239.9 M368.3,219.4 L366.8,239" stroke="#8a9aa4" stroke-width="0.5" fill="none" opacity="0.8"/><path d="M362.8,230 L367.6,229.6 L367.2,240.6 L363.5,240.8 Z" fill="#5d7886" opacity="0.75"/><path d="M359.5,236.5 C360,235 361.8,235 363.2,235.5 L363.5,241.3 L359.6,241.3 Z" fill="#f3eee2"/><path d="M366.6,232.5 L367.8,236.2" stroke="#d89070" stroke-width="1.1" opacity="0.8"/><circle cx="367.4" cy="240.4" r="0.9" fill="#c04030" opacity="0.8"/><path d="M408.5,219.4 C408.8,224 409.2,228 409.6,231.8" stroke="#d0ccc0" stroke-width="0.6" fill="none" opacity="0.8"/><path d="M403,226 C403.2,232 404.5,238 407.4,240.6 C409.5,241.5 411.8,240.5 411.8,239 C411.5,236 410.5,233.5 409.6,231.8 C407.5,229.5 405,227 403,226 Z" fill="#e8dccc" opacity="0.45"/><path d="M403,226 C403.2,232 404.5,238 407.4,240.6 C409.5,241.5 411.8,240.5 411.8,239" stroke="#e9a080" stroke-width="1.3" fill="none" opacity="0.9"/><path d="M409.6,231.8 C410.5,233.5 411.5,236 411.8,239" stroke="#eeb498" stroke-width="1.0" fill="none" opacity="0.8"/><circle cx="412.6" cy="239.1" r="0.8" fill="#333" opacity="0.8"/><path d="M443.4,216 C443.3,225 443.8,234 445.8,239.5 C447.5,241 449,240 449.2,237 C450,232 450.6,228 450.6,223 C449,226 447,230 446.5,233 C445.2,228 444.3,222 443.4,216 Z" fill="#e8dccc" opacity="0.4"/><path d="M443.4,216 C443.3,225 443.8,234 445.8,239.5 C447.5,241 449,240 449.2,237 C450,232 450.6,228 450.6,223" stroke="#eeae8e" stroke-width="1.4" fill="none" opacity="0.9"/><path d="M444.8,231 C445,234 445.4,236 446,238" stroke="#e67060" stroke-width="1.0" fill="none" opacity="0.7"/><circle cx="450" cy="241.3" r="1.0" fill="#555" opacity="0.8"/><path d="M491.2,204 C490.8,214 489,224 486,232 C484.5,236 483,239 481.5,240.5" stroke="#efb8a0" stroke-width="1.3" fill="none" opacity="0.85"/><path d="M490.5,210 C490,219 488,227 485.3,233" stroke="#fde8d0" stroke-width="0.7" fill="none" opacity="0.9"/><path d="M486.5,216 C485.3,225 483.5,232 481.5,238" stroke="#efc0a8" stroke-width="0.7" fill="none" opacity="0.6"/><path d="M478.5,242.5 L480.5,239 L484,239.5 L483.5,243 Z" fill="#eef0f0"/><path d="M480,242 L483,239.5" stroke="#555" stroke-width="0.6"/><path d="M521.5,212 L525,212 L525.5,222 L524.5,230 L521,230 L520.5,220 Z" fill="#a0a69c" opacity="0.35"/><path d="M522,214 L521.5,228 M524.5,214 L524.8,227" stroke="#6a7068" stroke-width="0.5" opacity="0.6"/><circle cx="526.5" cy="200" r="1.7" fill="#ffd860"/><circle cx="526.6" cy="200.3" r="0.9" fill="#f09820"/><circle cx="524.3" cy="212.3" r="1.5" fill="#fff07a"/><path d="M527.8,195.5 L526.8,201" stroke="#f0c040" stroke-width="1.2"/><path d="M525.8,203 L524.8,211" stroke="#9a9a80" stroke-width="0.6"/></g>
<defs><linearGradient id="strk" x1="0" x2="0" y1="0" y2="1"><stop offset="0" stop-color="#5a6a70" stop-opacity="0"/><stop offset="0.3" stop-color="#5a6a70" stop-opacity="0.25"/><stop offset="0.55" stop-color="#4a5a60" stop-opacity="0.75"/><stop offset="0.85" stop-color="#48606e" stop-opacity="0.9"/><stop offset="1" stop-color="#708894" stop-opacity="0.6"/></linearGradient></defs>
<g filter="url(#bl)"><rect x="362.7" y="252" width="3.6" height="22" fill="#d8dcd4" opacity="0.45"/><path d="M363.9,260 C362.5,270 362.1,279 362.9,287.5 L366.3,288.5 C366.3,280 365.7,270 365.1,260 Z" fill="url(#strk)"/><ellipse cx="364.2" cy="289.8" rx="2.3" ry="1.3" fill="#f4f0dc"/><rect x="402.5" y="252" width="3.6" height="22" fill="#d8dcd4" opacity="0.45"/><path d="M403.7,260 C402.3,270 401.9,279 402.7,287.5 L406.1,288.5 C406.1,280 405.5,270 404.9,260 Z" fill="url(#strk)"/><ellipse cx="404.0" cy="289.8" rx="2.3" ry="1.3" fill="#f4f0dc"/><rect x="442.8" y="252" width="3.6" height="22" fill="#d8dcd4" opacity="0.45"/><path d="M444.0,260 C442.6,270 442.2,279 443.0,287.5 L446.4,288.5 C446.4,280 445.8,270 445.2,260 Z" fill="url(#strk)"/><ellipse cx="444.3" cy="289.8" rx="2.3" ry="1.3" fill="#f4f0dc"/><rect x="482.8" y="252" width="3.6" height="22" fill="#d8dcd4" opacity="0.45"/><path d="M484.0,260 C482.6,270 482.2,279 483.0,287.5 L486.4,288.5 C486.4,280 485.8,270 485.2,260 Z" fill="url(#strk)"/><ellipse cx="484.3" cy="289.8" rx="2.3" ry="1.3" fill="#f4f0dc"/><rect x="522.8" y="252" width="3.6" height="22" fill="#d8dcd4" opacity="0.45"/><path d="M524.0,260 C522.6,270 522.2,279 523.0,287.5 L526.4,288.5 C526.4,280 525.8,270 525.2,260 Z" fill="url(#strk)"/><ellipse cx="524.3" cy="289.8" rx="2.3" ry="1.3" fill="#f4f0dc"/></g>
<text x="313.00" y="209.30" font-family="'Liberation Serif', 'Times New Roman', serif" font-size="7.7" font-weight="bold" fill="#18181e" text-anchor="start">0s</text>
<text x="313.00" y="258.80" font-family="'Liberation Serif', 'Times New Roman', serif" font-size="7.7" font-weight="bold" fill="#18181e" text-anchor="start">0s</text>
<text x="353.30" y="209.30" font-family="'Liberation Serif', 'Times New Roman', serif" font-size="7.7" font-weight="bold" fill="#18181e" text-anchor="start">10s</text>
<text x="353.30" y="258.80" font-family="'Liberation Serif', 'Times New Roman', serif" font-size="7.7" font-weight="bold" fill="#18181e" text-anchor="start">10s</text>
<text x="393.80" y="209.30" font-family="'Liberation Serif', 'Times New Roman', serif" font-size="7.7" font-weight="bold" fill="#18181e" text-anchor="start">20s</text>
<text x="393.80" y="258.80" font-family="'Liberation Serif', 'Times New Roman', serif" font-size="7.7" font-weight="bold" fill="#18181e" text-anchor="start">20s</text>
<text x="432.80" y="209.30" font-family="'Liberation Serif', 'Times New Roman', serif" font-size="7.7" font-weight="bold" fill="#18181e" text-anchor="start">25s</text>
<text x="432.80" y="258.80" font-family="'Liberation Serif', 'Times New Roman', serif" font-size="7.7" font-weight="bold" fill="#18181e" text-anchor="start">25s</text>
<text x="472.50" y="209.30" font-family="'Liberation Serif', 'Times New Roman', serif" font-size="7.7" font-weight="bold" fill="#18181e" text-anchor="start">30s</text>
<text x="472.50" y="258.80" font-family="'Liberation Serif', 'Times New Roman', serif" font-size="7.7" font-weight="bold" fill="#18181e" text-anchor="start">30s</text>
<text x="512.00" y="209.30" font-family="'Liberation Serif', 'Times New Roman', serif" font-size="7.7" font-weight="bold" fill="#18181e" text-anchor="start">99s</text>
<text x="512.00" y="258.80" font-family="'Liberation Serif', 'Times New Roman', serif" font-size="7.7" font-weight="bold" fill="#18181e" text-anchor="start">99s</text>
<text x="309.30" y="240.70" font-family="'Liberation Serif', 'Times New Roman', serif" font-size="7.7" font-weight="bold" fill="#2e4c85" text-anchor="start">ALSR</text>
<text x="309.30" y="289.70" font-family="'Liberation Serif', 'Times New Roman', serif" font-size="7.7" font-weight="bold" fill="#2e4c85" text-anchor="start">ALSR/HACP-30</text>
<text x="534.30" y="240.50" font-family="'Liberation Serif', 'Times New Roman', serif" font-size="6.4" font-weight="normal" fill="#333" text-anchor="start">(a)</text>
<text x="534.30" y="289.80" font-family="'Liberation Serif', 'Times New Roman', serif" font-size="6.4" font-weight="normal" fill="#333" text-anchor="start">(b)</text>
<rect x="305.5" y="195.0" width="240.60" height="98.70" fill="none" stroke="#3f5f9c" stroke-width="1.5"/>
<line x1="305.50" y1="244.30" x2="546.10" y2="244.30" stroke="#3f5f9c" stroke-width="1.5"/>
<line x1="281.30" y1="1.80" x2="281.30" y2="408.00" stroke="#505050" stroke-width="1.0" stroke-dasharray="2.8,2.435"/>
<text x="5.00" y="9.50" font-family="'Liberation Sans', Arial, sans-serif" font-size="10.5" font-weight="bold" fill="#111" text-anchor="start" stroke="#111" stroke-width="0.3">a</text>
<line x1="48.20" y1="20.30" x2="59.21" y2="27.58" stroke="#2c2c2c" stroke-width="0.85"/>
<line x1="50.25" y1="19.86" x2="58.81" y2="25.52" stroke="#2c2c2c" stroke-width="0.85"/>
<line x1="61.80" y1="32.41" x2="61.80" y2="44.70" stroke="#2c2c2c" stroke-width="0.85"/>
<line x1="61.80" y1="44.70" x2="50.85" y2="51.38" stroke="#2c2c2c" stroke-width="0.85"/>
<line x1="61.36" y1="46.73" x2="52.86" y2="51.91" stroke="#2c2c2c" stroke-width="0.85"/>
<line x1="45.53" y1="51.41" x2="34.30" y2="44.70" stroke="#2c2c2c" stroke-width="0.85"/>
<line x1="34.30" y1="44.70" x2="34.30" y2="32.41" stroke="#2c2c2c" stroke-width="0.85"/>
<line x1="32.80" y1="43.31" x2="32.80" y2="33.79" stroke="#2c2c2c" stroke-width="0.85"/>
<line x1="36.91" y1="27.61" x2="48.20" y2="20.30" stroke="#2c2c2c" stroke-width="0.85"/>
<line x1="48.20" y1="20.30" x2="48.20" y2="10.00" stroke="#2c2c2c" stroke-width="0.85"/>
<line x1="34.30" y1="44.70" x2="21.40" y2="53.30" stroke="#2c2c2c" stroke-width="0.85"/>
<line x1="61.80" y1="44.70" x2="75.20" y2="53.30" stroke="#2c2c2c" stroke-width="0.85"/>
<text x="61.80" y="31.82" font-family="'Liberation Serif', 'Times New Roman', serif" font-size="7.4" font-weight="normal" fill="#2c2c2c" text-anchor="middle" stroke="#2c2c2c" stroke-width="0.12">N</text>
<text x="48.20" y="55.52" font-family="'Liberation Serif', 'Times New Roman', serif" font-size="7.4" font-weight="normal" fill="#2c2c2c" text-anchor="middle" stroke="#2c2c2c" stroke-width="0.12">N</text>
<text x="34.30" y="31.82" font-family="'Liberation Serif', 'Times New Roman', serif" font-size="7.4" font-weight="normal" fill="#2c2c2c" text-anchor="middle" stroke="#2c2c2c" stroke-width="0.12">N</text>
<text x="45.50" y="8.60" font-family="'Liberation Serif', 'Times New Roman', serif" font-size="7.8" font-weight="normal" fill="#2c2c2c" text-anchor="start">NH<tspan font-size="5.3" dy="1.3">2</tspan></text>
<text x="8.60" y="56.40" font-family="'Liberation Serif', 'Times New Roman', serif" font-size="7.8" font-weight="normal" fill="#2c2c2c" text-anchor="start">H<tspan font-size="5.3" dy="1.3">2</tspan><tspan dy="-1.3">N</tspan></text>
<text x="73.30" y="56.40" font-family="'Liberation Serif', 'Times New Roman', serif" font-size="7.8" font-weight="normal" fill="#2c2c2c" text-anchor="start">NH<tspan font-size="5.3" dy="1.3">2</tspan></text>
<text x="92.60" y="35.60" font-family="'Liberation Serif', 'Times New Roman', serif" font-size="7.0" font-weight="normal" fill="#2c2c2c" text-anchor="start">+</text>
<text x="100.30" y="35.60" font-family="'Liberation Serif', 'Times New Roman', serif" font-size="8.0" font-weight="normal" fill="#2c2c2c" text-anchor="start">HCHO</text>
<line x1="133.00" y1="32.20" x2="175.50" y2="32.20" stroke="#222" stroke-width="0.7"/>
<polygon points="179.50,32.20 175.00,33.60 175.00,30.80" fill="#222"/>
<line x1="227.80" y1="28.60" x2="233.88" y2="32.22" stroke="#2c2c2c" stroke-width="0.85"/>
<line x1="229.22" y1="27.93" x2="233.79" y2="30.65" stroke="#2c2c2c" stroke-width="0.85"/>
<line x1="236.20" y1="36.30" x2="236.20" y2="43.40" stroke="#2c2c2c" stroke-width="0.85"/>
<line x1="236.20" y1="43.40" x2="230.14" y2="46.86" stroke="#2c2c2c" stroke-width="0.85"/>
<line x1="236.09" y1="44.96" x2="231.55" y2="47.56" stroke="#2c2c2c" stroke-width="0.85"/>
<line x1="225.46" y1="46.86" x2="219.40" y2="43.40" stroke="#2c2c2c" stroke-width="0.85"/>
<line x1="219.40" y1="43.40" x2="219.40" y2="36.30" stroke="#2c2c2c" stroke-width="0.85"/>
<line x1="218.10" y1="42.52" x2="218.10" y2="37.18" stroke="#2c2c2c" stroke-width="0.85"/>
<line x1="221.72" y1="32.22" x2="227.80" y2="28.60" stroke="#2c2c2c" stroke-width="0.85"/>
<line x1="227.80" y1="28.60" x2="227.80" y2="24.50" stroke="#2c2c2c" stroke-width="0.85"/>
<line x1="219.40" y1="43.40" x2="213.64" y2="47.29" stroke="#2c2c2c" stroke-width="0.85"/>
<line x1="236.20" y1="43.40" x2="241.96" y2="47.29" stroke="#2c2c2c" stroke-width="0.85"/>
<line x1="225.82" y1="19.96" x2="222.10" y2="16.50" stroke="#2c2c2c" stroke-width="0.85"/>
<line x1="229.79" y1="19.98" x2="233.60" y2="16.50" stroke="#2c2c2c" stroke-width="0.85"/>
<line x1="222.10" y1="16.50" x2="222.69" y2="8.99" stroke="#2c2c2c" stroke-width="0.85"/>
<line x1="233.60" y1="16.50" x2="235.23" y2="8.94" stroke="#2c2c2c" stroke-width="0.85"/>
<line x1="208.91" y1="47.75" x2="202.40" y2="45.00" stroke="#2c2c2c" stroke-width="0.85"/>
<line x1="202.40" y1="45.00" x2="196.04" y2="51.13" stroke="#2c2c2c" stroke-width="0.85"/>
<line x1="211.00" y1="51.47" x2="210.10" y2="57.50" stroke="#2c2c2c" stroke-width="0.85"/>
<line x1="210.10" y1="57.50" x2="204.20" y2="62.30" stroke="#2c2c2c" stroke-width="0.85"/>
<line x1="246.68" y1="47.74" x2="253.10" y2="45.00" stroke="#2c2c2c" stroke-width="0.85"/>
<line x1="253.10" y1="45.00" x2="259.83" y2="49.34" stroke="#2c2c2c" stroke-width="0.85"/>
<line x1="244.63" y1="51.47" x2="245.60" y2="57.50" stroke="#2c2c2c" stroke-width="0.85"/>
<line x1="245.60" y1="57.50" x2="254.52" y2="60.21" stroke="#2c2c2c" stroke-width="0.85"/>
<text x="236.20" y="36.08" font-family="'Liberation Serif', 'Times New Roman', serif" font-size="7.3" font-weight="normal" fill="#2c2c2c" text-anchor="middle" stroke="#2c2c2c" stroke-width="0.12">N</text>
<text x="227.80" y="50.68" font-family="'Liberation Serif', 'Times New Roman', serif" font-size="7.3" font-weight="normal" fill="#2c2c2c" text-anchor="middle" stroke="#2c2c2c" stroke-width="0.12">N</text>
<text x="219.40" y="36.08" font-family="'Liberation Serif', 'Times New Roman', serif" font-size="7.3" font-weight="normal" fill="#2c2c2c" text-anchor="middle" stroke="#2c2c2c" stroke-width="0.12">N</text>
<text x="227.80" y="24.28" font-family="'Liberation Serif', 'Times New Roman', serif" font-size="7.3" font-weight="normal" fill="#2c2c2c" text-anchor="middle" stroke="#2c2c2c" stroke-width="0.12">N</text>
<text x="211.40" y="51.28" font-family="'Liberation Serif', 'Times New Roman', serif" font-size="7.3" font-weight="normal" fill="#2c2c2c" text-anchor="middle" stroke="#2c2c2c" stroke-width="0.12">N</text>
<text x="244.20" y="51.28" font-family="'Liberation Serif', 'Times New Roman', serif" font-size="7.3" font-weight="normal" fill="#2c2c2c" text-anchor="middle" stroke="#2c2c2c" stroke-width="0.12">N</text>
<text x="222.90" y="8.78" font-family="'Liberation Serif', 'Times New Roman', serif" font-size="7.3" font-weight="normal" fill="#2c2c2c" text-anchor="middle" stroke="#2c2c2c" stroke-width="0.12">OH</text>
<text x="235.80" y="8.78" font-family="'Liberation Serif', 'Times New Roman', serif" font-size="7.3" font-weight="normal" fill="#2c2c2c" text-anchor="middle" stroke="#2c2c2c" stroke-width="0.12">OH</text>
<text x="194.10" y="55.48" font-family="'Liberation Serif', 'Times New Roman', serif" font-size="7.3" font-weight="normal" fill="#2c2c2c" text-anchor="middle" stroke="#2c2c2c" stroke-width="0.12">HO</text>
<text x="202.10" y="66.48" font-family="'Liberation Serif', 'Times New Roman', serif" font-size="7.3" font-weight="normal" fill="#2c2c2c" text-anchor="middle" stroke="#2c2c2c" stroke-width="0.12">HO</text>
<text x="262.10" y="53.28" font-family="'Liberation Serif', 'Times New Roman', serif" font-size="7.3" font-weight="normal" fill="#2c2c2c" text-anchor="middle" stroke="#2c2c2c" stroke-width="0.12">OH</text>
<text x="257.10" y="63.48" font-family="'Liberation Serif', 'Times New Roman', serif" font-size="7.3" font-weight="normal" fill="#2c2c2c" text-anchor="middle" stroke="#2c2c2c" stroke-width="0.12">OH</text>
<text x="227.20" y="87.50" font-family="'Liberation Serif', 'Times New Roman', serif" font-size="5.5" font-weight="normal" fill="#2c2c2c" text-anchor="middle">+</text>
<line x1="231.26" y1="117.12" x2="240.24" y2="122.38" stroke="#2c2c2c" stroke-width="0.85"/>
<line x1="230.55" y1="118.33" x2="239.53" y2="123.59" stroke="#2c2c2c" stroke-width="0.85"/>
<line x1="243.00" y1="127.20" x2="243.00" y2="136.40" stroke="#2c2c2c" stroke-width="0.85"/>
<line x1="240.20" y1="141.15" x2="231.30" y2="146.05" stroke="#2c2c2c" stroke-width="0.85"/>
<line x1="239.52" y1="139.92" x2="230.63" y2="144.83" stroke="#2c2c2c" stroke-width="0.85"/>
<line x1="225.69" y1="146.07" x2="216.61" y2="141.13" stroke="#2c2c2c" stroke-width="0.85"/>
<line x1="213.80" y1="136.40" x2="213.80" y2="127.20" stroke="#2c2c2c" stroke-width="0.85"/>
<line x1="215.20" y1="136.40" x2="215.20" y2="127.20" stroke="#2c2c2c" stroke-width="0.85"/>
<line x1="216.57" y1="122.40" x2="225.73" y2="117.10" stroke="#2c2c2c" stroke-width="0.85"/>
<line x1="226.05" y1="113.44" x2="216.45" y2="105.36" stroke="#2c2c2c" stroke-width="0.85"/>
<line x1="230.84" y1="113.32" x2="239.26" y2="105.48" stroke="#2c2c2c" stroke-width="0.85"/>
<line x1="210.60" y1="139.60" x2="197.20" y2="139.60" stroke="#2c2c2c" stroke-width="0.85"/>
<line x1="246.20" y1="139.60" x2="257.80" y2="139.60" stroke="#2c2c2c" stroke-width="0.85"/>
<line x1="214.04" y1="142.79" x2="214.76" y2="152.61" stroke="#2c2c2c" stroke-width="0.85"/>
<line x1="243.04" y1="142.80" x2="243.16" y2="152.60" stroke="#2c2c2c" stroke-width="0.85"/>
<text x="228.50" y="118.08" font-family="'Liberation Serif', 'Times New Roman', serif" font-size="7.6" font-weight="normal" fill="#2c2c2c" text-anchor="middle" stroke="#2c2c2c" stroke-width="0.12">P</text>
<text x="243.00" y="126.58" font-family="'Liberation Serif', 'Times New Roman', serif" font-size="7.6" font-weight="normal" fill="#2c2c2c" text-anchor="middle" stroke="#2c2c2c" stroke-width="0.12">N</text>
<text x="243.00" y="142.18" font-family="'Liberation Serif', 'Times New Roman', serif" font-size="7.6" font-weight="normal" fill="#2c2c2c" text-anchor="middle" stroke="#2c2c2c" stroke-width="0.12">P</text>
<text x="228.50" y="150.18" font-family="'Liberation Serif', 'Times New Roman', serif" font-size="7.6" font-weight="normal" fill="#2c2c2c" text-anchor="middle" stroke="#2c2c2c" stroke-width="0.12">N</text>
<text x="213.80" y="142.18" font-family="'Liberation Serif', 'Times New Roman', serif" font-size="7.6" font-weight="normal" fill="#2c2c2c" text-anchor="middle" stroke="#2c2c2c" stroke-width="0.12">P</text>
<text x="213.80" y="126.58" font-family="'Liberation Serif', 'Times New Roman', serif" font-size="7.6" font-weight="normal" fill="#2c2c2c" text-anchor="middle" stroke="#2c2c2c" stroke-width="0.12">N</text>
<text x="214.00" y="105.88" font-family="'Liberation Serif', 'Times New Roman', serif" font-size="7.6" font-weight="normal" fill="#2c2c2c" text-anchor="middle" stroke="#2c2c2c" stroke-width="0.12">Cl</text>
<text x="241.60" y="105.88" font-family="'Liberation Serif', 'Times New Roman', serif" font-size="7.6" font-weight="normal" fill="#2c2c2c" text-anchor="middle" stroke="#2c2c2c" stroke-width="0.12">Cl</text>
<text x="194.00" y="142.18" font-family="'Liberation Serif', 'Times New Roman', serif" font-size="7.6" font-weight="normal" fill="#2c2c2c" text-anchor="middle" stroke="#2c2c2c" stroke-width="0.12">Cl</text>
<text x="261.00" y="142.18" font-family="'Liberation Serif', 'Times New Roman', serif" font-size="7.6" font-weight="normal" fill="#2c2c2c" text-anchor="middle" stroke="#2c2c2c" stroke-width="0.12">Cl</text>
<text x="215.00" y="158.38" font-family="'Liberation Serif', 'Times New Roman', serif" font-size="7.6" font-weight="normal" fill="#2c2c2c" text-anchor="middle" stroke="#2c2c2c" stroke-width="0.12">Cl</text>
<text x="243.20" y="158.38" font-family="'Liberation Serif', 'Times New Roman', serif" font-size="7.6" font-weight="normal" fill="#2c2c2c" text-anchor="middle" stroke="#2c2c2c" stroke-width="0.12">Cl</text>
<line x1="184.50" y1="125.80" x2="146.50" y2="125.80" stroke="#222" stroke-width="0.7"/>
<polygon points="142.50,125.80 147.00,124.40 147.00,127.20" fill="#222"/>
<line x1="76.01" y1="123.02" x2="69.80" y2="118.20" stroke="#2c2c2c" stroke-width="0.85"/>
<line x1="69.80" y1="118.20" x2="69.80" y2="113.00" stroke="#2c2c2c" stroke-width="0.85"/>
<line x1="71.92" y1="108.13" x2="76.18" y2="104.17" stroke="#2c2c2c" stroke-width="0.85"/>
<line x1="80.51" y1="104.08" x2="85.39" y2="108.22" stroke="#2c2c2c" stroke-width="0.85"/>
<line x1="87.60" y1="113.00" x2="87.60" y2="118.20" stroke="#2c2c2c" stroke-width="0.85"/>
<line x1="87.60" y1="118.20" x2="80.66" y2="123.12" stroke="#2c2c2c" stroke-width="0.85"/>
<line x1="75.69" y1="100.94" x2="71.61" y2="98.96" stroke="#2c2c2c" stroke-width="0.85"/>
<line x1="69.00" y1="94.80" x2="69.00" y2="90.40" stroke="#2c2c2c" stroke-width="0.85"/>
<line x1="70.00" y1="94.80" x2="70.00" y2="90.40" stroke="#2c2c2c" stroke-width="0.85"/>
<line x1="71.57" y1="86.16" x2="76.43" y2="83.64" stroke="#2c2c2c" stroke-width="0.85"/>
<line x1="81.52" y1="83.73" x2="85.68" y2="86.07" stroke="#2c2c2c" stroke-width="0.85"/>
<line x1="81.03" y1="84.60" x2="85.18" y2="86.94" stroke="#2c2c2c" stroke-width="0.85"/>
<line x1="88.03" y1="90.39" x2="87.77" y2="94.81" stroke="#2c2c2c" stroke-width="0.85"/>
<line x1="84.99" y1="98.96" x2="80.91" y2="100.94" stroke="#2c2c2c" stroke-width="0.85"/>
<line x1="84.55" y1="98.06" x2="80.47" y2="100.04" stroke="#2c2c2c" stroke-width="0.85"/>
<line x1="78.21" y1="127.70" x2="78.00" y2="134.30" stroke="#2c2c2c" stroke-width="0.85"/>
<line x1="78.00" y1="134.30" x2="84.56" y2="137.90" stroke="#2c2c2c" stroke-width="0.85"/>
<line x1="79.30" y1="133.87" x2="84.22" y2="136.58" stroke="#2c2c2c" stroke-width="0.85"/>
<line x1="87.31" y1="142.19" x2="87.80" y2="148.90" stroke="#2c2c2c" stroke-width="0.85"/>
<line x1="87.80" y1="148.90" x2="80.55" y2="152.82" stroke="#2c2c2c" stroke-width="0.85"/>
<line x1="87.39" y1="150.26" x2="81.91" y2="153.22" stroke="#2c2c2c" stroke-width="0.85"/>
<line x1="75.52" y1="152.70" x2="69.20" y2="148.90" stroke="#2c2c2c" stroke-width="0.85"/>
<line x1="69.20" y1="148.90" x2="68.78" y2="142.19" stroke="#2c2c2c" stroke-width="0.85"/>
<line x1="68.15" y1="148.10" x2="67.84" y2="143.12" stroke="#2c2c2c" stroke-width="0.85"/>
<line x1="71.16" y1="137.94" x2="78.00" y2="134.30" stroke="#2c2c2c" stroke-width="0.85"/>
<line x1="69.20" y1="148.90" x2="62.41" y2="152.84" stroke="#2c2c2c" stroke-width="0.85"/>
<line x1="57.35" y1="152.92" x2="52.30" y2="150.20" stroke="#2c2c2c" stroke-width="0.85"/>
<line x1="52.30" y1="150.20" x2="44.21" y2="153.27" stroke="#2c2c2c" stroke-width="0.85"/>
<line x1="41.50" y1="157.20" x2="41.50" y2="161.70" stroke="#2c2c2c" stroke-width="0.85"/>
<line x1="44.00" y1="166.07" x2="48.20" y2="168.53" stroke="#2c2c2c" stroke-width="0.85"/>
<line x1="53.04" y1="168.28" x2="59.40" y2="163.60" stroke="#2c2c2c" stroke-width="0.85"/>
<line x1="59.40" y1="163.60" x2="59.74" y2="157.20" stroke="#2c2c2c" stroke-width="0.85"/>
<line x1="38.64" y1="164.13" x2="34.56" y2="163.47" stroke="#2c2c2c" stroke-width="0.85"/>
<line x1="38.80" y1="163.15" x2="34.72" y2="162.48" stroke="#2c2c2c" stroke-width="0.85"/>
<line x1="28.90" y1="163.75" x2="26.30" y2="164.45" stroke="#2c2c2c" stroke-width="0.85"/>
<line x1="23.50" y1="168.10" x2="23.50" y2="172.50" stroke="#2c2c2c" stroke-width="0.85"/>
<line x1="22.50" y1="168.10" x2="22.50" y2="172.50" stroke="#2c2c2c" stroke-width="0.85"/>
<line x1="26.02" y1="176.84" x2="29.88" y2="179.06" stroke="#2c2c2c" stroke-width="0.85"/>
<line x1="34.93" y1="179.08" x2="38.97" y2="176.82" stroke="#2c2c2c" stroke-width="0.85"/>
<line x1="35.42" y1="179.95" x2="39.46" y2="177.69" stroke="#2c2c2c" stroke-width="0.85"/>
<line x1="41.50" y1="172.50" x2="41.50" y2="167.50" stroke="#2c2c2c" stroke-width="0.85"/>
<line x1="87.80" y1="148.90" x2="95.15" y2="152.91" stroke="#2c2c2c" stroke-width="0.85"/>
<line x1="100.27" y1="152.95" x2="106.10" y2="149.90" stroke="#2c2c2c" stroke-width="0.85"/>
<line x1="106.10" y1="149.90" x2="113.06" y2="153.09" stroke="#2c2c2c" stroke-width="0.85"/>
<line x1="115.59" y1="157.20" x2="115.41" y2="161.70" stroke="#2c2c2c" stroke-width="0.85"/>
<line x1="112.75" y1="165.98" x2="108.65" y2="168.22" stroke="#2c2c2c" stroke-width="0.85"/>
<line x1="103.87" y1="167.74" x2="98.20" y2="163.00" stroke="#2c2c2c" stroke-width="0.85"/>
<line x1="98.20" y1="163.00" x2="97.87" y2="157.20" stroke="#2c2c2c" stroke-width="0.85"/>
<line x1="118.16" y1="164.14" x2="122.34" y2="163.46" stroke="#2c2c2c" stroke-width="0.85"/>
<line x1="118.00" y1="163.15" x2="122.18" y2="162.48" stroke="#2c2c2c" stroke-width="0.85"/>
<line x1="128.01" y1="163.71" x2="131.09" y2="164.49" stroke="#2c2c2c" stroke-width="0.85"/>
<line x1="133.90" y1="168.10" x2="133.90" y2="172.50" stroke="#2c2c2c" stroke-width="0.85"/>
<line x1="134.90" y1="168.10" x2="134.90" y2="172.50" stroke="#2c2c2c" stroke-width="0.85"/>
<line x1="131.34" y1="176.77" x2="126.96" y2="179.13" stroke="#2c2c2c" stroke-width="0.85"/>
<line x1="121.90" y1="179.03" x2="118.20" y2="176.87" stroke="#2c2c2c" stroke-width="0.85"/>
<line x1="121.39" y1="179.90" x2="117.70" y2="177.73" stroke="#2c2c2c" stroke-width="0.85"/>
<line x1="115.59" y1="172.50" x2="115.41" y2="167.50" stroke="#2c2c2c" stroke-width="0.85"/>
<text x="78.30" y="127.42" font-family="'Liberation Serif', 'Times New Roman', serif" font-size="7.7" font-weight="normal" fill="#2c2c2c" text-anchor="middle" stroke="#2c2c2c" stroke-width="0.18">N</text>
<text x="69.80" y="112.72" font-family="'Liberation Serif', 'Times New Roman', serif" font-size="7.7" font-weight="normal" fill="#2c2c2c" text-anchor="middle" stroke="#2c2c2c" stroke-width="0.18">O</text>
<text x="78.30" y="104.82" font-family="'Liberation Serif', 'Times New Roman', serif" font-size="7.7" font-weight="normal" fill="#2c2c2c" text-anchor="middle" stroke="#2c2c2c" stroke-width="0.18">P</text>
<text x="87.60" y="112.72" font-family="'Liberation Serif', 'Times New Roman', serif" font-size="7.7" font-weight="normal" fill="#2c2c2c" text-anchor="middle" stroke="#2c2c2c" stroke-width="0.18">O</text>
<text x="69.00" y="100.32" font-family="'Liberation Serif', 'Times New Roman', serif" font-size="7.7" font-weight="normal" fill="#2c2c2c" text-anchor="middle" stroke="#2c2c2c" stroke-width="0.18">N</text>
<text x="69.00" y="90.12" font-family="'Liberation Serif', 'Times New Roman', serif" font-size="7.7" font-weight="normal" fill="#2c2c2c" text-anchor="middle" stroke="#2c2c2c" stroke-width="0.18">P</text>
<text x="79.00" y="84.92" font-family="'Liberation Serif', 'Times New Roman', serif" font-size="7.7" font-weight="normal" fill="#2c2c2c" text-anchor="middle" stroke="#2c2c2c" stroke-width="0.18">N</text>
<text x="88.20" y="90.12" font-family="'Liberation Serif', 'Times New Roman', serif" font-size="7.7" font-weight="normal" fill="#2c2c2c" text-anchor="middle" stroke="#2c2c2c" stroke-width="0.18">P</text>
<text x="87.60" y="100.32" font-family="'Liberation Serif', 'Times New Roman', serif" font-size="7.7" font-weight="normal" fill="#2c2c2c" text-anchor="middle" stroke="#2c2c2c" stroke-width="0.18">N</text>
<text x="87.10" y="141.92" font-family="'Liberation Serif', 'Times New Roman', serif" font-size="7.7" font-weight="normal" fill="#2c2c2c" text-anchor="middle" stroke="#2c2c2c" stroke-width="0.18">N</text>
<text x="78.00" y="156.82" font-family="'Liberation Serif', 'Times New Roman', serif" font-size="7.7" font-weight="normal" fill="#2c2c2c" text-anchor="middle" stroke="#2c2c2c" stroke-width="0.18">N</text>
<text x="68.60" y="141.92" font-family="'Liberation Serif', 'Times New Roman', serif" font-size="7.7" font-weight="normal" fill="#2c2c2c" text-anchor="middle" stroke="#2c2c2c" stroke-width="0.18">N</text>
<text x="59.90" y="156.92" font-family="'Liberation Serif', 'Times New Roman', serif" font-size="7.7" font-weight="normal" fill="#2c2c2c" text-anchor="middle" stroke="#2c2c2c" stroke-width="0.18">N</text>
<text x="41.50" y="156.92" font-family="'Liberation Serif', 'Times New Roman', serif" font-size="7.7" font-weight="normal" fill="#2c2c2c" text-anchor="middle" stroke="#2c2c2c" stroke-width="0.18">O</text>
<text x="41.50" y="167.22" font-family="'Liberation Serif', 'Times New Roman', serif" font-size="7.7" font-weight="normal" fill="#2c2c2c" text-anchor="middle" stroke="#2c2c2c" stroke-width="0.18">P</text>
<text x="50.70" y="172.62" font-family="'Liberation Serif', 'Times New Roman', serif" font-size="7.7" font-weight="normal" fill="#2c2c2c" text-anchor="middle" stroke="#2c2c2c" stroke-width="0.18">O</text>
<text x="31.70" y="165.62" font-family="'Liberation Serif', 'Times New Roman', serif" font-size="7.7" font-weight="normal" fill="#2c2c2c" text-anchor="middle" stroke="#2c2c2c" stroke-width="0.18">N</text>
<text x="23.50" y="167.82" font-family="'Liberation Serif', 'Times New Roman', serif" font-size="7.7" font-weight="normal" fill="#2c2c2c" text-anchor="middle" stroke="#2c2c2c" stroke-width="0.18">P</text>
<text x="23.50" y="178.02" font-family="'Liberation Serif', 'Times New Roman', serif" font-size="7.7" font-weight="normal" fill="#2c2c2c" text-anchor="middle" stroke="#2c2c2c" stroke-width="0.18">N</text>
<text x="32.40" y="183.12" font-family="'Liberation Serif', 'Times New Roman', serif" font-size="7.7" font-weight="normal" fill="#2c2c2c" text-anchor="middle" stroke="#2c2c2c" stroke-width="0.18">P</text>
<text x="41.50" y="178.02" font-family="'Liberation Serif', 'Times New Roman', serif" font-size="7.7" font-weight="normal" fill="#2c2c2c" text-anchor="middle" stroke="#2c2c2c" stroke-width="0.18">N</text>
<text x="97.70" y="156.92" font-family="'Liberation Serif', 'Times New Roman', serif" font-size="7.7" font-weight="normal" fill="#2c2c2c" text-anchor="middle" stroke="#2c2c2c" stroke-width="0.18">N</text>
<text x="115.70" y="156.92" font-family="'Liberation Serif', 'Times New Roman', serif" font-size="7.7" font-weight="normal" fill="#2c2c2c" text-anchor="middle" stroke="#2c2c2c" stroke-width="0.18">O</text>
<text x="115.30" y="167.22" font-family="'Liberation Serif', 'Times New Roman', serif" font-size="7.7" font-weight="normal" fill="#2c2c2c" text-anchor="middle" stroke="#2c2c2c" stroke-width="0.18">P</text>
<text x="106.10" y="172.22" font-family="'Liberation Serif', 'Times New Roman', serif" font-size="7.7" font-weight="normal" fill="#2c2c2c" text-anchor="middle" stroke="#2c2c2c" stroke-width="0.18">O</text>
<text x="125.20" y="165.62" font-family="'Liberation Serif', 'Times New Roman', serif" font-size="7.7" font-weight="normal" fill="#2c2c2c" text-anchor="middle" stroke="#2c2c2c" stroke-width="0.18">N</text>
<text x="133.90" y="167.82" font-family="'Liberation Serif', 'Times New Roman', serif" font-size="7.7" font-weight="normal" fill="#2c2c2c" text-anchor="middle" stroke="#2c2c2c" stroke-width="0.18">P</text>
<text x="133.90" y="178.02" font-family="'Liberation Serif', 'Times New Roman', serif" font-size="7.7" font-weight="normal" fill="#2c2c2c" text-anchor="middle" stroke="#2c2c2c" stroke-width="0.18">N</text>
<text x="124.40" y="183.12" font-family="'Liberation Serif', 'Times New Roman', serif" font-size="7.7" font-weight="normal" fill="#2c2c2c" text-anchor="middle" stroke="#2c2c2c" stroke-width="0.18">P</text>
<text x="115.70" y="178.02" font-family="'Liberation Serif', 'Times New Roman', serif" font-size="7.7" font-weight="normal" fill="#2c2c2c" text-anchor="middle" stroke="#2c2c2c" stroke-width="0.18">N</text>
<polyline points="68.30,85.00 68.75,84.65 69.06,84.31 69.15,84.02 68.97,83.77 68.56,83.56 68.03,83.38 67.49,83.19 67.08,82.98 66.90,82.73 66.99,82.44 67.30,82.10 67.75,81.75 68.20,81.40 68.51,81.06 68.60,80.77 68.42,80.52 68.01,80.31 67.47,80.12 66.94,79.94 66.53,79.73 66.35,79.48 66.44,79.19 66.75,78.85 67.20,78.50" fill="none" stroke="#2c2c2c" stroke-width="0.7" stroke-linejoin="round"/>
<polyline points="66.60,88.30 66.23,87.86 65.88,87.55 65.58,87.47 65.32,87.65 65.10,88.06 64.90,88.60 64.70,89.14 64.48,89.55 64.22,89.73 63.92,89.65 63.57,89.34 63.20,88.90 62.83,88.46 62.48,88.15 62.18,88.07 61.92,88.25 61.70,88.66 61.50,89.20 61.30,89.74 61.08,90.15 60.82,90.33 60.52,90.25 60.17,89.94 59.80,89.50" fill="none" stroke="#2c2c2c" stroke-width="0.7" stroke-linejoin="round"/>
<polyline points="89.00,85.00 89.58,85.00 90.06,84.94 90.33,84.75 90.37,84.42 90.22,83.97 89.95,83.45 89.68,82.93 89.53,82.48 89.57,82.15 89.84,81.96 90.32,81.90 90.90,81.90 91.48,81.90 91.96,81.84 92.23,81.65 92.27,81.32 92.12,80.87 91.85,80.35 91.58,79.83 91.43,79.38 91.47,79.05 91.74,78.86 92.22,78.80 92.80,78.80" fill="none" stroke="#2c2c2c" stroke-width="0.7" stroke-linejoin="round"/>
<polyline points="90.60,88.30 90.69,88.86 90.83,89.28 91.03,89.49 91.32,89.44 91.68,89.17 92.07,88.78 92.47,88.38 92.83,88.11 93.12,88.06 93.32,88.27 93.46,88.69 93.55,89.25 93.64,89.81 93.78,90.23 93.98,90.44 94.27,90.39 94.63,90.12 95.03,89.72 95.42,89.33 95.78,89.06 96.07,89.01 96.27,89.22 96.41,89.64 96.50,90.20" fill="none" stroke="#2c2c2c" stroke-width="0.7" stroke-linejoin="round"/>
<polyline points="22.80,162.80 23.22,162.40 23.51,162.03 23.57,161.72 23.38,161.47 22.95,161.27 22.40,161.10 21.85,160.93 21.42,160.73 21.23,160.48 21.29,160.17 21.58,159.80 22.00,159.40 22.42,159.00 22.71,158.63 22.77,158.32 22.58,158.07 22.15,157.87 21.60,157.70 21.05,157.53 20.62,157.33 20.43,157.08 20.49,156.77 20.78,156.40 21.20,156.00" fill="none" stroke="#2c2c2c" stroke-width="0.7" stroke-linejoin="round"/>
<polyline points="21.00,165.60 20.81,165.07 20.59,164.67 20.35,164.51 20.08,164.61 19.77,164.94 19.45,165.40 19.13,165.86 18.82,166.19 18.55,166.29 18.31,166.13 18.09,165.73 17.90,165.20 17.71,164.67 17.49,164.27 17.25,164.11 16.98,164.21 16.67,164.54 16.35,165.00 16.03,165.46 15.72,165.79 15.45,165.89 15.21,165.73 14.99,165.33 14.80,164.80" fill="none" stroke="#2c2c2c" stroke-width="0.7" stroke-linejoin="round"/>
<polyline points="31.20,183.00 30.70,182.73 30.28,182.57 29.99,182.61 29.85,182.86 29.84,183.31 29.90,183.88 29.96,184.44 29.95,184.89 29.81,185.14 29.52,185.18 29.10,185.02 28.60,184.75 28.10,184.48 27.68,184.32 27.39,184.36 27.25,184.61 27.24,185.06 27.30,185.62 27.36,186.19 27.35,186.64 27.21,186.89 26.92,186.93 26.50,186.77 26.00,186.50" fill="none" stroke="#2c2c2c" stroke-width="0.7" stroke-linejoin="round"/>
<polyline points="34.00,183.00 33.84,183.52 33.76,183.94 33.84,184.19 34.10,184.24 34.50,184.11 35.00,183.88 35.50,183.64 35.90,183.51 36.16,183.56 36.24,183.81 36.16,184.23 36.00,184.75 35.84,185.27 35.76,185.69 35.84,185.94 36.10,185.99 36.50,185.86 37.00,185.62 37.50,185.39 37.90,185.26 38.16,185.31 38.24,185.56 38.16,185.98 38.00,186.50" fill="none" stroke="#2c2c2c" stroke-width="0.7" stroke-linejoin="round"/>
<polyline points="134.50,162.80 135.04,162.64 135.46,162.45 135.64,162.21 135.56,161.93 135.26,161.59 134.82,161.23 134.39,160.86 134.09,160.52 134.01,160.24 134.19,160.00 134.61,159.81 135.15,159.65 135.69,159.49 136.11,159.30 136.29,159.06 136.21,158.78 135.91,158.44 135.48,158.07 135.04,157.71 134.74,157.37 134.66,157.09 134.84,156.85 135.26,156.66 135.80,156.50" fill="none" stroke="#2c2c2c" stroke-width="0.7" stroke-linejoin="round"/>
<polyline points="136.50,165.60 136.89,166.02 137.25,166.31 137.55,166.37 137.79,166.17 137.97,165.75 138.12,165.20 138.28,164.65 138.46,164.23 138.70,164.03 139.00,164.09 139.36,164.38 139.75,164.80 140.14,165.22 140.50,165.51 140.80,165.57 141.04,165.37 141.22,164.95 141.38,164.40 141.53,163.85 141.71,163.43 141.95,163.23 142.25,163.29 142.61,163.58 143.00,164.00" fill="none" stroke="#2c2c2c" stroke-width="0.7" stroke-linejoin="round"/>
<polyline points="122.80,183.00 122.31,182.76 121.89,182.62 121.63,182.66 121.54,182.91 121.59,183.34 121.72,183.88 121.86,184.41 121.91,184.84 121.82,185.09 121.56,185.13 121.14,184.99 120.65,184.75 120.16,184.51 119.74,184.37 119.48,184.41 119.39,184.66 119.44,185.09 119.58,185.62 119.71,186.16 119.76,186.59 119.67,186.84 119.41,186.88 118.99,186.74 118.50,186.50" fill="none" stroke="#2c2c2c" stroke-width="0.7" stroke-linejoin="round"/>
<polyline points="126.00,183.00 125.92,183.56 125.92,184.00 126.05,184.26 126.34,184.29 126.75,184.14 127.25,183.88 127.75,183.61 128.16,183.46 128.45,183.49 128.58,183.75 128.58,184.19 128.50,184.75 128.42,185.31 128.42,185.75 128.55,186.01 128.84,186.04 129.25,185.89 129.75,185.62 130.25,185.36 130.66,185.21 130.95,185.24 131.08,185.50 131.08,185.94 131.00,186.50" fill="none" stroke="#2c2c2c" stroke-width="0.7" stroke-linejoin="round"/>
<text x="292.30" y="10.40" font-family="'Liberation Sans', Arial, sans-serif" font-size="10.5" font-weight="bold" fill="#111" text-anchor="start" stroke="#111" stroke-width="0.35">f</text>
<line x1="330.46" y1="27.87" x2="339.04" y2="33.13" stroke="#1a1a1a" stroke-width="0.7"/>
<line x1="331.03" y1="26.93" x2="339.62" y2="32.19" stroke="#1a1a1a" stroke-width="0.7"/>
<line x1="341.60" y1="37.70" x2="341.60" y2="47.30" stroke="#1a1a1a" stroke-width="0.7"/>
<line x1="338.95" y1="51.71" x2="330.55" y2="56.19" stroke="#1a1a1a" stroke-width="0.7"/>
<line x1="339.47" y1="52.68" x2="331.06" y2="57.16" stroke="#1a1a1a" stroke-width="0.7"/>
<line x1="325.26" y1="56.18" x2="316.94" y2="51.72" stroke="#1a1a1a" stroke-width="0.7"/>
<line x1="314.34" y1="47.30" x2="314.46" y2="37.70" stroke="#1a1a1a" stroke-width="0.7"/>
<line x1="313.24" y1="47.29" x2="313.36" y2="37.69" stroke="#1a1a1a" stroke-width="0.7"/>
<line x1="317.04" y1="33.11" x2="325.36" y2="27.89" stroke="#1a1a1a" stroke-width="0.7"/>
<line x1="326.09" y1="23.91" x2="320.41" y2="16.39" stroke="#1a1a1a" stroke-width="0.7"/>
<line x1="329.59" y1="23.82" x2="334.61" y2="16.48" stroke="#1a1a1a" stroke-width="0.7"/>
<line x1="311.30" y1="50.30" x2="300.80" y2="50.30" stroke="#1a1a1a" stroke-width="0.7"/>
<line x1="344.60" y1="50.30" x2="354.60" y2="50.30" stroke="#1a1a1a" stroke-width="0.7"/>
<line x1="312.59" y1="52.76" x2="307.31" y2="60.34" stroke="#1a1a1a" stroke-width="0.7"/>
<line x1="343.19" y1="52.85" x2="347.81" y2="60.25" stroke="#1a1a1a" stroke-width="0.7"/>
<text x="327.90" y="28.00" font-family="'Liberation Sans', Arial, sans-serif" font-size="5.0" font-weight="bold" fill="#1a1a1a" text-anchor="middle">P</text>
<text x="341.60" y="36.40" font-family="'Liberation Sans', Arial, sans-serif" font-size="5.0" font-weight="bold" fill="#1a1a1a" text-anchor="middle">N</text>
<text x="341.60" y="52.00" font-family="'Liberation Sans', Arial, sans-serif" font-size="5.0" font-weight="bold" fill="#1a1a1a" text-anchor="middle">P</text>
<text x="327.90" y="59.30" font-family="'Liberation Sans', Arial, sans-serif" font-size="5.0" font-weight="bold" fill="#1a1a1a" text-anchor="middle">N</text>
<text x="314.30" y="52.00" font-family="'Liberation Sans', Arial, sans-serif" font-size="5.0" font-weight="bold" fill="#1a1a1a" text-anchor="middle">P</text>
<text x="314.50" y="36.40" font-family="'Liberation Sans', Arial, sans-serif" font-size="5.0" font-weight="bold" fill="#1a1a1a" text-anchor="middle">N</text>
<text x="318.60" y="15.70" font-family="'Liberation Sans', Arial, sans-serif" font-size="5.0" font-weight="bold" fill="#1a1a1a" text-anchor="middle">Cl</text>
<text x="336.30" y="15.70" font-family="'Liberation Sans', Arial, sans-serif" font-size="5.0" font-weight="bold" fill="#1a1a1a" text-anchor="middle">Cl</text>
<text x="297.80" y="52.00" font-family="'Liberation Sans', Arial, sans-serif" font-size="5.0" font-weight="bold" fill="#1a1a1a" text-anchor="middle">Cl</text>
<text x="357.60" y="52.00" font-family="'Liberation Sans', Arial, sans-serif" font-size="5.0" font-weight="bold" fill="#1a1a1a" text-anchor="middle">Cl</text>
<text x="305.60" y="64.50" font-family="'Liberation Sans', Arial, sans-serif" font-size="5.0" font-weight="bold" fill="#1a1a1a" text-anchor="middle">Cl</text>
<text x="349.40" y="64.50" font-family="'Liberation Sans', Arial, sans-serif" font-size="5.0" font-weight="bold" fill="#1a1a1a" text-anchor="middle">Cl</text>
<text x="328.40" y="76.20" font-family="'Liberation Serif', 'Times New Roman', serif" font-size="6.2" font-weight="bold" fill="#1a2ee8" text-anchor="middle">HCCP</text>
<line x1="362.70" y1="40.20" x2="422.00" y2="40.20" stroke="#333" stroke-width="1.3"/>
<polygon points="431.50,40.20 421.50,43.30 421.50,37.10" fill="#333"/>
<text x="369.00" y="34.30" font-family="'Liberation Sans', Arial, sans-serif" font-size="5.0" font-weight="bold" fill="#222" text-anchor="middle">HO</text>
<polyline points="375.60,32.40 378.80,28.00 385.20,28.00 388.40,32.40 385.20,36.80 378.80,36.80 375.60,32.40" fill="none" stroke="#2a2a2a" stroke-width="0.75" stroke-linejoin="round"/>
<line x1="379.40" y1="29.40" x2="384.60" y2="29.40" stroke="#2a2a2a" stroke-width="0.6"/>
<line x1="379.40" y1="35.40" x2="384.60" y2="35.40" stroke="#2a2a2a" stroke-width="0.6"/>
<line x1="372.60" y1="32.40" x2="375.60" y2="32.40" stroke="#222" stroke-width="0.75"/>
<line x1="388.40" y1="32.40" x2="391.00" y2="32.40" stroke="#222" stroke-width="0.75"/>
<text x="391.30" y="34.30" font-family="'Liberation Sans', Arial, sans-serif" font-size="5.3" font-weight="bold" fill="#222" text-anchor="start">NHCOCH<tspan font-size="3.8" dy="1.0">3</tspan></text>
<text x="379.00" y="48.30" font-family="'Liberation Serif', 'Times New Roman', serif" font-size="5.9" font-weight="bold" fill="#222" text-anchor="start">K<tspan font-size="4" dy="1">2</tspan><tspan dy="-1">CO</tspan><tspan font-size="4" dy="1">3</tspan></text>
<line x1="493.81" y1="33.67" x2="497.59" y2="35.93" stroke="#1e1e1e" stroke-width="0.7"/>
<line x1="494.26" y1="32.90" x2="498.05" y2="35.15" stroke="#1e1e1e" stroke-width="0.7"/>
<line x1="499.50" y1="39.10" x2="499.70" y2="43.50" stroke="#1e1e1e" stroke-width="0.7"/>
<line x1="498.02" y1="46.71" x2="494.18" y2="49.09" stroke="#1e1e1e" stroke-width="0.7"/>
<line x1="498.49" y1="47.47" x2="494.66" y2="49.86" stroke="#1e1e1e" stroke-width="0.7"/>
<line x1="490.63" y1="49.07" x2="486.37" y2="46.33" stroke="#1e1e1e" stroke-width="0.7"/>
<line x1="484.88" y1="43.12" x2="485.42" y2="39.08" stroke="#1e1e1e" stroke-width="0.7"/>
<line x1="483.99" y1="43.00" x2="484.53" y2="38.96" stroke="#1e1e1e" stroke-width="0.7"/>
<line x1="487.42" y1="35.80" x2="490.28" y2="33.80" stroke="#1e1e1e" stroke-width="0.7"/>
<line x1="490.84" y1="30.85" x2="488.36" y2="27.15" stroke="#1e1e1e" stroke-width="0.7"/>
<line x1="493.24" y1="30.91" x2="496.06" y2="27.09" stroke="#1e1e1e" stroke-width="0.7"/>
<line x1="482.76" y1="44.18" x2="481.04" y2="43.22" stroke="#1e1e1e" stroke-width="0.7"/>
<line x1="501.69" y1="44.68" x2="504.91" y2="43.12" stroke="#1e1e1e" stroke-width="0.7"/>
<line x1="483.70" y1="47.10" x2="482.10" y2="50.50" stroke="#1e1e1e" stroke-width="0.7"/>
<line x1="500.69" y1="47.50" x2="502.11" y2="50.50" stroke="#1e1e1e" stroke-width="0.7"/>
<text x="492.00" y="34.27" font-family="'Liberation Sans', Arial, sans-serif" font-size="4.9" font-weight="bold" fill="#1e1e1e" text-anchor="middle">P</text>
<text x="499.40" y="38.67" font-family="'Liberation Sans', Arial, sans-serif" font-size="4.9" font-weight="bold" fill="#1e1e1e" text-anchor="middle">N</text>
<text x="499.80" y="47.27" font-family="'Liberation Sans', Arial, sans-serif" font-size="4.9" font-weight="bold" fill="#1e1e1e" text-anchor="middle">P</text>
<text x="492.40" y="51.87" font-family="'Liberation Sans', Arial, sans-serif" font-size="4.9" font-weight="bold" fill="#1e1e1e" text-anchor="middle">N</text>
<text x="484.60" y="46.87" font-family="'Liberation Sans', Arial, sans-serif" font-size="4.9" font-weight="bold" fill="#1e1e1e" text-anchor="middle">P</text>
<text x="485.70" y="38.67" font-family="'Liberation Sans', Arial, sans-serif" font-size="4.9" font-weight="bold" fill="#1e1e1e" text-anchor="middle">N</text>
<text x="487.20" y="27.07" font-family="'Liberation Sans', Arial, sans-serif" font-size="4.9" font-weight="bold" fill="#1e1e1e" text-anchor="middle">O</text>
<text x="497.30" y="27.07" font-family="'Liberation Sans', Arial, sans-serif" font-size="4.9" font-weight="bold" fill="#1e1e1e" text-anchor="middle">O</text>
<text x="479.20" y="43.87" font-family="'Liberation Sans', Arial, sans-serif" font-size="4.9" font-weight="bold" fill="#1e1e1e" text-anchor="middle">O</text>
<text x="506.80" y="43.87" font-family="'Liberation Sans', Arial, sans-serif" font-size="4.9" font-weight="bold" fill="#1e1e1e" text-anchor="middle">O</text>
<text x="481.20" y="54.07" font-family="'Liberation Sans', Arial, sans-serif" font-size="4.9" font-weight="bold" fill="#1e1e1e" text-anchor="middle">O</text>
<text x="503.00" y="54.07" font-family="'Liberation Sans', Arial, sans-serif" font-size="4.9" font-weight="bold" fill="#1e1e1e" text-anchor="middle">O</text>
<polyline points="485.44,20.42 480.63,19.53 478.98,14.92 482.16,11.18 486.97,12.07 488.62,16.68 485.44,20.42" fill="none" stroke="#2a2a2a" stroke-width="0.65" stroke-linejoin="round"/>
<line x1="481.30" y1="17.89" x2="480.54" y2="15.76" stroke="#2a2a2a" stroke-width="0.5525"/>
<line x1="483.24" y1="12.59" x2="485.46" y2="13.00" stroke="#2a2a2a" stroke-width="0.5525"/>
<line x1="486.86" y1="16.92" x2="485.40" y2="18.64" stroke="#2a2a2a" stroke-width="0.5525"/>
<line x1="486.60" y1="23.70" x2="485.44" y2="20.42" stroke="#2a2a2a" stroke-width="0.6"/>
<line x1="482.14" y1="11.19" x2="481.34" y2="8.94" stroke="#2a2a2a" stroke-width="0.6"/>
<polyline points="499.17,20.49 495.83,16.91 497.25,12.22 502.03,11.11 505.37,14.69 503.95,19.38 499.17,20.49" fill="none" stroke="#2a2a2a" stroke-width="0.65" stroke-linejoin="round"/>
<line x1="497.35" y1="15.99" x2="498.01" y2="13.83" stroke="#2a2a2a" stroke-width="0.5525"/>
<line x1="502.06" y1="12.89" x2="503.60" y2="14.54" stroke="#2a2a2a" stroke-width="0.5525"/>
<line x1="502.39" y1="18.52" x2="500.19" y2="19.03" stroke="#2a2a2a" stroke-width="0.5525"/>
<line x1="497.89" y1="23.70" x2="499.01" y2="20.43" stroke="#2a2a2a" stroke-width="0.6"/>
<line x1="501.82" y1="11.05" x2="502.35" y2="8.97" stroke="#2a2a2a" stroke-width="0.6"/>
<polyline points="473.81,39.28 469.24,41.04 465.43,37.96 466.19,33.12 470.76,31.36 474.57,34.44 473.81,39.28" fill="none" stroke="#2a2a2a" stroke-width="0.65" stroke-linejoin="round"/>
<line x1="468.96" y1="39.29" x2="467.20" y2="37.87" stroke="#2a2a2a" stroke-width="0.5525"/>
<line x1="467.85" y1="33.75" x2="469.96" y2="32.94" stroke="#2a2a2a" stroke-width="0.5525"/>
<line x1="473.19" y1="35.56" x2="472.84" y2="37.79" stroke="#2a2a2a" stroke-width="0.5525"/>
<line x1="477.69" y1="41.22" x2="474.10" y2="38.88" stroke="#2a2a2a" stroke-width="0.6"/>
<line x1="466.76" y1="32.52" x2="466.26" y2="31.95" stroke="#2a2a2a" stroke-width="0.6"/>
<polyline points="510.50,39.41 509.57,34.60 513.27,31.39 517.90,32.99 518.83,37.80 515.13,41.01 510.50,39.41" fill="none" stroke="#2a2a2a" stroke-width="0.65" stroke-linejoin="round"/>
<line x1="511.35" y1="34.63" x2="513.05" y2="33.15" stroke="#2a2a2a" stroke-width="0.5525"/>
<line x1="516.99" y1="34.51" x2="517.41" y2="36.73" stroke="#2a2a2a" stroke-width="0.5525"/>
<line x1="514.27" y1="39.46" x2="512.13" y2="38.72" stroke="#2a2a2a" stroke-width="0.5525"/>
<line x1="508.20" y1="41.07" x2="510.39" y2="39.29" stroke="#2a2a2a" stroke-width="0.6"/>
<line x1="517.76" y1="32.84" x2="518.77" y2="31.89" stroke="#2a2a2a" stroke-width="0.6"/>
<polyline points="476.28,54.39 478.04,58.96 474.96,62.77 470.12,62.01 468.36,57.44 471.44,53.63 476.28,54.39" fill="none" stroke="#2a2a2a" stroke-width="0.65" stroke-linejoin="round"/>
<line x1="476.29" y1="59.24" x2="474.87" y2="61.00" stroke="#2a2a2a" stroke-width="0.5525"/>
<line x1="470.75" y1="60.35" x2="469.94" y2="58.24" stroke="#2a2a2a" stroke-width="0.5525"/>
<line x1="472.56" y1="55.01" x2="474.79" y2="55.36" stroke="#2a2a2a" stroke-width="0.5525"/>
<line x1="479.74" y1="53.46" x2="477.17" y2="55.32" stroke="#2a2a2a" stroke-width="0.6"/>
<line x1="471.44" y1="62.77" x2="470.56" y2="65.07" stroke="#2a2a2a" stroke-width="0.6"/>
<polyline points="507.71,54.76 512.43,53.46 515.92,56.90 514.69,61.64 509.97,62.94 506.48,59.50 507.71,54.76" fill="none" stroke="#2a2a2a" stroke-width="0.65" stroke-linejoin="round"/>
<line x1="512.54" y1="55.23" x2="514.15" y2="56.82" stroke="#2a2a2a" stroke-width="0.5525"/>
<line x1="513.10" y1="60.84" x2="510.93" y2="61.45" stroke="#2a2a2a" stroke-width="0.5525"/>
<line x1="507.96" y1="58.52" x2="508.53" y2="56.34" stroke="#2a2a2a" stroke-width="0.5525"/>
<line x1="504.47" y1="53.44" x2="507.20" y2="55.37" stroke="#2a2a2a" stroke-width="0.6"/>
<line x1="513.99" y1="62.22" x2="515.63" y2="64.58" stroke="#2a2a2a" stroke-width="0.6"/>
<text x="482.00" y="9.40" font-family="'Liberation Sans', Arial, sans-serif" font-size="5.0" font-weight="bold" fill="#222" text-anchor="end">H<tspan font-size="3.5" dy="0.9">3</tspan><tspan dy="-0.9">COCHN</tspan></text>
<text x="501.80" y="9.40" font-family="'Liberation Sans', Arial, sans-serif" font-size="5.0" font-weight="bold" fill="#222" text-anchor="start">NHCOCH<tspan font-size="3.5" dy="0.9">3</tspan></text>
<text x="465.80" y="32.80" font-family="'Liberation Sans', Arial, sans-serif" font-size="5.0" font-weight="bold" fill="#222" text-anchor="end">H<tspan font-size="3.5" dy="0.9">3</tspan><tspan dy="-0.9">COCHN</tspan></text>
<text x="519.60" y="32.80" font-family="'Liberation Sans', Arial, sans-serif" font-size="5.0" font-weight="bold" fill="#222" text-anchor="start">NHCOCH<tspan font-size="3.5" dy="0.9">3</tspan></text>
<text x="470.60" y="67.80" font-family="'Liberation Sans', Arial, sans-serif" font-size="5.0" font-weight="bold" fill="#222" text-anchor="end">H<tspan font-size="3.5" dy="0.9">3</tspan><tspan dy="-0.9">COCHN</tspan></text>
<text x="515.80" y="67.00" font-family="'Liberation Sans', Arial, sans-serif" font-size="5.0" font-weight="bold" fill="#222" text-anchor="start">NHCOCH<tspan font-size="3.5" dy="0.9">3</tspan></text>
<text x="492.60" y="77.60" font-family="'Liberation Serif', 'Times New Roman', serif" font-size="6.2" font-weight="bold" fill="#1a2ee8" text-anchor="middle">HACP</text>
</g>
</svg>
</body></html>
